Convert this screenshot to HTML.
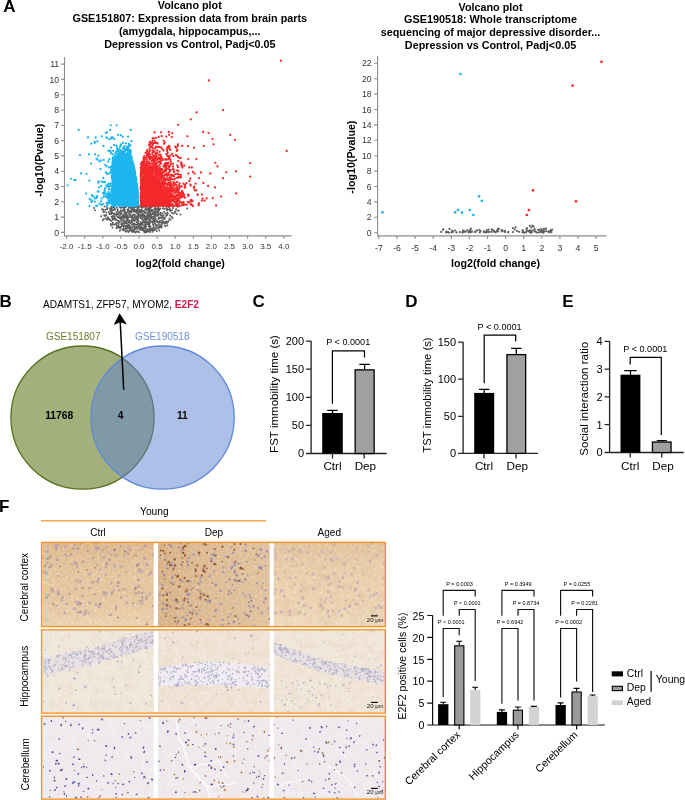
<!DOCTYPE html>
<html><head><meta charset="utf-8"><title>Figure</title>
<style>
html,body{margin:0;padding:0;background:#fff;}
body{width:685px;height:800px;overflow:hidden;}
svg{display:block;font-family:'Liberation Sans', Arial, sans-serif;}
</style></head>
<body>
<svg width="685" height="800" viewBox="0 0 685 800">
<rect width="685" height="800" fill="#fff"/>
<text x="3.20" y="12.40" font-size="17" font-weight="bold">A</text>
<text x="-0.50" y="306.60" font-size="17" font-weight="bold">B</text>
<text x="252.40" y="307.20" font-size="17" font-weight="bold">C</text>
<text x="405.20" y="306.50" font-size="17" font-weight="bold">D</text>
<text x="562.30" y="307.10" font-size="17" font-weight="bold">E</text>
<text x="-1.00" y="512.00" font-size="17" font-weight="bold">F</text>
<text x="189.80" y="8.80" font-size="10.8" font-weight="bold" text-anchor="middle">Volcano plot</text>
<text x="189.80" y="21.70" font-size="10.8" font-weight="bold" text-anchor="middle">GSE151807: Expression data from brain parts</text>
<text x="189.80" y="34.60" font-size="10.8" font-weight="bold" text-anchor="middle">(amygdala, hippocampus,...</text>
<text x="189.80" y="47.50" font-size="10.8" font-weight="bold" text-anchor="middle">Depression vs Control, Padj&lt;0.05</text>
<text x="490.50" y="10.50" font-size="10.8" font-weight="bold" text-anchor="middle">Volcano plot</text>
<text x="490.50" y="23.45" font-size="10.8" font-weight="bold" text-anchor="middle">GSE190518: Whole transcriptome</text>
<text x="490.50" y="36.40" font-size="10.8" font-weight="bold" text-anchor="middle">sequencing of major depressive disorder...</text>
<text x="490.50" y="49.35" font-size="10.8" font-weight="bold" text-anchor="middle">Depression vs Control, Padj&lt;0.05</text>
<path d="M64.5 57.3V235.9H291.6M61.1 232.4H64.5M61.1 217.1H64.5M61.1 201.8H64.5M61.1 186.5H64.5M61.1 171.2H64.5M61.1 155.9H64.5M61.1 140.6H64.5M61.1 125.3H64.5M61.1 110.0H64.5M61.1 94.7H64.5M61.1 79.4H64.5M61.1 64.1H64.5M66.6 235.9V238.7M84.7 235.9V238.7M102.8 235.9V238.7M120.9 235.9V238.7M139.0 235.9V238.7M157.1 235.9V238.7M175.2 235.9V238.7M193.3 235.9V238.7M211.4 235.9V238.7M229.5 235.9V238.7M247.6 235.9V238.7M265.7 235.9V238.7M283.8 235.9V238.7" stroke="#8c8c8c" stroke-width="1.1" fill="none"/>
<text x="59.20" y="235.50" font-size="8.7" text-anchor="end" fill="#333">0</text>
<text x="59.20" y="220.20" font-size="8.7" text-anchor="end" fill="#333">1</text>
<text x="59.20" y="204.90" font-size="8.7" text-anchor="end" fill="#333">2</text>
<text x="59.20" y="189.60" font-size="8.7" text-anchor="end" fill="#333">3</text>
<text x="59.20" y="174.30" font-size="8.7" text-anchor="end" fill="#333">4</text>
<text x="59.20" y="159.00" font-size="8.7" text-anchor="end" fill="#333">5</text>
<text x="59.20" y="143.70" font-size="8.7" text-anchor="end" fill="#333">6</text>
<text x="59.20" y="128.40" font-size="8.7" text-anchor="end" fill="#333">7</text>
<text x="59.20" y="113.10" font-size="8.7" text-anchor="end" fill="#333">8</text>
<text x="59.20" y="97.80" font-size="8.7" text-anchor="end" fill="#333">9</text>
<text x="59.20" y="82.50" font-size="8.7" text-anchor="end" fill="#333">10</text>
<text x="59.20" y="67.20" font-size="8.7" text-anchor="end" fill="#333">11</text>
<text x="66.60" y="249.20" font-size="8.0" text-anchor="middle" fill="#333">-2.0</text>
<text x="84.70" y="249.20" font-size="8.0" text-anchor="middle" fill="#333">-1.5</text>
<text x="102.80" y="249.20" font-size="8.0" text-anchor="middle" fill="#333">-1.0</text>
<text x="120.90" y="249.20" font-size="8.0" text-anchor="middle" fill="#333">-0.5</text>
<text x="139.00" y="249.20" font-size="8.0" text-anchor="middle" fill="#333">0.0</text>
<text x="157.10" y="249.20" font-size="8.0" text-anchor="middle" fill="#333">0.5</text>
<text x="175.20" y="249.20" font-size="8.0" text-anchor="middle" fill="#333">1.0</text>
<text x="193.30" y="249.20" font-size="8.0" text-anchor="middle" fill="#333">1.5</text>
<text x="211.40" y="249.20" font-size="8.0" text-anchor="middle" fill="#333">2.0</text>
<text x="229.50" y="249.20" font-size="8.0" text-anchor="middle" fill="#333">2.5</text>
<text x="247.60" y="249.20" font-size="8.0" text-anchor="middle" fill="#333">3.0</text>
<text x="265.70" y="249.20" font-size="8.0" text-anchor="middle" fill="#333">3.5</text>
<text x="283.80" y="249.20" font-size="8.0" text-anchor="middle" fill="#333">4.0</text>
<text x="180.40" y="266.90" font-size="10.7" font-weight="bold" text-anchor="middle">log2(fold change)</text>
<text x="42.60" y="160.30" font-size="10.7" font-weight="bold" text-anchor="middle" transform="rotate(-90 42.60 160.30)">-log10(Pvalue)</text>
<path d="M377.6 56.1V235.9H606.5M374.2 232.7H377.6M374.2 217.3H377.6M374.2 201.9H377.6M374.2 186.5H377.6M374.2 171.1H377.6M374.2 155.7H377.6M374.2 140.3H377.6M374.2 124.9H377.6M374.2 109.5H377.6M374.2 94.1H377.6M374.2 78.7H377.6M374.2 63.3H377.6M378.9 235.9V239.1M397.0 235.9V239.1M415.1 235.9V239.1M433.2 235.9V239.1M451.3 235.9V239.1M469.4 235.9V239.1M487.5 235.9V239.1M505.6 235.9V239.1M523.7 235.9V239.1M541.8 235.9V239.1M559.9 235.9V239.1M578.0 235.9V239.1M596.1 235.9V239.1" stroke="#8c8c8c" stroke-width="1.1" fill="none"/>
<text x="371.60" y="235.80" font-size="8.7" text-anchor="end" fill="#333">0</text>
<text x="371.60" y="220.40" font-size="8.7" text-anchor="end" fill="#333">2</text>
<text x="371.60" y="205.00" font-size="8.7" text-anchor="end" fill="#333">4</text>
<text x="371.60" y="189.60" font-size="8.7" text-anchor="end" fill="#333">6</text>
<text x="371.60" y="174.20" font-size="8.7" text-anchor="end" fill="#333">8</text>
<text x="371.60" y="158.80" font-size="8.7" text-anchor="end" fill="#333">10</text>
<text x="371.60" y="143.40" font-size="8.7" text-anchor="end" fill="#333">12</text>
<text x="371.60" y="128.00" font-size="8.7" text-anchor="end" fill="#333">14</text>
<text x="371.60" y="112.60" font-size="8.7" text-anchor="end" fill="#333">16</text>
<text x="371.60" y="97.20" font-size="8.7" text-anchor="end" fill="#333">18</text>
<text x="371.60" y="81.80" font-size="8.7" text-anchor="end" fill="#333">20</text>
<text x="371.60" y="66.40" font-size="8.7" text-anchor="end" fill="#333">22</text>
<text x="378.90" y="250.60" font-size="8.7" text-anchor="middle" fill="#333">-7</text>
<text x="397.00" y="250.60" font-size="8.7" text-anchor="middle" fill="#333">-6</text>
<text x="415.10" y="250.60" font-size="8.7" text-anchor="middle" fill="#333">-5</text>
<text x="433.20" y="250.60" font-size="8.7" text-anchor="middle" fill="#333">-4</text>
<text x="451.30" y="250.60" font-size="8.7" text-anchor="middle" fill="#333">-3</text>
<text x="469.40" y="250.60" font-size="8.7" text-anchor="middle" fill="#333">-2</text>
<text x="487.50" y="250.60" font-size="8.7" text-anchor="middle" fill="#333">-1</text>
<text x="505.60" y="250.60" font-size="8.7" text-anchor="middle" fill="#333">0</text>
<text x="523.70" y="250.60" font-size="8.7" text-anchor="middle" fill="#333">1</text>
<text x="541.80" y="250.60" font-size="8.7" text-anchor="middle" fill="#333">2</text>
<text x="559.90" y="250.60" font-size="8.7" text-anchor="middle" fill="#333">3</text>
<text x="578.00" y="250.60" font-size="8.7" text-anchor="middle" fill="#333">4</text>
<text x="596.10" y="250.60" font-size="8.7" text-anchor="middle" fill="#333">5</text>
<text x="495.60" y="266.90" font-size="10.7" font-weight="bold" text-anchor="middle">log2(fold change)</text>
<text x="354.60" y="157.10" font-size="10.7" font-weight="bold" text-anchor="middle" transform="rotate(-90 354.60 157.10)">-log10(Pvalue)</text>
<g fill="#5e5e5e"><circle cx="543.9" cy="229.1" r="1.1"/><circle cx="453.1" cy="231.7" r="1.1"/><circle cx="515.7" cy="227.3" r="1.1"/><circle cx="501.8" cy="231.4" r="1.1"/><circle cx="549.1" cy="232.3" r="1.1"/><circle cx="530.8" cy="232.3" r="1.1"/><circle cx="534.7" cy="229.1" r="1.1"/><circle cx="486.0" cy="232.4" r="1.1"/><circle cx="532.4" cy="225.7" r="1.1"/><circle cx="546.2" cy="231.1" r="1.1"/><circle cx="477.0" cy="230.4" r="1.1"/><circle cx="526.9" cy="228.2" r="1.1"/><circle cx="541.5" cy="230.9" r="1.1"/><circle cx="542.4" cy="232.3" r="1.1"/><circle cx="529.8" cy="225.8" r="1.1"/><circle cx="512.9" cy="232.1" r="1.1"/><circle cx="540.6" cy="231.6" r="1.1"/><circle cx="456.5" cy="232.4" r="1.1"/><circle cx="475.0" cy="232.0" r="1.1"/><circle cx="462.7" cy="232.5" r="1.1"/><circle cx="470.1" cy="230.1" r="1.1"/><circle cx="531.3" cy="227.5" r="1.1"/><circle cx="526.5" cy="229.5" r="1.1"/><circle cx="529.4" cy="231.8" r="1.1"/><circle cx="488.6" cy="229.5" r="1.1"/><circle cx="495.7" cy="232.2" r="1.1"/><circle cx="508.2" cy="232.3" r="1.1"/><circle cx="497.7" cy="228.9" r="1.1"/><circle cx="539.1" cy="232.3" r="1.1"/><circle cx="484.1" cy="231.4" r="1.1"/><circle cx="498.2" cy="231.5" r="1.1"/><circle cx="529.6" cy="230.6" r="1.1"/><circle cx="537.0" cy="232.6" r="1.1"/><circle cx="508.3" cy="232.0" r="1.1"/><circle cx="470.2" cy="231.7" r="1.1"/><circle cx="535.7" cy="231.7" r="1.1"/><circle cx="465.6" cy="231.5" r="1.1"/><circle cx="544.6" cy="229.0" r="1.1"/><circle cx="471.9" cy="231.7" r="1.1"/><circle cx="502.0" cy="230.0" r="1.1"/><circle cx="524.1" cy="232.6" r="1.1"/><circle cx="484.1" cy="231.8" r="1.1"/><circle cx="526.0" cy="232.3" r="1.1"/><circle cx="446.1" cy="232.5" r="1.1"/><circle cx="504.7" cy="231.0" r="1.1"/><circle cx="505.0" cy="231.4" r="1.1"/><circle cx="441.2" cy="231.9" r="1.1"/><circle cx="467.3" cy="230.4" r="1.1"/><circle cx="533.6" cy="226.7" r="1.1"/><circle cx="471.5" cy="231.9" r="1.1"/><circle cx="527.0" cy="231.1" r="1.1"/><circle cx="459.9" cy="232.1" r="1.1"/><circle cx="530.8" cy="232.7" r="1.1"/><circle cx="449.4" cy="228.8" r="1.1"/><circle cx="492.0" cy="229.3" r="1.1"/><circle cx="497.5" cy="231.1" r="1.1"/><circle cx="470.9" cy="228.7" r="1.1"/><circle cx="552.2" cy="229.5" r="1.1"/><circle cx="493.9" cy="231.2" r="1.1"/><circle cx="522.7" cy="230.2" r="1.1"/><circle cx="485.7" cy="232.3" r="1.1"/><circle cx="517.0" cy="231.0" r="1.1"/><circle cx="475.4" cy="231.7" r="1.1"/><circle cx="491.3" cy="231.9" r="1.1"/><circle cx="533.3" cy="230.4" r="1.1"/><circle cx="483.8" cy="232.1" r="1.1"/><circle cx="542.9" cy="231.1" r="1.1"/><circle cx="531.1" cy="230.7" r="1.1"/><circle cx="542.8" cy="230.7" r="1.1"/><circle cx="479.8" cy="232.4" r="1.1"/><circle cx="443.2" cy="229.6" r="1.1"/><circle cx="479.4" cy="229.8" r="1.1"/><circle cx="494.3" cy="231.7" r="1.1"/><circle cx="551.4" cy="232.3" r="1.1"/><circle cx="519.2" cy="231.8" r="1.1"/><circle cx="543.8" cy="231.4" r="1.1"/><circle cx="448.9" cy="232.6" r="1.1"/><circle cx="488.6" cy="232.2" r="1.1"/><circle cx="514.7" cy="229.5" r="1.1"/><circle cx="543.2" cy="232.7" r="1.1"/><circle cx="451.5" cy="232.4" r="1.1"/><circle cx="548.3" cy="231.6" r="1.1"/><circle cx="492.6" cy="230.2" r="1.1"/><circle cx="505.0" cy="232.0" r="1.1"/><circle cx="468.6" cy="232.4" r="1.1"/><circle cx="546.0" cy="228.6" r="1.1"/><circle cx="539.3" cy="229.9" r="1.1"/><circle cx="531.8" cy="232.2" r="1.1"/><circle cx="447.9" cy="232.2" r="1.1"/><circle cx="488.6" cy="231.7" r="1.1"/><circle cx="451.9" cy="230.6" r="1.1"/><circle cx="498.8" cy="228.9" r="1.1"/><circle cx="465.3" cy="231.9" r="1.1"/><circle cx="544.4" cy="231.6" r="1.1"/><circle cx="475.2" cy="232.0" r="1.1"/><circle cx="487.4" cy="231.6" r="1.1"/><circle cx="496.9" cy="231.1" r="1.1"/><circle cx="446.5" cy="231.5" r="1.1"/><circle cx="528.7" cy="230.9" r="1.1"/><circle cx="513.0" cy="228.1" r="1.1"/><circle cx="523.8" cy="232.4" r="1.1"/><circle cx="538.2" cy="229.8" r="1.1"/><circle cx="551.4" cy="230.8" r="1.1"/><circle cx="541.2" cy="231.8" r="1.1"/><circle cx="455.2" cy="230.5" r="1.1"/><circle cx="541.3" cy="229.1" r="1.1"/><circle cx="549.8" cy="231.4" r="1.1"/><circle cx="522.5" cy="232.2" r="1.1"/><circle cx="486.8" cy="230.0" r="1.1"/><circle cx="443.1" cy="229.5" r="1.1"/><circle cx="504.3" cy="231.3" r="1.1"/><circle cx="501.7" cy="230.1" r="1.1"/><circle cx="463.8" cy="230.8" r="1.1"/><circle cx="535.0" cy="231.4" r="1.1"/><circle cx="469.0" cy="231.3" r="1.1"/><circle cx="462.6" cy="232.2" r="1.1"/><circle cx="463.0" cy="230.7" r="1.1"/><circle cx="550.9" cy="230.2" r="1.1"/><circle cx="480.6" cy="231.0" r="1.1"/><circle cx="470.4" cy="232.2" r="1.1"/></g>
<g fill="#1cb5ee"><circle cx="382.5" cy="212.3" r="1.35"/><circle cx="455.1" cy="212.3" r="1.35"/><circle cx="458.0" cy="210.0" r="1.35"/><circle cx="462.0" cy="212.7" r="1.35"/><circle cx="469.8" cy="210.0" r="1.35"/><circle cx="473.4" cy="215.0" r="1.35"/><circle cx="479.0" cy="196.3" r="1.35"/><circle cx="481.9" cy="200.8" r="1.35"/><circle cx="460.4" cy="74.1" r="1.35"/></g>
<g fill="#f5292b"><circle cx="532.9" cy="190.3" r="1.35"/><circle cx="576.0" cy="201.3" r="1.35"/><circle cx="528.9" cy="210.0" r="1.35"/><circle cx="526.8" cy="215.0" r="1.35"/><circle cx="572.6" cy="85.6" r="1.35"/><circle cx="601.5" cy="61.8" r="1.35"/></g>
<path d="M135.5 215.7h0M144.6 226.9h0M142.2 206.9h0M129.5 225.8h0M148.9 207.6h0M135.5 228.9h0M106.2 212.5h0M110.4 209.4h0M163.1 208.6h0M114.9 209.8h0M154.5 208.8h0M155.8 218.8h0M152.7 214.0h0M136.8 222.0h0M144.2 222.8h0M158.4 212.3h0M162.3 223.6h0M155.8 224.4h0M128.3 217.7h0M124.0 223.7h0M142.0 208.1h0M127.7 215.5h0M158.5 224.1h0M150.9 230.0h0M122.1 224.2h0M129.1 211.6h0M120.4 228.6h0M148.6 223.8h0M140.0 210.4h0M144.5 215.5h0M112.7 216.3h0M114.2 214.5h0M116.4 215.3h0M122.4 229.8h0M134.5 214.8h0M139.7 228.8h0M140.2 227.8h0M151.1 209.5h0M160.3 217.4h0M145.1 218.1h0M153.7 225.9h0M102.8 220.2h0M139.1 232.2h0M162.2 222.7h0M147.9 209.8h0M103.1 209.6h0M154.6 228.1h0M118.1 221.0h0M166.3 206.7h0M140.7 217.9h0M110.8 225.3h0M125.8 223.3h0M160.8 212.8h0M158.4 228.6h0M135.6 206.4h0M154.0 220.1h0M141.1 224.6h0M116.4 228.2h0M162.7 217.4h0M160.2 208.8h0M138.3 213.6h0M129.1 213.3h0M124.2 214.2h0M134.5 231.7h0M105.2 210.1h0M167.4 212.6h0M141.2 215.5h0M122.9 218.0h0M119.8 221.9h0M153.7 229.9h0M121.6 223.2h0M158.0 221.8h0M139.6 216.4h0M144.4 232.4h0M122.7 216.5h0M129.6 227.3h0M133.1 214.7h0M126.5 215.2h0M153.2 216.8h0M125.0 222.2h0M126.9 219.9h0M133.3 218.6h0M126.3 225.7h0M106.9 208.6h0M157.8 208.4h0M117.7 225.9h0M147.4 214.2h0M159.9 217.9h0M166.7 223.4h0M127.9 228.0h0M146.4 217.2h0M133.9 214.7h0M151.8 221.5h0M138.2 211.5h0M101.3 216.2h0M136.3 213.0h0M129.5 207.0h0M137.6 220.5h0M132.3 216.5h0M175.1 212.5h0M119.4 217.9h0M131.7 222.3h0M129.6 220.4h0M129.8 226.7h0M157.5 208.1h0M134.4 209.6h0M173.7 213.5h0M167.8 213.4h0M144.4 221.7h0M125.5 228.2h0M130.5 228.2h0M121.2 226.8h0M148.6 226.0h0M154.3 220.6h0M154.7 216.6h0M122.1 221.1h0M142.1 219.0h0M123.4 209.6h0M160.4 222.2h0M149.0 211.7h0M129.9 215.2h0M154.4 206.4h0M145.9 224.6h0M142.1 222.5h0M116.4 214.0h0M127.6 225.8h0M137.8 208.7h0M146.7 221.8h0M117.5 211.0h0M132.0 231.5h0M117.0 207.8h0M152.7 210.1h0M150.5 211.8h0M149.5 216.1h0M123.4 211.6h0M134.2 230.3h0M147.7 208.6h0M139.5 229.4h0M148.0 218.3h0M118.4 225.9h0M148.1 211.1h0M143.1 230.5h0M114.7 216.7h0M126.3 213.6h0M123.2 207.2h0M151.6 216.6h0M112.6 213.1h0M130.5 230.6h0M116.5 212.5h0M149.8 207.0h0M154.3 230.2h0M104.0 211.9h0M148.4 222.1h0M153.8 212.0h0M133.7 208.3h0M145.3 227.4h0M140.8 222.2h0M114.0 218.9h0M110.9 223.9h0M130.7 216.4h0M123.7 216.1h0M144.1 230.3h0M160.3 225.5h0M140.7 229.7h0M138.5 212.6h0M130.4 215.0h0M141.6 210.1h0M118.8 221.0h0M135.5 232.4h0M137.1 211.9h0M127.4 209.6h0M147.3 219.1h0M134.5 226.9h0M151.1 211.3h0M111.7 208.7h0M117.7 209.5h0M157.3 211.5h0M150.3 213.0h0M130.4 223.0h0M152.6 222.7h0M127.4 230.7h0M156.0 214.4h0M155.5 220.5h0M149.0 229.8h0M129.8 225.8h0M117.2 225.7h0M123.6 222.9h0M137.6 224.5h0M108.8 212.1h0M151.7 207.1h0M141.5 229.8h0M157.2 209.5h0M148.7 217.1h0M140.3 226.6h0M119.3 217.5h0M143.2 207.1h0M107.2 208.1h0M152.0 228.8h0M136.5 228.7h0M144.1 206.8h0M118.5 226.5h0M136.8 224.6h0M167.8 209.4h0M128.9 207.7h0M95.0 210.2h0M110.0 214.2h0M180.5 214.4h0M151.7 206.7h0M145.4 222.2h0M161.5 226.3h0M122.0 218.6h0M138.6 211.8h0M121.9 223.9h0M141.0 211.8h0M152.5 218.4h0M147.9 215.7h0M139.3 226.8h0M150.7 228.4h0M163.1 206.6h0M114.1 213.6h0M146.6 223.2h0M164.9 217.5h0M162.2 216.0h0M138.3 219.6h0M145.6 206.6h0M125.9 207.0h0M168.5 221.1h0M111.1 214.0h0M142.2 219.4h0M124.9 207.2h0M119.8 215.6h0M159.2 210.2h0M150.8 218.1h0M133.6 230.5h0M169.3 218.7h0M145.7 220.6h0M173.0 207.9h0M141.9 217.2h0M158.4 210.6h0M136.7 212.1h0M137.4 211.4h0M147.9 230.8h0M161.1 222.6h0M157.8 213.5h0M129.9 212.1h0M108.3 218.2h0M132.8 206.4h0M171.6 216.9h0M136.7 226.9h0M126.7 228.4h0M145.5 213.1h0M149.1 211.2h0M143.6 221.1h0M103.9 219.0h0M139.7 206.4h0M137.4 207.6h0M137.5 216.4h0M133.2 209.4h0M134.1 227.2h0M152.6 218.8h0M126.4 214.3h0M152.6 213.2h0M110.5 210.2h0M170.5 219.7h0M139.2 209.6h0M138.6 221.6h0M131.8 211.1h0M135.1 224.2h0M139.6 211.0h0M117.5 216.8h0M145.1 212.2h0M141.8 212.4h0M112.4 218.7h0M123.7 226.2h0M124.3 208.0h0M149.6 224.0h0M158.8 208.6h0M118.2 217.5h0M139.2 212.8h0M123.6 207.2h0M153.8 225.4h0M162.6 216.5h0M131.0 210.7h0M133.3 207.8h0M169.0 207.2h0M138.6 206.9h0M155.6 212.3h0M169.5 209.5h0M142.5 224.5h0M113.3 218.4h0M161.7 224.4h0M165.6 213.8h0M148.2 212.7h0M126.9 212.4h0M114.2 224.6h0M137.1 210.2h0M159.2 222.4h0M112.1 210.8h0M170.1 210.1h0M149.2 208.6h0M150.3 214.8h0M129.3 214.2h0M123.7 220.0h0M136.6 219.6h0M146.1 230.4h0M109.3 213.8h0M141.6 210.9h0M126.5 226.4h0M120.3 213.6h0M167.1 214.9h0M118.2 214.3h0M137.1 231.4h0M144.1 231.2h0M137.6 222.5h0M124.5 209.6h0M132.7 217.5h0M165.1 222.1h0M149.8 223.1h0M132.5 215.3h0M112.5 227.4h0M156.8 216.0h0M156.6 228.1h0M133.5 231.4h0M161.7 217.6h0M163.6 215.4h0M120.0 218.0h0M133.4 211.1h0M147.7 224.0h0M127.9 210.9h0M144.2 226.2h0M112.6 224.6h0M143.8 217.0h0M163.1 218.5h0M111.5 220.9h0M145.8 230.8h0M146.6 219.2h0M141.1 226.6h0M131.5 217.7h0M138.3 217.7h0M141.3 210.0h0M122.1 217.3h0M178.3 210.7h0M138.9 216.6h0M138.0 224.7h0M125.4 215.7h0M145.1 224.5h0M166.4 221.5h0M137.0 219.5h0M128.4 224.2h0M126.2 223.2h0M145.0 216.4h0M149.2 229.2h0M104.7 206.4h0M163.6 218.8h0M119.3 212.1h0M116.4 220.1h0M163.5 222.5h0M133.1 225.0h0M159.3 230.4h0M156.3 226.0h0M156.0 212.3h0M125.5 221.2h0M149.4 228.1h0M139.1 225.5h0M132.7 230.8h0M106.2 214.9h0M145.6 217.7h0M150.6 214.6h0M163.3 221.7h0M128.7 222.1h0M146.1 226.4h0M135.9 217.6h0M118.3 221.8h0M150.6 226.5h0M121.1 214.0h0M150.2 219.0h0M152.0 230.3h0M132.4 207.3h0M122.6 225.8h0M150.9 206.9h0M132.5 227.2h0M145.6 228.2h0M146.7 232.3h0M135.8 216.9h0M125.6 226.0h0M153.0 211.3h0M128.8 228.6h0M154.8 209.2h0M153.9 219.3h0M118.1 227.4h0M141.5 223.9h0M152.6 229.5h0M115.1 219.5h0M106.1 218.5h0M175.6 211.3h0M128.8 210.5h0M131.3 221.1h0M127.8 219.7h0M135.8 211.0h0M154.8 222.7h0M151.3 218.0h0M138.7 223.9h0M117.5 217.0h0M175.3 211.5h0M134.3 217.2h0M126.2 222.2h0M137.3 219.7h0M166.6 206.8h0M125.2 230.0h0M126.6 227.1h0M159.9 227.2h0M116.2 223.0h0M120.4 211.9h0M128.4 231.9h0M165.4 226.3h0M150.3 219.9h0M138.1 227.2h0M135.0 227.9h0M122.4 225.3h0M131.6 227.3h0M159.8 221.0h0M164.8 223.2h0M131.4 210.3h0M150.3 221.9h0M155.0 223.2h0M155.2 218.1h0M152.7 230.0h0M136.6 218.1h0M121.6 210.8h0M158.4 218.9h0M145.4 226.3h0M164.3 212.0h0M149.1 231.2h0M138.9 214.7h0M157.9 214.9h0M144.0 218.9h0M141.1 215.1h0M120.1 226.8h0M142.9 211.0h0M122.1 207.2h0M126.0 228.8h0M116.0 224.5h0M109.9 208.4h0M144.4 211.9h0M133.6 220.5h0M150.2 232.1h0M130.8 208.1h0M124.6 225.5h0M118.9 227.5h0M120.5 217.5h0M116.0 214.4h0M119.9 230.7h0M150.2 208.4h0M111.6 216.8h0M122.5 215.2h0M157.3 225.5h0M127.7 218.3h0M147.2 215.6h0M144.2 217.3h0M137.7 222.4h0M169.8 208.7h0M132.2 220.8h0M118.8 224.0h0M120.0 207.3h0M136.0 210.3h0M114.8 208.4h0M129.1 226.5h0M127.2 216.9h0M157.7 207.6h0M124.9 213.2h0M142.8 214.0h0M125.9 231.8h0M140.3 212.4h0M145.1 209.4h0M177.8 206.8h0M140.0 224.0h0M167.3 222.5h0M116.0 219.2h0M137.0 209.5h0M134.8 224.7h0M145.7 208.5h0M127.8 221.4h0M124.2 221.0h0M149.3 209.2h0M172.5 218.1h0M172.1 210.3h0M137.5 228.5h0M133.8 206.5h0M134.8 226.2h0M110.0 219.7h0M131.9 220.2h0M123.3 229.5h0M134.6 221.1h0M138.2 215.6h0M124.8 206.7h0M130.8 229.4h0M162.7 220.9h0M157.9 213.2h0M116.9 227.0h0M160.4 208.4h0M176.8 214.1h0M124.8 210.2h0M130.6 223.1h0M141.2 206.9h0M137.7 215.1h0M114.6 218.0h0M145.6 231.9h0M144.1 228.2h0M143.8 214.1h0M149.2 225.1h0M155.2 210.9h0M111.3 206.9h0M146.8 222.2h0M142.4 222.7h0M152.7 223.8h0M134.6 211.5h0M166.8 209.9h0M132.1 229.5h0M129.8 228.9h0M153.8 218.8h0M148.2 224.1h0M131.4 212.2h0M116.9 223.3h0M120.9 219.1h0M134.3 211.8h0M149.7 228.6h0M154.3 214.8h0M117.4 213.7h0M145.6 220.1h0M123.9 230.4h0M121.3 216.9h0M132.0 231.0h0M164.6 218.6h0M119.5 215.8h0M152.6 221.2h0M109.3 219.7h0M170.2 210.9h0M155.4 229.2h0M150.3 217.3h0M153.2 224.4h0M111.0 212.2h0M152.1 214.3h0M126.2 216.2h0M107.4 219.3h0M132.7 229.7h0M138.0 231.6h0M138.2 207.0h0M155.4 215.1h0M155.2 213.5h0M145.9 218.4h0M127.8 228.2h0M132.5 210.4h0M112.4 207.7h0M112.7 217.0h0M147.1 229.6h0M149.3 210.3h0M120.9 219.8h0M149.4 211.3h0M132.5 218.7h0M129.0 224.5h0M115.8 219.9h0M146.1 212.6h0M126.8 219.0h0M157.2 222.1h0M131.5 208.5h0M123.6 228.3h0M164.7 219.1h0M134.5 228.7h0M143.9 215.4h0M158.8 217.6h0M102.0 209.3h0M160.6 214.1h0M135.3 219.5h0M136.7 231.4h0M129.3 211.4h0M121.3 224.3h0M128.4 209.8h0M158.6 227.0h0M131.3 207.6h0M142.5 229.6h0M146.8 224.2h0M104.2 215.3h0M156.9 220.9h0M148.3 219.4h0M153.5 213.4h0M167.4 225.5h0M147.4 231.0h0M146.5 229.8h0M145.9 216.5h0M139.6 215.0h0M158.2 215.2h0M149.1 221.6h0M178.8 210.5h0M159.1 214.3h0M146.2 232.3h0M160.8 215.1h0M114.1 207.3h0M162.6 213.5h0M120.8 207.8h0M123.7 210.0h0M134.3 223.7h0M129.0 231.2h0M122.5 217.7h0M129.3 216.9h0M140.6 212.6h0M142.0 228.9h0M112.8 222.7h0M132.8 219.8h0M142.4 227.8h0M159.9 225.6h0M168.4 221.6h0M120.5 213.2h0M113.5 209.9h0M149.0 214.3h0M150.0 226.7h0M156.7 231.1h0M146.1 207.1h0M137.1 206.8h0M166.9 208.4h0M113.4 215.6h0M125.7 217.5h0M125.0 212.2h0M166.3 215.7h0M119.0 212.5h0M127.3 226.5h0M149.7 208.8h0M146.1 209.9h0M154.4 221.8h0M125.9 216.6h0M105.2 216.2h0M124.8 216.6h0M144.2 225.3h0M141.1 227.8h0M145.2 218.9h0M148.3 217.7h0M135.5 216.0h0M152.6 231.8h0M136.8 226.5h0M131.9 224.8h0M142.6 215.4h0M120.8 210.2h0M142.8 221.9h0M150.8 215.4h0M161.8 220.5h0M161.6 227.5h0M134.8 207.2h0M133.1 223.6h0M187.2 208.4h0M107.2 209.3h0M143.5 228.2h0M132.5 232.1h0M147.5 217.2h0M133.6 219.3h0M127.9 225.8h0M94.1 208.0h0M111.3 207.3h0M164.7 225.5h0M109.1 218.9h0M131.3 212.8h0M153.4 227.4h0M172.0 212.8h0M127.8 224.0h0M106.9 219.5h0M156.5 209.5h0M155.2 208.3h0M129.3 221.4h0M170.0 215.4h0M148.9 231.4h0M127.8 219.4h0M149.3 219.7h0M156.3 221.0h0M143.9 211.3h0M124.4 218.0h0M164.7 208.7h0M121.4 213.3h0M103.3 211.6h0M143.1 228.8h0M112.7 219.4h0M127.4 212.1h0M176.2 209.3h0M107.9 217.2h0" stroke="#5e5e5e" stroke-width="2.0" stroke-linecap="round" fill="none"/>
<path d="M116.8 179.6h0M127.1 203.6h0M112.3 186.0h0M117.4 201.3h0M114.7 183.7h0M120.9 190.2h0M137.5 189.0h0M128.6 159.0h0M114.3 206.1h0M120.7 176.6h0M118.6 179.1h0M118.3 189.9h0M128.9 162.9h0M123.6 161.4h0M135.5 199.9h0M117.1 179.4h0M113.6 162.3h0M121.3 161.3h0M129.8 192.2h0M116.9 183.0h0M129.0 164.9h0M128.4 201.5h0M130.5 194.0h0M128.2 150.1h0M134.5 172.3h0M114.6 160.4h0M115.2 168.7h0M126.5 186.3h0M136.7 185.6h0M134.1 206.1h0M130.3 177.6h0M132.4 171.8h0M132.7 190.8h0M129.6 164.0h0M130.4 163.7h0M120.0 164.7h0M112.1 179.0h0M115.8 167.9h0M127.5 177.8h0M132.5 179.4h0M120.7 154.2h0M112.7 176.3h0M115.9 191.3h0M137.1 187.5h0M132.0 163.0h0M127.6 199.6h0M115.1 164.6h0M137.9 194.9h0M119.5 164.5h0M133.1 182.9h0M127.0 183.8h0M125.3 176.3h0M119.3 151.9h0M115.9 171.5h0M123.5 199.0h0M125.1 160.5h0M124.9 158.6h0M130.5 187.8h0M129.2 159.3h0M123.9 191.2h0M130.7 188.4h0M121.3 193.9h0M128.5 172.9h0M132.9 204.7h0M129.0 144.0h0M114.2 165.3h0M133.0 164.1h0M133.0 178.3h0M125.7 158.8h0M118.0 157.2h0M112.3 194.3h0M126.2 161.1h0M123.5 180.7h0M117.0 158.1h0M114.4 189.0h0M137.0 185.8h0M121.1 203.1h0M123.8 202.5h0M121.0 168.4h0M114.7 171.8h0M126.4 153.9h0M123.7 185.7h0M123.9 162.6h0M125.0 204.8h0M128.9 174.0h0M121.4 172.7h0M115.9 193.0h0M125.1 174.0h0M117.3 162.9h0M130.4 174.2h0M120.1 171.5h0M129.2 159.8h0M128.0 167.1h0M110.5 151.2h0M135.5 187.9h0M118.5 160.4h0M116.7 191.2h0M124.0 187.9h0M118.2 180.0h0M117.6 195.1h0M123.4 170.1h0M117.8 167.7h0M119.8 156.0h0M124.5 179.0h0M122.6 189.4h0M133.5 185.4h0M113.3 178.8h0M113.4 192.8h0M137.9 195.5h0M136.3 180.7h0M132.5 173.2h0M116.0 176.2h0M120.1 161.7h0M125.1 165.0h0M132.7 177.4h0M125.0 155.1h0M136.0 204.4h0M122.5 162.7h0M132.0 194.9h0M127.6 182.3h0M128.8 196.2h0M132.6 197.1h0M135.6 178.4h0M127.2 196.9h0M128.3 163.0h0M118.3 202.0h0M133.9 167.4h0M116.4 169.4h0M112.7 190.0h0M130.2 175.0h0M113.6 187.7h0M125.8 157.7h0M121.6 182.2h0M114.1 189.5h0M138.0 194.2h0M114.2 188.8h0M123.1 170.8h0M114.5 178.4h0M127.6 193.7h0M122.0 166.2h0M136.5 183.5h0M135.8 177.4h0M121.1 162.7h0M131.0 199.2h0M128.0 158.3h0M118.6 205.9h0M117.2 183.7h0M118.4 181.1h0M133.2 204.5h0M136.9 193.9h0M117.1 148.0h0M120.3 184.7h0M107.1 173.9h0M125.7 161.9h0M119.6 182.9h0M111.4 189.6h0M117.4 204.1h0M135.4 176.3h0M121.4 181.4h0M121.2 187.2h0M116.5 160.3h0M116.5 199.0h0M122.1 201.7h0M108.4 150.8h0M133.1 205.9h0M118.3 173.4h0M112.2 174.9h0M128.0 185.1h0M126.4 169.2h0M127.4 173.0h0M135.0 204.3h0M115.5 202.7h0M113.7 170.2h0M130.1 182.5h0M129.3 156.3h0M138.2 201.1h0M126.4 199.8h0M115.4 167.0h0M132.1 186.9h0M130.0 160.9h0M131.3 179.9h0M116.2 181.9h0M134.7 189.4h0M115.6 181.6h0M118.3 161.9h0M115.3 187.1h0M123.6 197.2h0M112.4 173.9h0M133.5 199.1h0M122.2 154.0h0M138.0 198.2h0M115.6 180.2h0M132.7 164.9h0M116.2 181.4h0M126.0 196.4h0M137.4 191.3h0M121.9 189.6h0M137.4 187.2h0M121.5 173.2h0M126.3 172.2h0M124.7 188.2h0M132.0 179.8h0M128.3 165.5h0M117.1 170.4h0M123.8 176.3h0M117.9 176.6h0M128.4 160.7h0M124.9 191.9h0M132.8 190.7h0M130.1 199.2h0M128.8 182.6h0M131.5 185.1h0M131.3 158.7h0M118.3 192.8h0M124.3 158.4h0M119.5 175.5h0M122.5 159.1h0M136.1 179.7h0M129.0 197.5h0M121.9 174.3h0M121.9 156.7h0M126.9 195.2h0M136.1 181.9h0M125.0 182.4h0M121.7 204.7h0M133.6 198.3h0M134.7 171.3h0M114.6 186.7h0M124.0 178.2h0M126.1 189.8h0M132.2 172.2h0M113.6 185.0h0M133.6 169.3h0M121.6 165.0h0M120.5 192.7h0M121.5 155.0h0M123.9 192.4h0M129.3 164.7h0M131.4 180.8h0M126.0 204.6h0M119.7 183.9h0M130.2 178.5h0M127.0 170.8h0M131.3 158.3h0M121.7 174.7h0M127.7 184.9h0M121.0 196.9h0M121.9 163.9h0M117.0 164.8h0M118.8 164.9h0M127.2 177.0h0M128.2 177.9h0M137.7 193.0h0M137.3 205.1h0M135.6 190.2h0M113.6 171.8h0M106.4 195.8h0M116.3 163.7h0M128.9 156.7h0M122.7 187.0h0M116.0 187.3h0M120.5 199.3h0M126.5 158.0h0M112.9 157.5h0M128.0 170.3h0M119.0 202.5h0M132.6 186.4h0M109.5 139.3h0M120.3 168.1h0M132.9 176.7h0M130.7 168.2h0M118.0 189.4h0M128.4 187.6h0M126.1 196.1h0M125.9 180.7h0M116.2 167.3h0M132.9 162.6h0M138.0 196.7h0M116.8 176.2h0M132.0 201.6h0M117.6 180.8h0M122.9 201.2h0M123.4 204.4h0M125.4 167.8h0M135.1 175.4h0M131.9 189.4h0M127.7 157.1h0M121.0 160.8h0M133.6 181.5h0M126.5 162.2h0M136.3 194.7h0M124.8 185.5h0M128.4 151.2h0M125.8 154.0h0M127.7 193.2h0M121.2 177.5h0M125.0 161.3h0M122.7 184.2h0M133.8 174.1h0M116.6 160.2h0M119.4 160.9h0M117.4 197.9h0M134.5 173.2h0M123.0 166.8h0M132.7 170.5h0M122.3 181.1h0M110.6 172.3h0M114.9 167.5h0M129.0 188.3h0M132.5 181.2h0M116.7 161.5h0M123.7 184.2h0M124.9 180.8h0M130.7 165.3h0M127.7 197.4h0M130.7 163.2h0M117.4 199.7h0M129.9 157.4h0M114.6 161.2h0M128.3 184.3h0M125.8 162.5h0M127.2 158.3h0M117.1 196.5h0M135.1 172.5h0M136.1 180.9h0M124.2 153.2h0M136.2 178.5h0M134.7 182.0h0M116.4 172.1h0M114.1 196.1h0M121.2 165.3h0M136.3 199.5h0M119.6 190.1h0M118.0 177.6h0M116.6 202.8h0M130.6 183.3h0M122.9 185.5h0M120.3 179.1h0M118.6 198.3h0M119.6 162.1h0M132.4 187.8h0M123.9 190.3h0M131.0 167.1h0M117.7 176.8h0M137.6 192.5h0M129.3 171.3h0M108.8 183.6h0M106.6 166.3h0M121.9 201.3h0M128.0 155.2h0M119.1 161.8h0M124.2 152.0h0M114.1 161.5h0M135.0 194.4h0M121.4 189.4h0M112.7 165.8h0M119.6 195.5h0M129.8 197.5h0M120.8 201.3h0M123.0 151.8h0M135.9 179.5h0M115.3 160.8h0M130.2 157.9h0M130.8 168.7h0M126.1 156.5h0M135.0 187.2h0M129.0 195.6h0M136.9 200.0h0M120.2 160.3h0M118.3 203.4h0M113.9 160.8h0M114.6 196.4h0M119.3 171.6h0M130.9 194.1h0M118.1 171.5h0M121.2 182.2h0M121.8 155.8h0M124.1 171.1h0M112.7 167.5h0M132.2 193.5h0M115.9 198.1h0M125.7 177.5h0M114.5 205.7h0M119.8 194.3h0M119.6 178.1h0M133.9 187.4h0M131.9 190.7h0M115.3 158.6h0M114.4 166.5h0M126.1 173.6h0M116.3 164.6h0M118.3 183.4h0M134.0 181.8h0M137.5 190.3h0M127.7 160.8h0M128.0 195.0h0M127.9 198.4h0M130.6 202.4h0M114.1 183.0h0M125.1 155.9h0M127.1 163.5h0M127.1 187.0h0M123.5 163.8h0M128.2 152.5h0M113.2 165.3h0M135.0 180.7h0M113.4 189.8h0M116.7 159.3h0M131.2 162.6h0M123.9 182.4h0M132.9 166.1h0M130.1 197.0h0M136.0 177.6h0M131.0 170.5h0M126.6 201.0h0M112.8 172.7h0M123.4 155.3h0M128.9 198.5h0M117.3 184.7h0M115.5 153.3h0M117.5 154.3h0M115.6 194.1h0M122.2 158.7h0M124.1 200.8h0M129.3 189.7h0M126.8 198.5h0M125.6 188.0h0M135.2 174.0h0M122.5 173.0h0M135.2 177.0h0M131.3 198.4h0M124.1 178.8h0M112.9 160.1h0M129.6 179.5h0M134.5 169.8h0M134.9 178.3h0M114.7 194.3h0M128.6 189.4h0M121.9 183.1h0M129.4 187.2h0M122.0 191.7h0M133.7 189.8h0M122.4 170.8h0M123.5 206.0h0M122.5 154.9h0M131.6 186.2h0M114.8 163.5h0M108.6 193.3h0M120.4 201.5h0M116.6 175.2h0M130.6 153.3h0M125.6 177.3h0M118.2 168.6h0M113.5 179.3h0M130.7 169.6h0M112.3 163.1h0M135.4 203.9h0M128.5 161.7h0M104.4 193.1h0M123.9 154.5h0M136.4 195.9h0M131.2 195.8h0M129.7 185.9h0M127.5 166.4h0M121.3 157.5h0M112.5 201.6h0M120.2 177.6h0M128.7 203.6h0M120.7 167.8h0M121.8 177.6h0M113.1 187.9h0M124.6 186.7h0M103.5 182.1h0M134.2 193.6h0M122.8 172.1h0M121.7 163.4h0M120.7 197.9h0M109.5 197.9h0M134.1 191.5h0M129.2 170.7h0M136.9 183.9h0M114.8 178.0h0M128.6 159.5h0M114.3 177.2h0M133.1 167.8h0M131.9 165.7h0M133.1 168.7h0M114.9 201.8h0M126.9 165.5h0M130.7 189.9h0M136.7 194.0h0M110.2 197.0h0M127.5 164.3h0M113.9 168.6h0M115.4 206.0h0M114.8 170.7h0M112.4 165.5h0M116.7 157.0h0M117.9 164.0h0M118.6 155.8h0M118.5 196.5h0M116.0 199.0h0M136.4 183.7h0M117.2 203.3h0M127.2 159.6h0M128.4 193.9h0M118.4 193.7h0M92.2 200.4h0M119.5 179.9h0M130.0 200.6h0M133.6 202.2h0M112.3 167.4h0M129.7 181.0h0M125.6 201.5h0M129.1 178.9h0M122.1 153.3h0M136.5 187.7h0M137.0 196.9h0M133.1 173.8h0M132.9 192.6h0M133.7 190.8h0M128.1 162.3h0M120.3 183.6h0M118.9 186.1h0M131.4 161.9h0M113.7 176.0h0M127.7 154.4h0M131.8 162.1h0M128.6 171.3h0M126.0 191.1h0M122.6 175.0h0M118.9 174.4h0M127.0 173.9h0M117.0 164.9h0M133.6 177.1h0M133.8 170.6h0M134.0 167.6h0M115.0 192.1h0M114.0 167.0h0M120.4 176.9h0M128.6 166.4h0M118.3 176.1h0M119.8 165.8h0M133.4 173.6h0M114.6 162.3h0M132.9 204.2h0M131.6 175.1h0M114.5 172.2h0M112.4 194.7h0M116.2 196.8h0M113.5 201.8h0M135.0 203.2h0M121.1 170.2h0M136.3 200.1h0M123.0 155.8h0M112.6 174.8h0M119.8 154.3h0M127.7 169.1h0M101.4 198.6h0M119.7 197.1h0M125.5 166.5h0M120.2 198.5h0M117.8 149.3h0M122.8 157.2h0M135.5 184.7h0M135.8 197.1h0M113.4 200.4h0M114.0 177.7h0M132.0 175.8h0M125.9 173.2h0M123.1 191.7h0M122.7 183.0h0M127.8 170.1h0M126.6 164.5h0M114.1 203.8h0M132.3 196.5h0M122.0 168.3h0M120.5 170.2h0M123.3 178.2h0M129.0 155.1h0M115.0 174.0h0M113.9 168.1h0M116.3 157.8h0M110.3 197.7h0M119.0 187.9h0M128.4 202.9h0M125.7 179.5h0M125.8 197.9h0M123.5 174.9h0M125.5 198.6h0M129.3 185.6h0M126.0 169.4h0M112.2 205.6h0M125.2 181.3h0M129.7 155.0h0M133.0 166.8h0M113.7 196.8h0M114.2 181.8h0M130.7 161.2h0M134.0 182.8h0M125.9 200.5h0M135.0 175.3h0M120.7 190.9h0M112.5 170.9h0M128.6 191.6h0M122.1 193.7h0M133.9 168.5h0M137.6 195.8h0M132.7 172.1h0M124.3 156.6h0M125.2 203.1h0M115.3 204.8h0M129.9 189.8h0M119.6 155.6h0M124.7 184.6h0M130.0 187.0h0M122.8 154.1h0M129.0 151.6h0M134.6 174.1h0M114.7 201.5h0M137.9 205.2h0M127.5 190.0h0M131.2 185.9h0M118.9 194.0h0M117.6 175.9h0M137.8 200.5h0M117.2 166.0h0M120.9 195.6h0M122.2 180.4h0M115.8 162.7h0M117.8 192.0h0M105.9 132.9h0M112.8 167.2h0M123.3 191.2h0M112.3 169.3h0M133.3 165.6h0M135.6 192.7h0M125.7 166.2h0M121.8 186.6h0M121.2 174.1h0M129.9 167.0h0M116.0 158.1h0M118.5 198.9h0M123.1 165.8h0M120.2 191.3h0M127.8 161.6h0M113.3 170.0h0M119.3 166.7h0M133.6 165.7h0M130.8 130.0h0M115.4 166.5h0M115.6 185.2h0M123.8 181.0h0M128.6 204.9h0M120.1 166.5h0M124.5 168.1h0M122.7 199.6h0M113.1 192.5h0M126.2 193.8h0M137.8 199.7h0M115.2 187.5h0M119.5 182.0h0M136.9 184.7h0M114.7 157.9h0M129.1 152.1h0M137.1 188.9h0M112.6 198.8h0M112.3 188.6h0M128.4 169.1h0M120.1 187.1h0M126.8 184.3h0M115.2 169.7h0M122.8 184.7h0M126.0 196.6h0M111.6 176.0h0M116.2 192.5h0M123.8 179.5h0M122.1 160.0h0M115.2 180.5h0M132.3 183.8h0M114.4 204.1h0M124.8 198.5h0M120.4 204.8h0M131.0 159.7h0M132.5 163.5h0M125.5 165.4h0M127.5 158.9h0M130.7 203.2h0M112.7 181.5h0M129.4 167.9h0M126.1 203.9h0M124.5 153.7h0M127.7 175.4h0M122.3 190.9h0M136.1 198.7h0M123.2 182.2h0M113.4 173.0h0M112.2 175.8h0M122.5 152.4h0M118.8 188.3h0M134.3 186.7h0M112.3 176.8h0M110.2 129.9h0M135.0 200.7h0M111.5 190.7h0M130.7 187.5h0M135.9 186.7h0M131.4 141.2h0M131.3 166.2h0M127.8 180.5h0M119.2 168.8h0M118.8 158.1h0M124.0 161.0h0M129.6 166.5h0M130.0 190.9h0M118.9 198.2h0M134.1 176.3h0M129.1 192.5h0M119.0 156.0h0M123.8 156.9h0M133.6 197.4h0M137.8 192.7h0M125.4 164.2h0M124.5 169.1h0M114.4 199.1h0M121.0 201.8h0M119.3 163.0h0M136.8 201.9h0M131.8 169.6h0M127.7 202.6h0M103.3 178.0h0M129.6 160.3h0M123.7 164.4h0M120.4 163.8h0M116.0 191.9h0M132.2 173.7h0M100.5 169.0h0M136.1 197.2h0M124.6 162.5h0M118.7 165.5h0M115.5 197.3h0M106.9 206.1h0M135.8 202.4h0M123.1 198.3h0M129.4 157.6h0M132.1 200.6h0M124.8 157.0h0M113.2 199.4h0M131.4 194.0h0M130.3 168.0h0M137.6 198.5h0M117.7 163.4h0M130.6 193.5h0M103.6 197.1h0M119.3 180.4h0M133.8 203.9h0M112.4 172.4h0M126.6 160.0h0M112.3 181.3h0M117.8 158.6h0M120.4 151.5h0M126.4 177.2h0M131.6 205.6h0M131.4 200.0h0M136.1 202.3h0M131.3 171.6h0M127.7 188.1h0M130.4 169.5h0M113.1 179.4h0M127.8 180.6h0M113.7 169.3h0M116.0 189.6h0M120.3 203.4h0M124.6 164.0h0M113.6 191.5h0M124.7 170.0h0M120.9 180.6h0M128.8 194.1h0M113.1 164.1h0M120.3 174.2h0M124.9 196.7h0M133.9 195.5h0M118.0 195.1h0M121.0 188.4h0M132.4 180.7h0M115.5 159.3h0M125.0 183.2h0M125.0 163.1h0M118.9 173.6h0M114.1 145.2h0M123.7 200.6h0M126.3 170.2h0M131.0 196.2h0M127.1 187.8h0M120.2 172.6h0M116.5 177.4h0M121.6 175.6h0M118.8 171.9h0M135.1 186.3h0M117.6 153.8h0M120.8 159.7h0M112.9 137.5h0M117.9 191.9h0M120.8 167.0h0M112.5 173.7h0M117.2 150.1h0M135.8 199.5h0M102.4 182.1h0M129.0 200.8h0M129.8 162.0h0M117.7 191.2h0M133.7 188.3h0M116.7 171.6h0M131.0 177.0h0M135.8 194.9h0M135.0 181.8h0M122.5 168.7h0M130.1 155.8h0M126.2 181.2h0M125.3 186.9h0M119.9 205.7h0M126.1 176.1h0M121.6 179.0h0M132.2 192.3h0M131.0 173.5h0M131.7 165.5h0M107.2 137.9h0M115.4 176.9h0M122.0 197.9h0M135.6 184.0h0M127.0 185.6h0M113.6 163.0h0M131.7 196.7h0M125.0 189.6h0M134.6 179.6h0M125.4 182.5h0M134.3 180.8h0M129.9 175.6h0M127.8 166.6h0M109.4 159.2h0M125.1 189.9h0M132.0 183.6h0M121.2 158.3h0M125.6 202.3h0M122.7 160.2h0M114.6 195.8h0M133.4 190.8h0M134.4 176.6h0M118.0 169.9h0M138.2 202.7h0M130.2 198.0h0M118.2 191.4h0M130.1 161.9h0M112.7 202.6h0M120.8 192.0h0M120.1 157.6h0M133.4 178.0h0M123.5 151.3h0M122.7 187.3h0M115.3 174.6h0M117.3 178.9h0M125.4 193.0h0M128.5 179.5h0M113.4 177.5h0M124.9 197.1h0M116.1 188.3h0M136.7 201.2h0M121.9 186.1h0M114.9 200.1h0M104.5 190.0h0M133.3 178.7h0M131.3 174.0h0M117.6 171.6h0M118.7 159.2h0M130.5 202.2h0M133.4 199.9h0M113.4 181.0h0M122.2 160.5h0M128.4 168.0h0M127.2 156.3h0M112.8 182.6h0M129.4 162.0h0M123.6 147.6h0M124.6 166.4h0M128.7 173.2h0M133.7 175.5h0M124.3 202.9h0M112.9 191.2h0M111.0 147.6h0M118.3 157.9h0M120.4 200.3h0M131.9 176.4h0M128.9 194.8h0M132.7 169.4h0M127.0 181.1h0M121.2 166.4h0M123.8 166.6h0M124.9 179.1h0M119.5 184.7h0M117.3 201.9h0M120.2 195.0h0M116.1 168.8h0M113.9 180.5h0M115.2 177.9h0M128.8 193.0h0M121.4 200.0h0M125.3 196.0h0M113.7 178.6h0M134.2 192.3h0M129.0 165.9h0M121.4 175.6h0M135.7 198.9h0M114.1 172.3h0M134.8 170.8h0M134.6 184.1h0M116.2 200.2h0M120.7 199.2h0M122.6 178.9h0M128.3 154.8h0M127.3 155.4h0M123.7 198.6h0M113.1 186.4h0M122.0 177.0h0M131.5 157.0h0M120.3 180.2h0M120.0 195.9h0M138.1 197.5h0M129.3 199.7h0M127.6 153.3h0M119.4 159.8h0M127.9 191.8h0M121.4 163.3h0M115.1 176.0h0M112.7 195.7h0M127.2 195.9h0M132.7 194.3h0M133.3 196.7h0M124.4 177.6h0M113.9 186.6h0M130.5 174.9h0M116.5 187.3h0M128.0 181.3h0M128.3 183.1h0M124.6 184.5h0M118.6 186.3h0M119.7 197.5h0M135.1 191.9h0M132.0 177.6h0M125.4 178.4h0M128.1 197.0h0M116.9 174.5h0M135.4 193.8h0M121.8 184.7h0M118.0 186.6h0M119.7 197.0h0M112.5 154.2h0M131.0 157.0h0M134.2 169.0h0M116.6 170.8h0M125.0 203.5h0M131.9 160.5h0M125.9 160.7h0M113.0 200.2h0M129.7 176.8h0M126.8 179.3h0M132.6 189.0h0M129.4 185.3h0M112.2 183.4h0M131.7 187.3h0M114.0 202.7h0M117.6 187.2h0M124.8 195.8h0M101.1 186.1h0M120.5 189.3h0M107.4 205.2h0M127.1 191.4h0M119.2 170.7h0M123.9 176.5h0M128.3 175.6h0M131.3 204.5h0M131.5 159.9h0M128.4 169.7h0M122.5 203.1h0M135.2 173.1h0M132.9 176.1h0M133.5 164.5h0M111.3 138.2h0M115.6 164.9h0M128.4 206.0h0M116.6 156.6h0M124.5 181.3h0M112.4 162.7h0M126.0 190.1h0M118.8 157.1h0M126.5 155.4h0M121.4 158.9h0M131.6 198.8h0M123.4 159.6h0M128.0 181.8h0M118.9 169.5h0M113.4 196.8h0M114.9 191.6h0M121.6 198.3h0M122.4 174.4h0M124.8 194.3h0M112.7 163.8h0M110.4 185.7h0M120.4 190.0h0M127.2 179.2h0M132.7 194.5h0M117.5 188.5h0M128.8 162.5h0M134.2 202.0h0M119.2 186.6h0M122.5 196.5h0M120.4 192.2h0M113.1 202.3h0M121.2 178.9h0M96.7 198.1h0M122.1 151.3h0M134.1 168.0h0M128.8 188.1h0M131.9 191.4h0M123.0 158.3h0M114.9 194.4h0M134.8 204.6h0M134.1 180.1h0M124.4 159.5h0M125.3 194.9h0M115.9 196.8h0M123.6 193.5h0M125.3 175.4h0M112.3 189.1h0M117.4 168.8h0M97.5 159.5h0M136.9 197.4h0M91.9 201.7h0M122.7 153.3h0M101.8 181.6h0M131.8 183.1h0M126.0 183.0h0M112.4 202.9h0M126.5 185.8h0M120.0 169.5h0M123.0 195.7h0M132.6 186.1h0M135.7 205.5h0M126.1 158.8h0M126.2 199.5h0M112.9 183.3h0M119.0 158.9h0M133.8 193.5h0M126.8 168.3h0M118.0 200.1h0M113.5 164.5h0M117.9 195.6h0M125.3 185.3h0M124.1 196.5h0M130.9 206.1h0M134.2 206.1h0M126.9 165.9h0M123.1 147.9h0M120.7 185.6h0M116.8 173.4h0M131.6 202.3h0M122.8 203.9h0M122.7 160.5h0M127.4 162.8h0M91.3 143.7h0M129.3 176.7h0M137.8 192.2h0M130.3 166.0h0M115.6 156.1h0M122.8 200.2h0M136.0 205.8h0M117.5 187.0h0M119.7 192.5h0M122.4 162.5h0M110.8 166.9h0M122.9 165.4h0M115.6 194.7h0M128.8 181.4h0M107.7 185.0h0M134.9 183.1h0M115.0 179.1h0M126.3 154.4h0M125.9 174.1h0M97.2 196.1h0M122.1 179.3h0M128.8 175.0h0M113.9 160.0h0M127.3 183.3h0M135.7 188.2h0M119.0 166.0h0M136.4 189.7h0M77.7 204.1h0M124.7 206.0h0M135.0 190.5h0M130.7 197.2h0M115.1 197.4h0M127.7 179.0h0M115.8 182.7h0M114.1 197.8h0M126.6 169.3h0M132.4 188.9h0M131.0 184.0h0M121.9 157.8h0M131.7 174.0h0M119.0 189.4h0M129.9 180.6h0M124.4 193.3h0M112.4 198.2h0M129.8 192.8h0M132.8 175.2h0M113.0 180.8h0M114.3 185.3h0M119.8 162.2h0M117.4 193.3h0M120.3 182.2h0M126.8 191.1h0M115.2 168.6h0M106.5 137.5h0M130.3 159.2h0M133.6 194.6h0M135.2 197.7h0M118.2 172.0h0M119.7 188.1h0M112.4 191.4h0M107.7 198.7h0M131.6 168.9h0M129.3 205.0h0M125.6 169.1h0M130.8 160.9h0M112.8 206.0h0M129.6 184.4h0M114.2 192.2h0M130.7 178.4h0M86.0 193.6h0M131.2 204.1h0M116.0 179.7h0M115.1 175.4h0M112.9 188.8h0M111.0 170.2h0M122.1 200.5h0M117.0 160.9h0M137.5 199.6h0M126.8 160.6h0M117.9 182.6h0M121.2 173.1h0M117.8 182.1h0M118.0 187.4h0M130.9 172.7h0M110.2 199.3h0M128.3 156.7h0M127.5 175.9h0M116.4 197.8h0M129.4 203.4h0M108.9 186.9h0M123.6 185.4h0M135.1 203.0h0M117.7 200.2h0M127.6 201.6h0M91.5 201.9h0M124.7 171.1h0M105.9 172.5h0M136.9 183.3h0M114.6 188.8h0M117.7 155.9h0M126.4 192.2h0M134.1 203.3h0M134.1 186.8h0M123.7 189.6h0M122.6 179.2h0M113.4 194.2h0M135.9 177.1h0M120.7 150.5h0M128.0 202.4h0M120.8 192.8h0M128.9 177.8h0M112.6 162.4h0M130.8 175.8h0M122.2 187.8h0M103.0 193.0h0M135.1 182.5h0M129.6 194.5h0M129.6 183.9h0M127.9 197.9h0M116.3 190.1h0M126.8 180.7h0M118.1 151.5h0M136.4 192.5h0M121.5 203.5h0M113.0 171.1h0M136.3 197.0h0M115.6 203.9h0M119.0 194.9h0M128.7 177.0h0M130.0 160.0h0M116.6 186.1h0M131.7 158.5h0M130.4 145.3h0M137.7 202.2h0M131.6 167.0h0M132.0 164.6h0M124.6 167.2h0M128.9 200.3h0M114.8 173.1h0M131.1 182.1h0M115.2 173.7h0M136.4 191.3h0M115.3 170.8h0M136.7 192.7h0M117.2 183.4h0M114.9 159.8h0M135.7 189.6h0M115.7 175.4h0M128.1 189.0h0M125.5 188.2h0M123.4 165.0h0M120.6 179.3h0M114.0 173.9h0M136.1 203.5h0M115.9 151.9h0M101.3 205.0h0M123.8 166.0h0M118.4 164.3h0M120.2 175.6h0M118.3 171.0h0M115.1 181.4h0M120.3 182.8h0M113.3 193.2h0M126.7 185.0h0M127.8 204.7h0M112.2 204.7h0M130.9 150.6h0M130.4 204.9h0M123.5 188.1h0M75.5 179.8h0M108.3 202.2h0M113.4 194.5h0M131.6 195.4h0M113.6 195.1h0M131.9 170.6h0M128.1 148.5h0M89.5 206.1h0M118.1 163.0h0M124.4 146.2h0M129.7 170.3h0M116.5 145.7h0M113.2 185.6h0M119.5 167.6h0M123.5 155.8h0M137.7 201.6h0M127.0 147.0h0M118.7 162.8h0M129.8 190.5h0M101.1 201.3h0M116.2 204.1h0M106.8 186.5h0M137.5 194.5h0M130.4 201.1h0M118.0 134.8h0M131.0 191.7h0M118.9 203.9h0M120.7 179.8h0M130.2 154.0h0M126.6 166.8h0M120.9 198.2h0M126.7 187.7h0M125.8 170.2h0M137.4 202.7h0M128.6 149.1h0M116.1 201.7h0M128.4 192.9h0M129.8 172.5h0M117.5 178.1h0M131.1 184.8h0M107.1 132.3h0M126.3 178.8h0M127.6 152.4h0M124.4 170.2h0M118.5 174.2h0M136.2 188.2h0M124.9 150.9h0M104.7 191.8h0M134.8 198.3h0M92.3 195.9h0M133.1 191.9h0M135.0 186.8h0M128.3 186.3h0M130.1 206.1h0M122.3 188.1h0M133.9 192.0h0M120.0 146.7h0M125.8 163.0h0M117.1 159.8h0M114.0 198.6h0M131.6 182.7h0M128.5 156.2h0M118.3 166.4h0M115.9 184.2h0M127.7 165.6h0M130.3 183.1h0M132.4 182.3h0M116.7 178.5h0M125.9 189.9h0M109.3 150.6h0M121.6 192.7h0M121.0 183.1h0M116.7 177.1h0M123.3 194.4h0M116.8 162.6h0M120.7 185.2h0M131.9 203.5h0M111.9 203.6h0M126.3 171.8h0M129.9 171.6h0M137.4 203.6h0M121.9 184.2h0M95.7 137.5h0M123.7 193.9h0M134.8 188.1h0M125.4 159.9h0M117.9 193.9h0M125.0 199.1h0M125.2 148.9h0M117.7 181.1h0M120.3 197.4h0M114.8 193.2h0M122.3 161.6h0M131.3 178.1h0M96.1 206.1h0M114.9 165.4h0M122.9 193.1h0M105.0 182.2h0M115.3 172.2h0M119.1 200.2h0M123.4 183.0h0M126.9 200.3h0M113.6 201.0h0M123.7 202.6h0M124.2 173.4h0M131.9 180.4h0M121.7 167.4h0M112.1 200.5h0M131.8 181.8h0M121.8 204.1h0M121.2 194.8h0M115.5 195.6h0M125.2 172.7h0M124.8 173.1h0M133.8 183.7h0M129.2 182.9h0M115.8 186.1h0M122.9 143.0h0M114.3 186.0h0M116.8 193.0h0M129.0 191.3h0M120.3 175.0h0M124.9 172.2h0M130.4 153.2h0M124.5 201.5h0M116.4 189.9h0M115.9 161.7h0M119.2 176.7h0M130.5 152.1h0M112.2 165.9h0M121.6 150.7h0M126.6 203.2h0M109.1 189.2h0M113.1 160.6h0M118.2 201.0h0M117.6 172.8h0M112.4 173.1h0M96.5 158.6h0M124.3 195.0h0M133.5 171.8h0M120.4 186.2h0M106.4 185.6h0M88.0 137.5h0M118.5 159.6h0M114.9 198.8h0M132.0 167.5h0M132.2 205.0h0M121.7 169.8h0M125.2 194.4h0M123.1 175.8h0M112.3 167.8h0M120.5 159.7h0M122.1 202.9h0M119.6 205.0h0M109.5 193.7h0M122.3 199.5h0M120.5 188.1h0M120.6 206.1h0M117.2 190.6h0M132.5 199.9h0M117.2 198.8h0M134.6 204.0h0M134.8 199.4h0M118.5 178.5h0M117.2 174.1h0M129.2 172.2h0M114.5 155.4h0M112.7 161.6h0M125.2 185.9h0M124.4 150.0h0M126.7 157.4h0M121.2 183.6h0M121.9 168.0h0M114.4 177.3h0M122.5 171.4h0M97.3 205.6h0M126.4 193.0h0M134.3 192.9h0M120.9 144.3h0M133.8 201.6h0M113.7 190.1h0M122.6 168.2h0M126.5 148.8h0M125.5 183.0h0M132.8 195.7h0M121.5 171.9h0M119.1 179.0h0M123.7 172.2h0M114.2 175.1h0M132.1 179.0h0M134.4 181.4h0M127.4 172.5h0M113.8 165.9h0M126.3 205.1h0M122.1 155.2h0M128.0 187.2h0M94.7 142.9h0M136.6 185.0h0M121.7 196.5h0M113.1 203.7h0M94.9 201.6h0M121.3 171.2h0M129.8 151.3h0M127.4 168.1h0M113.1 150.8h0M118.5 154.4h0M120.0 201.6h0M134.2 176.1h0M127.9 153.0h0M125.9 155.4h0M116.5 195.9h0M116.6 166.3h0M132.5 185.0h0M119.3 149.2h0M130.2 188.7h0M131.6 203.4h0M124.2 196.2h0M131.9 197.4h0M120.9 204.7h0M134.5 201.5h0M135.5 183.3h0M118.8 167.3h0M116.3 184.3h0M122.8 194.6h0M135.6 191.4h0M132.3 202.8h0M134.8 185.9h0M116.3 180.9h0M115.5 200.6h0M126.7 188.4h0M108.7 201.0h0M117.6 172.7h0M125.4 199.2h0M114.3 183.0h0M114.3 159.2h0M110.3 183.8h0M112.7 205.1h0M115.2 182.7h0M124.2 187.5h0M130.1 185.1h0M112.7 170.7h0M112.9 158.9h0M134.9 177.3h0M131.9 199.8h0M128.6 175.4h0M111.6 201.4h0M119.8 155.5h0M120.0 158.8h0M108.4 191.9h0M114.0 184.3h0M112.4 199.3h0M128.2 146.5h0M124.7 200.6h0M109.9 201.1h0M110.8 153.0h0M120.4 163.1h0M116.2 201.5h0M119.3 154.7h0M108.4 161.5h0M136.2 190.1h0M123.0 204.5h0M110.6 199.9h0M116.2 186.8h0M117.3 189.4h0M137.6 205.3h0M109.5 195.6h0M91.9 195.1h0M110.9 195.2h0M126.0 149.6h0M123.6 194.8h0M119.7 156.8h0M134.4 200.2h0M133.9 179.7h0M117.9 156.9h0M112.5 176.9h0M127.1 201.8h0M99.5 203.6h0M122.9 169.6h0M131.9 158.4h0M116.5 198.2h0M127.7 149.5h0M124.7 154.5h0M108.2 202.9h0M102.8 204.0h0M130.1 150.2h0M110.4 167.6h0M131.5 188.2h0M98.6 191.6h0M134.4 197.4h0M105.8 196.8h0M116.7 201.7h0M120.4 153.6h0M117.5 169.7h0M130.1 173.4h0M119.4 191.5h0M126.6 174.8h0M120.1 203.0h0M123.2 163.3h0M94.9 198.5h0M111.1 200.2h0M123.3 158.1h0M103.7 160.1h0M109.3 173.5h0M130.7 191.9h0M120.8 145.7h0M108.3 195.9h0M130.7 187.1h0M120.7 175.1h0M126.4 202.0h0M122.6 176.5h0M118.8 174.7h0M123.5 158.7h0M124.3 191.1h0M97.8 191.5h0M115.2 190.7h0M124.4 175.5h0M98.8 181.3h0M126.3 177.7h0M119.0 188.1h0M89.8 199.0h0M125.6 171.8h0M132.6 161.8h0M113.6 204.3h0M125.9 143.4h0M109.8 203.4h0M115.2 164.0h0M89.3 180.6h0M116.8 167.5h0M115.4 179.0h0M109.1 167.4h0M98.3 155.7h0M118.9 193.2h0M129.9 169.2h0M99.0 187.4h0M119.4 199.1h0M128.1 136.7h0M119.3 153.8h0M104.1 194.8h0M121.6 152.2h0M130.7 155.3h0M106.5 193.7h0M130.4 164.9h0M137.8 190.9h0M122.2 194.8h0M96.9 197.0h0M126.6 150.1h0M119.0 174.7h0M126.1 163.5h0M117.8 154.9h0M105.1 188.4h0M119.7 173.3h0M130.6 194.7h0M112.8 185.3h0M123.5 168.4h0M116.0 188.6h0M106.5 202.9h0M112.2 187.0h0M118.4 168.0h0M115.3 163.5h0M128.5 174.0h0M78.7 129.9h0M118.6 197.7h0M112.2 196.2h0M116.8 185.4h0M125.3 204.3h0M112.7 173.0h0M122.8 161.9h0M127.7 191.8h0M121.3 187.6h0M117.1 161.1h0M124.8 202.3h0M114.8 169.8h0M128.0 190.4h0M113.1 168.7h0M118.3 185.0h0M98.3 182.7h0M121.5 190.0h0M112.0 177.7h0M129.6 175.7h0M125.7 192.1h0M124.4 175.9h0M127.3 198.4h0M133.2 193.8h0M127.5 194.7h0M118.3 155.6h0M116.8 195.1h0M121.8 171.0h0M107.9 194.1h0M107.7 197.0h0M126.7 205.9h0M110.3 193.9h0M111.5 137.5h0M124.9 177.2h0M111.4 192.3h0M130.7 156.6h0M138.2 204.0h0M128.8 146.4h0M114.4 185.8h0M112.6 197.4h0M114.4 139.1h0M129.1 168.9h0M125.5 184.3h0M95.1 154.4h0M93.5 196.6h0M116.6 204.5h0M134.5 185.2h0M133.1 200.7h0M114.6 167.0h0M116.6 125.3h0M110.8 125.3h0M120.9 135.2h0M122.7 136.8h0M101.7 136.3h0M97.4 141.4h0M94.8 141.8h0M80.0 155.1h0M89.0 154.4h0M70.9 178.8h0M67.7 185.3h0M74.2 180.1h0M86.5 173.8h0M81.1 173.5h0M90.1 199.5h0M99.2 161.3h0M101.0 160.5h0M103.5 146.0h0M91.2 163.6h0M105.3 165.1h0" stroke="#1cb5ee" stroke-width="2.3" stroke-linecap="round" fill="none"/>
<path d="M141.5 202.6h0M147.9 205.0h0M164.0 201.3h0M159.4 206.0h0M151.0 201.8h0M144.4 205.4h0M157.7 175.5h0M150.6 204.5h0M147.0 190.3h0M195.5 183.7h0M159.2 197.2h0M149.9 201.3h0M154.6 195.4h0M151.2 205.8h0M153.1 201.5h0M152.6 188.5h0M140.7 187.5h0M149.1 194.8h0M147.9 190.5h0M149.9 195.0h0M162.7 201.5h0M141.9 182.8h0M143.5 189.2h0M154.9 167.5h0M154.2 156.0h0M145.9 168.2h0M158.3 201.6h0M152.2 169.0h0M164.8 178.2h0M152.1 200.1h0M147.2 203.3h0M152.7 184.2h0M153.8 179.5h0M164.6 170.9h0M143.6 180.7h0M178.3 194.6h0M146.0 201.9h0M143.1 196.6h0M154.7 202.8h0M154.2 205.4h0M150.6 193.1h0M146.9 192.7h0M141.2 199.0h0M162.1 192.0h0M151.0 190.6h0M140.8 205.3h0M155.7 153.3h0M167.7 185.6h0M146.5 199.2h0M152.3 184.8h0M144.6 181.5h0M169.4 146.4h0M153.5 177.5h0M165.5 201.1h0M162.5 198.9h0M168.4 200.2h0M156.2 203.8h0M155.5 182.8h0M149.6 199.5h0M177.9 144.3h0M149.7 174.6h0M157.1 199.1h0M147.5 171.8h0M143.2 183.2h0M150.4 203.0h0M153.3 203.4h0M157.3 177.4h0M142.1 192.8h0M148.7 167.4h0M144.8 178.7h0M141.3 177.8h0M143.5 193.7h0M156.7 181.9h0M164.1 175.8h0M142.6 205.1h0M180.1 195.5h0M156.2 201.8h0M150.0 200.3h0M153.8 194.2h0M159.3 190.1h0M142.8 205.5h0M141.6 201.0h0M144.1 183.6h0M154.3 179.7h0M154.6 189.9h0M149.2 188.5h0M155.1 189.4h0M141.3 203.3h0M158.9 200.3h0M151.4 195.4h0M162.4 204.3h0M160.3 174.2h0M178.9 185.3h0M161.4 160.3h0M170.8 204.1h0M164.3 203.1h0M146.7 180.5h0M154.8 192.9h0M149.7 202.9h0M149.1 181.4h0M147.3 149.9h0M157.0 204.9h0M151.4 146.6h0M168.7 202.0h0M172.3 199.5h0M144.9 202.5h0M148.1 181.9h0M144.0 196.5h0M144.0 198.9h0M171.5 201.3h0M162.1 182.5h0M144.0 191.9h0M171.8 196.4h0M141.7 204.9h0M145.3 172.8h0M170.4 184.9h0M144.4 203.3h0M146.5 200.5h0M144.9 196.9h0M152.5 198.5h0M142.2 169.4h0M150.2 191.9h0M151.5 199.8h0M147.0 198.6h0M179.7 205.9h0M142.2 204.2h0M166.1 202.1h0M145.8 176.6h0M141.8 204.0h0M149.0 196.3h0M144.5 185.2h0M170.9 184.3h0M147.1 192.1h0M176.5 192.2h0M151.6 204.8h0M170.1 206.2h0M142.2 191.0h0M142.3 183.9h0M161.0 201.4h0M144.7 186.3h0M157.4 174.4h0M153.7 192.2h0M141.0 204.0h0M179.8 202.4h0M145.4 173.8h0M141.6 172.6h0M146.8 179.5h0M144.9 192.7h0M141.6 199.1h0M172.8 204.1h0M153.0 181.5h0M171.8 194.9h0M150.2 183.1h0M150.0 189.7h0M151.9 172.6h0M152.1 196.6h0M143.8 195.8h0M157.3 178.7h0M157.0 188.2h0M159.8 167.1h0M143.9 205.2h0M157.1 190.0h0M152.9 205.4h0M141.0 201.8h0M156.7 184.8h0M154.6 197.3h0M158.4 205.4h0M146.1 192.9h0M145.0 204.1h0M151.2 193.7h0M146.8 167.1h0M151.0 177.7h0M217.5 166.4h0M153.4 189.5h0M153.8 197.9h0M165.2 169.8h0M145.0 198.0h0M179.5 188.0h0M160.8 198.5h0M191.4 204.2h0M143.7 202.9h0M147.4 201.3h0M171.1 163.9h0M144.6 175.9h0M152.6 204.5h0M149.5 188.9h0M157.7 191.0h0M149.1 176.8h0M150.4 158.8h0M147.7 205.8h0M157.1 204.1h0M141.9 192.5h0M144.5 204.0h0M169.8 170.5h0M145.8 197.7h0M160.4 203.6h0M173.4 182.1h0M154.1 182.7h0M170.8 186.2h0M150.4 177.3h0M156.9 200.5h0M155.7 200.3h0M143.9 204.1h0M169.9 190.1h0M159.2 193.1h0M156.3 203.2h0M154.6 158.2h0M141.7 201.8h0M164.6 201.8h0M141.6 180.5h0M147.5 177.7h0M157.4 205.3h0M145.1 202.3h0M153.6 200.6h0M159.3 202.8h0M152.8 197.7h0M203.4 182.9h0M162.9 182.9h0M174.8 183.2h0M148.3 179.0h0M149.2 178.9h0M151.2 189.4h0M145.9 183.5h0M142.3 167.9h0M154.7 199.3h0M145.9 204.3h0M141.4 173.2h0M153.3 195.9h0M140.8 195.2h0M147.9 162.7h0M155.1 205.9h0M197.5 195.0h0M163.6 150.6h0M150.6 187.1h0M157.6 203.0h0M141.7 205.7h0M143.1 188.6h0M158.8 204.7h0M155.6 182.3h0M150.6 182.8h0M161.9 192.6h0M140.9 193.2h0M149.6 187.1h0M169.1 167.2h0M151.2 173.3h0M140.7 199.8h0M161.1 192.9h0M155.6 201.6h0M149.1 201.0h0M146.1 173.5h0M151.5 178.8h0M164.7 205.5h0M143.1 192.8h0M150.6 189.9h0M148.0 154.3h0M148.8 152.4h0M174.7 192.9h0M150.9 199.6h0M141.6 185.2h0M168.8 172.6h0M147.0 182.6h0M148.0 199.8h0M141.3 196.3h0M174.6 197.4h0M146.2 190.1h0M153.8 138.3h0M141.3 182.6h0M158.3 187.9h0M151.2 195.7h0M145.8 195.7h0M155.9 187.4h0M153.8 170.3h0M168.6 183.0h0M142.8 197.0h0M148.2 203.6h0M156.8 159.9h0M163.5 187.0h0M141.0 201.3h0M167.7 191.8h0M174.2 186.0h0M164.5 179.8h0M157.5 143.5h0M171.0 195.3h0M145.4 195.1h0M141.1 172.3h0M149.2 192.6h0M144.6 191.6h0M142.1 200.0h0M142.0 162.0h0M145.6 158.3h0M156.6 200.8h0M144.1 200.1h0M150.0 203.4h0M151.9 191.0h0M149.5 158.8h0M156.3 165.3h0M143.6 166.1h0M165.1 202.6h0M142.3 190.4h0M169.4 148.6h0M172.3 190.4h0M154.7 196.9h0M177.9 177.3h0M145.5 199.5h0M142.3 179.6h0M143.3 178.4h0M147.4 204.6h0M160.6 200.7h0M167.0 176.0h0M154.0 201.8h0M143.3 164.5h0M159.5 200.1h0M149.8 142.0h0M142.2 184.3h0M166.9 168.9h0M168.9 180.3h0M150.0 180.4h0M159.1 168.6h0M151.3 180.7h0M154.0 180.5h0M152.5 143.3h0M152.0 201.8h0M160.1 205.1h0M157.6 205.8h0M146.3 189.9h0M198.5 204.1h0M150.4 184.4h0M179.5 158.0h0M148.1 183.6h0M149.0 189.0h0M164.7 184.2h0M149.0 203.5h0M142.9 182.9h0M160.4 188.8h0M143.9 205.8h0M142.0 194.6h0M157.1 193.9h0M162.4 149.1h0M153.3 187.4h0M140.8 190.1h0M144.7 190.5h0M154.7 169.6h0M165.0 203.9h0M159.6 164.8h0M167.8 175.1h0M152.7 138.4h0M164.5 199.2h0M147.5 205.8h0M144.9 158.2h0M166.0 198.6h0M144.2 194.9h0M141.8 166.0h0M166.5 204.2h0M161.0 205.1h0M141.0 196.0h0M157.6 195.0h0M159.6 200.8h0M194.1 186.6h0M152.0 205.8h0M154.1 201.2h0M145.4 192.5h0M145.0 204.3h0M144.8 192.4h0M159.4 196.0h0M143.1 162.8h0M151.1 171.2h0M150.1 206.1h0M159.1 198.2h0M163.3 202.8h0M153.5 184.5h0M142.7 196.2h0M156.3 191.0h0M147.6 187.7h0M145.5 193.1h0M142.7 162.0h0M150.5 198.6h0M144.4 198.3h0M141.5 197.7h0M175.9 201.3h0M150.3 204.1h0M148.0 172.2h0M150.0 150.7h0M150.7 196.4h0M148.3 184.0h0M145.8 186.2h0M157.1 186.2h0M149.4 202.2h0M163.2 184.1h0M168.7 193.1h0M159.6 177.3h0M141.0 204.9h0M156.5 194.6h0M155.6 154.3h0M154.4 204.4h0M151.6 186.4h0M155.1 168.6h0M170.9 204.6h0M160.1 203.7h0M160.5 161.5h0M177.4 187.0h0M161.7 195.2h0M190.9 201.4h0M156.5 164.4h0M168.8 199.1h0M142.9 200.0h0M152.2 189.5h0M148.2 185.9h0M178.4 199.9h0M154.7 194.0h0M165.5 189.0h0M159.9 171.3h0M152.1 190.0h0M155.4 198.8h0M156.1 154.0h0M166.5 190.3h0M168.7 204.1h0M149.4 202.3h0M152.9 159.7h0M173.0 200.1h0M146.1 178.7h0M156.1 199.5h0M216.1 205.5h0M165.3 195.8h0M162.9 187.1h0M145.2 206.1h0M163.5 198.2h0M148.5 153.3h0M153.0 205.9h0M157.9 169.5h0M154.0 180.9h0M159.9 197.4h0M165.8 205.7h0M145.0 184.6h0M155.2 169.6h0M146.9 196.8h0M146.5 201.2h0M145.0 178.2h0M155.3 193.8h0M148.3 186.8h0M170.7 186.7h0M152.0 199.7h0M175.1 184.2h0M156.5 197.5h0M148.4 203.2h0M193.0 171.9h0M144.3 176.5h0M152.8 201.5h0M145.4 200.3h0M158.3 199.7h0M161.6 195.8h0M157.6 200.1h0M178.6 194.2h0M146.3 157.9h0M170.6 202.2h0M172.1 154.0h0M168.2 206.1h0M153.2 191.2h0M170.1 155.7h0M148.9 205.8h0M163.9 172.2h0M175.7 199.0h0M144.0 187.8h0M143.0 189.1h0M149.3 185.2h0M140.7 196.4h0M148.9 182.0h0M151.5 188.0h0M154.3 194.9h0M144.3 196.1h0M148.6 173.7h0M146.5 153.8h0M181.2 162.4h0M152.6 195.9h0M161.5 183.9h0M166.4 201.5h0M156.2 172.5h0M159.1 186.3h0M147.2 196.1h0M147.2 186.2h0M155.6 180.4h0M147.1 193.8h0M174.5 179.5h0M146.2 203.4h0M161.7 136.2h0M143.8 173.8h0M159.1 198.9h0M153.3 203.2h0M177.1 202.5h0M169.0 190.3h0M157.4 202.4h0M149.1 197.4h0M144.4 201.3h0M166.5 197.6h0M163.0 197.0h0M163.4 194.5h0M154.2 186.3h0M156.6 156.1h0M141.6 167.4h0M165.6 196.3h0M162.8 199.5h0M145.1 200.9h0M143.3 201.7h0M146.7 206.0h0M181.6 192.6h0M149.4 169.3h0M154.5 164.5h0M148.9 195.7h0M150.4 181.3h0M153.0 196.5h0M159.7 177.4h0M142.9 197.4h0M190.4 200.5h0M144.1 205.0h0M152.3 154.1h0M152.4 187.2h0M148.5 189.1h0M146.2 182.5h0M171.3 197.7h0M146.9 161.7h0M143.8 191.7h0M140.9 188.4h0M181.6 202.3h0M168.5 173.5h0M146.7 199.6h0M146.8 189.6h0M149.8 198.1h0M151.4 191.8h0M142.6 172.4h0M165.9 194.9h0M181.2 163.2h0M145.9 191.3h0M162.2 173.4h0M179.5 195.8h0M163.7 203.5h0M173.5 191.1h0M178.3 161.1h0M151.2 193.5h0M186.8 204.7h0M175.5 190.9h0M142.5 187.0h0M147.2 180.1h0M144.4 197.9h0M171.1 179.2h0M178.6 193.1h0M155.5 197.9h0M181.3 165.1h0M162.1 180.6h0M146.7 151.7h0M149.2 203.2h0M164.8 142.4h0M152.7 166.5h0M176.8 194.9h0M168.5 156.7h0M166.1 171.2h0M151.6 176.7h0M192.9 206.1h0M158.2 161.9h0M155.7 192.7h0M147.6 168.6h0M169.5 155.9h0M167.9 173.3h0M150.8 191.6h0M147.4 194.5h0M163.0 190.1h0M171.8 137.1h0M156.1 198.6h0M159.3 161.6h0M147.8 193.0h0M154.7 183.7h0M147.4 151.0h0M146.8 202.3h0M150.8 167.4h0M162.0 205.7h0M168.6 188.7h0M160.6 190.8h0M143.4 195.2h0M169.9 171.3h0M202.5 198.7h0M147.9 201.1h0M142.6 162.7h0M168.0 202.8h0M174.9 202.5h0M158.3 193.1h0M146.6 187.9h0M149.9 181.4h0M145.5 188.6h0M146.0 194.1h0M141.3 195.7h0M150.9 200.4h0M152.5 193.6h0M156.3 157.5h0M167.9 178.4h0M155.5 201.2h0M150.4 197.9h0M151.5 177.5h0M161.2 198.6h0M169.6 193.2h0M145.0 193.5h0M161.2 179.7h0M156.8 203.3h0M157.3 152.9h0M158.1 201.8h0M157.7 190.4h0M155.1 199.3h0M170.2 149.9h0M152.4 177.9h0M161.6 192.6h0M144.9 189.1h0M147.6 176.2h0M182.4 167.6h0M141.2 184.9h0M154.2 175.8h0M143.2 183.9h0M165.8 191.6h0M169.9 201.6h0M150.2 185.9h0M146.7 188.4h0M140.9 169.7h0M150.8 192.3h0M177.9 205.4h0M145.0 190.1h0M154.7 187.6h0M166.9 201.0h0M191.9 167.5h0M166.7 175.2h0M144.4 189.0h0M154.9 165.4h0M155.0 190.4h0M150.4 157.7h0M155.9 166.3h0M146.7 204.2h0M142.0 181.7h0M171.5 186.3h0M142.2 190.7h0M161.7 182.7h0M148.7 155.5h0M163.0 185.0h0M158.9 196.8h0M165.5 188.9h0M162.1 169.0h0M163.1 171.6h0M150.0 197.3h0M150.5 187.5h0M178.4 197.8h0M162.6 181.2h0M148.0 179.5h0M155.0 196.4h0M143.6 185.2h0M155.9 168.3h0M143.0 192.4h0M157.5 196.9h0M167.0 192.1h0M143.4 198.3h0M149.6 205.0h0M141.5 189.3h0M150.3 187.5h0M148.8 199.6h0M161.3 147.6h0M149.0 171.5h0M189.3 167.5h0M168.1 191.3h0M156.0 156.9h0M145.9 166.2h0M157.6 204.9h0M201.9 200.6h0M176.2 205.0h0M164.0 143.8h0M149.7 196.6h0M177.7 146.1h0M145.6 198.2h0M163.5 205.3h0M164.4 164.3h0M154.6 167.4h0M159.6 151.7h0M161.7 203.7h0M142.7 202.5h0M168.4 197.1h0M156.3 179.9h0M159.4 186.6h0M147.3 197.7h0M155.7 204.8h0M153.9 185.7h0M143.8 165.0h0M152.2 174.6h0M147.1 200.3h0M144.2 194.3h0M168.1 200.0h0M145.2 179.5h0M152.2 202.5h0M160.3 201.6h0M177.7 194.3h0M158.7 179.3h0M147.9 193.8h0M144.9 190.8h0M162.7 177.3h0M153.4 160.2h0M158.9 191.6h0M142.8 199.7h0M187.8 201.9h0M143.6 176.3h0M154.0 192.6h0M155.8 196.9h0M169.7 184.8h0M146.8 155.8h0M140.7 174.4h0M168.8 191.6h0M152.3 158.0h0M151.7 202.6h0M141.5 174.6h0M214.9 187.4h0M150.8 195.2h0M213.5 144.3h0M162.5 194.0h0M155.7 183.6h0M160.3 196.3h0M166.4 164.9h0M142.3 185.8h0M148.1 194.8h0M142.0 186.2h0M156.1 146.7h0M153.6 188.5h0M152.5 188.1h0M155.5 188.7h0M163.1 197.7h0M169.6 202.7h0M155.4 162.9h0M148.2 200.3h0M150.8 185.4h0M149.7 184.4h0M149.4 173.5h0M148.7 182.7h0M157.2 194.7h0M151.2 186.0h0M140.9 179.5h0M157.9 172.7h0M152.1 201.0h0M170.2 189.7h0M163.8 203.8h0M149.5 190.7h0M142.2 177.2h0M150.9 184.5h0M153.4 196.4h0M156.4 186.9h0M143.7 185.9h0M143.9 200.8h0M162.1 192.9h0M148.9 190.2h0M144.2 166.8h0M147.8 195.7h0M141.7 179.3h0M182.7 196.8h0M146.9 169.8h0M142.5 187.9h0M152.3 199.1h0M158.0 176.5h0M158.2 186.8h0M162.1 195.0h0M148.4 187.4h0M158.7 200.9h0M183.8 194.2h0M182.1 145.9h0M150.9 167.4h0M141.0 173.4h0M173.9 176.2h0M159.6 187.3h0M176.8 150.9h0M141.7 162.8h0M145.5 180.5h0M140.8 197.4h0M161.1 176.9h0M152.4 177.0h0M150.6 147.0h0M154.0 198.7h0M155.1 195.9h0M155.2 191.7h0M177.9 204.8h0M156.5 166.6h0M161.1 157.2h0M148.5 157.3h0M181.0 177.4h0M148.7 161.6h0M141.0 193.7h0M149.0 186.2h0M148.6 184.1h0M190.6 185.6h0M158.7 178.4h0M157.4 201.5h0M173.8 188.3h0M148.1 198.8h0M170.3 201.0h0M147.3 165.6h0M178.5 177.6h0M154.0 161.4h0M165.6 158.9h0M140.8 198.8h0M148.8 200.3h0M150.5 188.8h0M153.8 143.2h0M142.4 164.4h0M168.2 193.0h0M170.5 182.2h0M159.1 189.5h0M150.1 192.8h0M168.9 204.7h0M166.1 188.3h0M150.2 144.3h0M166.3 154.1h0M152.5 185.5h0M156.4 189.0h0M155.5 203.5h0M176.8 206.1h0M161.6 187.6h0M152.1 193.2h0M151.9 197.5h0M163.6 199.7h0M167.2 191.5h0M145.2 189.6h0M154.7 203.9h0M144.4 187.5h0M163.1 204.4h0M156.1 191.8h0M142.2 173.0h0M147.7 177.7h0M147.4 181.3h0M142.2 164.8h0M150.5 180.0h0M150.3 159.5h0M174.4 201.4h0M173.4 156.2h0M161.3 156.3h0M150.7 172.3h0M153.3 184.6h0M173.3 200.8h0M186.4 183.2h0M159.7 202.3h0M161.6 199.9h0M147.6 163.9h0M152.7 191.9h0M166.3 136.6h0M189.1 202.6h0M175.5 203.0h0M147.4 191.6h0M163.6 189.4h0M168.5 203.0h0M146.3 181.6h0M169.6 158.1h0M183.3 203.2h0M161.2 190.0h0M196.4 159.1h0M146.4 196.9h0M185.0 197.7h0M156.8 143.0h0M153.0 166.2h0M170.6 174.9h0M143.6 182.2h0M153.6 204.8h0M155.0 178.9h0M165.3 159.5h0M158.5 203.9h0M142.5 198.4h0M168.4 201.2h0M158.7 187.6h0M150.8 178.6h0M149.1 193.3h0M172.0 201.1h0M161.8 186.5h0M156.2 206.1h0M159.4 189.3h0M169.7 179.9h0M154.7 191.1h0M159.0 170.0h0M144.7 186.3h0M160.3 199.3h0M141.2 175.2h0M179.9 186.1h0M161.5 191.5h0M148.3 155.6h0M162.7 199.9h0M150.9 156.9h0M153.6 198.3h0M162.3 191.7h0M176.7 155.5h0M177.0 188.8h0M161.2 157.7h0M171.7 193.9h0M236.2 193.5h0M159.6 193.9h0M164.2 193.0h0M158.0 185.1h0M172.4 200.5h0M146.2 198.7h0M148.3 197.8h0M153.6 202.5h0M155.3 203.1h0M153.3 164.3h0M144.6 164.2h0M148.5 177.0h0M143.7 193.3h0M165.3 193.7h0M177.2 173.9h0M149.7 166.0h0M169.9 189.7h0M160.1 154.7h0M157.7 195.3h0M162.7 159.0h0M165.5 201.9h0M181.7 186.5h0M147.9 181.4h0M179.5 183.3h0M167.4 199.0h0M148.7 191.5h0M146.2 192.0h0M167.0 149.6h0M151.9 185.4h0M152.1 169.8h0M173.0 205.5h0M155.3 142.9h0M154.9 179.2h0M155.3 195.2h0M163.0 202.2h0M192.5 201.2h0M179.5 193.0h0M143.9 200.2h0M148.0 180.6h0M154.5 151.7h0M149.3 204.3h0M147.6 188.9h0M146.6 184.3h0M167.0 196.6h0M144.0 198.0h0M158.4 188.1h0M151.3 163.4h0M174.0 206.1h0M141.5 198.1h0M147.1 159.8h0M174.8 178.7h0M159.1 202.5h0M159.0 172.2h0M163.5 191.2h0M158.1 162.3h0M157.6 166.1h0M189.3 181.0h0M154.8 141.1h0M152.2 181.6h0M164.3 166.0h0M157.9 146.9h0M182.1 191.9h0M152.4 204.1h0M165.4 174.6h0M165.7 203.8h0M173.8 199.4h0M144.0 169.3h0M161.7 184.6h0M168.9 169.3h0M161.8 197.7h0M188.1 194.7h0M170.5 200.0h0M158.1 173.0h0M159.9 169.9h0M165.5 163.1h0M158.9 175.4h0M177.3 198.8h0M145.6 152.8h0M169.4 147.3h0M170.2 203.4h0M157.5 168.0h0M156.1 180.4h0M199.1 178.1h0M188.4 173.5h0M164.9 199.0h0M140.7 182.9h0M159.4 185.1h0M182.3 194.6h0M177.3 202.9h0M161.1 132.3h0M157.8 197.8h0M178.7 190.0h0M152.0 168.4h0M148.9 175.6h0M151.9 176.0h0M141.7 186.3h0M142.5 180.4h0M146.7 174.1h0M147.2 184.2h0M140.7 167.7h0M161.0 169.2h0M184.4 165.6h0M164.3 195.2h0M145.3 164.9h0M140.8 186.3h0M142.5 195.2h0M164.4 180.5h0M182.0 205.3h0M161.7 205.0h0M151.9 194.8h0M148.0 192.0h0M153.1 186.3h0M147.2 182.7h0M154.7 190.3h0M149.9 165.1h0M163.4 195.4h0M145.6 170.7h0M166.8 197.7h0M143.2 173.2h0M171.9 192.0h0M166.2 203.3h0M165.0 200.4h0M183.0 192.6h0M170.3 206.0h0M156.8 197.5h0M167.2 151.0h0M161.1 205.8h0M175.7 203.7h0M145.0 185.6h0M146.1 177.6h0M164.2 190.3h0M162.6 160.2h0M178.8 192.2h0M150.3 201.2h0M142.2 193.7h0M145.1 168.1h0M187.4 136.3h0M149.7 168.8h0M162.4 205.0h0M163.4 166.4h0M168.8 166.0h0M153.2 180.1h0M199.0 203.3h0M173.7 196.5h0M172.4 191.5h0M142.1 188.0h0M176.3 147.9h0M159.4 199.5h0M160.4 183.6h0M146.3 194.7h0M179.9 198.1h0M156.9 196.1h0M144.7 172.2h0M171.7 205.1h0M145.1 202.5h0M174.7 196.9h0M152.5 152.5h0M147.1 186.3h0M140.8 192.4h0M152.8 147.9h0M158.2 179.0h0M150.0 196.1h0M161.2 169.7h0M144.2 161.4h0M159.7 197.0h0M156.1 204.5h0M176.8 204.9h0M153.7 182.7h0M163.7 194.1h0M168.9 195.4h0M154.3 200.0h0M163.6 200.8h0M148.0 202.4h0M164.5 204.9h0M151.5 203.8h0M152.5 193.3h0M173.2 184.1h0M158.8 194.4h0M149.5 194.3h0M181.7 195.5h0M156.2 153.8h0M145.8 187.5h0M141.9 194.4h0M161.7 201.2h0M166.0 170.8h0M163.8 185.8h0M141.1 164.8h0M178.3 171.2h0M141.1 177.3h0M153.5 168.2h0M151.6 182.3h0M175.4 198.3h0M158.8 183.0h0M167.7 153.1h0M145.3 186.7h0M149.3 163.2h0M142.7 202.6h0M159.8 157.7h0M169.8 197.1h0M149.6 155.9h0M154.3 170.4h0M147.1 176.8h0M152.8 170.9h0M174.3 193.6h0M176.4 189.8h0M159.3 186.2h0M169.9 195.3h0M151.3 198.3h0M149.2 172.0h0M161.4 205.4h0M158.7 136.9h0M157.1 170.9h0M148.8 194.4h0M145.0 161.6h0M148.2 170.0h0M155.9 137.8h0M178.7 198.4h0M143.3 186.8h0M170.0 195.6h0M169.9 177.3h0M177.0 200.7h0M188.0 195.8h0M141.8 176.2h0M167.4 147.3h0M152.2 191.1h0M177.6 190.7h0M164.2 184.6h0M164.8 187.3h0M154.1 193.0h0M153.1 189.9h0M156.6 193.0h0M156.5 175.6h0M156.0 190.2h0M149.4 198.5h0M156.2 185.0h0M170.7 161.5h0M152.5 140.8h0M145.9 174.4h0M165.2 184.0h0M161.5 196.3h0M143.6 159.5h0M194.1 147.7h0M161.2 185.6h0M152.6 182.1h0M166.9 199.5h0M171.9 186.1h0M164.2 171.3h0M140.7 176.2h0M165.9 199.0h0M149.3 175.3h0M158.7 190.3h0M150.5 142.4h0M184.1 196.0h0M167.3 204.6h0M173.2 169.0h0M158.7 194.4h0M156.8 171.3h0M145.5 182.2h0M144.3 180.2h0M160.3 191.1h0M143.6 163.0h0M190.3 178.5h0M160.6 193.8h0M167.7 204.5h0M157.9 198.6h0M172.2 179.4h0M143.8 157.7h0M171.0 186.3h0M149.7 184.5h0M158.0 194.3h0M167.2 165.1h0M155.0 148.5h0M163.6 140.6h0M165.1 180.5h0M141.1 182.1h0M157.6 182.6h0M161.0 163.5h0M156.5 183.5h0M170.5 195.3h0M168.4 162.9h0M153.1 150.5h0M153.3 168.4h0M155.7 160.4h0M167.1 206.1h0M175.8 205.6h0M147.5 184.9h0M142.2 174.2h0M153.1 163.1h0M175.9 196.0h0M155.6 186.8h0M141.8 188.4h0M145.8 204.4h0M206.7 198.4h0M161.8 202.0h0M155.2 184.1h0M170.1 200.0h0M176.4 184.8h0M183.7 205.1h0M169.5 191.3h0M162.0 199.2h0M162.1 203.0h0M157.8 159.1h0M166.8 187.7h0M163.4 180.4h0M150.1 179.1h0M149.6 148.3h0M153.5 192.8h0M143.8 160.2h0M150.9 182.3h0M149.4 190.9h0M157.4 183.4h0M142.0 177.1h0M166.7 192.7h0M144.7 174.4h0M158.7 157.8h0M176.8 203.7h0M159.4 174.1h0M170.0 194.2h0M145.4 171.8h0M170.5 159.9h0M175.9 155.2h0M151.2 183.0h0M169.1 134.8h0M161.0 175.1h0M162.4 196.1h0M166.4 167.5h0M146.4 179.4h0M156.7 184.4h0M159.5 146.9h0M182.3 166.5h0M212.8 198.1h0M173.0 166.5h0M140.8 189.3h0M166.0 195.6h0M164.9 164.8h0M160.9 197.7h0M170.1 185.5h0M146.8 176.4h0M152.2 202.8h0M149.3 166.1h0M150.7 170.2h0M150.3 173.7h0M149.5 176.7h0M167.5 155.9h0M175.9 188.2h0M152.6 195.0h0M155.3 176.2h0M158.5 185.2h0M149.9 154.1h0M145.1 184.2h0M143.8 176.9h0M166.8 198.4h0M179.3 201.0h0M160.0 170.9h0M150.5 179.6h0M190.5 184.7h0M144.3 182.3h0M171.5 190.4h0M166.8 193.9h0M168.9 189.6h0M156.0 169.8h0M170.8 169.8h0M155.9 173.5h0M176.2 184.7h0M154.3 169.0h0M172.2 133.1h0M142.6 201.4h0M157.2 186.6h0M155.5 181.3h0M167.4 194.6h0M164.6 196.7h0M160.2 195.1h0M168.3 175.4h0M159.4 168.6h0M170.5 177.6h0M156.3 182.4h0M178.9 176.9h0M167.2 185.7h0M154.1 165.0h0M165.6 168.8h0M148.3 196.9h0M141.2 183.9h0M177.1 181.9h0M182.1 205.1h0M176.8 203.3h0M154.8 174.1h0M167.1 195.4h0M150.6 176.0h0M152.3 180.7h0M158.9 188.6h0M157.5 171.1h0M149.4 173.6h0M160.5 173.6h0M164.5 175.1h0M159.3 203.2h0M170.0 203.6h0M175.3 146.7h0M155.9 174.4h0M145.3 183.0h0M155.6 177.2h0M160.4 202.9h0M157.0 176.5h0M162.4 202.1h0M160.7 194.5h0M194.7 173.6h0M172.4 189.3h0M154.6 132.5h0M168.2 163.0h0M191.5 199.8h0M160.4 162.7h0M170.7 183.1h0M192.4 205.4h0M194.6 190.3h0M177.2 170.3h0M160.2 179.8h0M159.6 181.4h0M165.3 167.4h0M177.4 200.9h0M162.3 169.7h0M170.6 188.6h0M150.4 150.3h0M175.2 174.1h0M140.9 171.8h0M158.9 154.9h0M162.9 182.5h0M157.5 180.4h0M185.0 184.8h0M144.2 159.9h0M173.8 170.3h0M143.0 191.1h0M157.0 158.6h0M151.7 188.4h0M183.6 202.2h0M177.6 196.0h0M180.8 175.0h0M155.2 172.0h0M182.0 191.0h0M174.1 190.0h0M147.6 168.3h0M156.7 175.2h0M185.1 186.6h0M159.8 159.0h0M181.9 197.3h0M143.1 178.5h0M162.2 174.6h0M166.6 194.6h0M184.9 204.7h0M165.9 165.9h0M156.3 195.9h0M143.1 177.8h0M166.9 190.6h0M152.4 183.1h0M181.3 194.1h0M160.9 184.6h0M177.4 150.0h0M181.4 202.7h0M164.1 178.9h0M158.1 170.6h0M159.8 192.9h0M155.5 184.7h0M143.1 190.6h0M157.0 172.7h0M151.6 174.5h0M149.0 144.4h0M160.9 178.9h0M172.7 175.0h0M170.3 179.1h0M143.7 181.0h0M152.0 166.1h0M173.3 195.7h0M167.7 180.4h0M169.4 204.5h0M157.3 191.3h0M162.1 188.0h0M160.8 177.4h0M146.0 163.9h0M164.8 186.6h0M157.1 150.4h0M196.2 190.2h0M188.1 146.2h0M172.0 198.6h0M176.4 198.5h0M171.1 175.2h0M166.4 159.9h0M160.6 154.8h0M142.8 169.0h0M166.9 178.8h0M161.4 147.8h0M168.4 206.1h0M161.9 189.7h0M157.0 192.1h0M155.8 171.5h0M142.2 188.4h0M162.5 185.5h0M159.4 188.6h0M160.3 189.8h0M160.6 187.4h0M152.5 145.2h0M188.3 159.1h0M144.3 156.2h0M172.6 206.1h0M201.9 194.6h0M165.3 197.0h0M153.7 169.4h0M153.3 173.8h0M157.4 196.7h0M153.3 156.2h0M151.8 173.7h0M157.8 178.1h0M157.2 189.7h0M173.5 169.4h0M149.4 145.5h0M159.4 198.4h0M155.2 170.7h0M156.6 165.5h0M153.0 172.0h0M168.8 132.0h0M171.6 176.1h0M141.8 164.9h0M179.3 200.4h0M158.1 192.5h0M145.2 178.3h0M154.2 159.7h0M156.6 163.0h0M167.3 148.8h0M163.8 192.2h0M201.0 172.5h0M163.1 178.2h0M166.8 183.7h0M178.7 204.5h0M142.1 171.5h0M178.9 205.5h0M167.6 189.6h0M149.0 180.8h0M183.5 183.7h0M177.0 177.8h0M170.0 191.8h0M158.5 181.3h0M168.3 159.0h0M169.3 187.7h0M153.6 194.8h0M149.9 170.6h0M143.6 177.6h0M193.9 188.0h0M144.7 159.1h0M158.0 181.3h0M151.3 167.7h0M164.6 191.7h0M159.4 185.9h0M159.2 184.0h0M162.3 184.1h0M177.9 156.8h0M149.3 170.2h0M203.7 145.9h0M178.7 174.6h0M165.8 173.8h0M156.8 198.7h0M173.8 197.2h0M155.2 157.8h0M145.0 168.8h0M157.7 204.1h0M158.0 183.6h0M151.9 160.9h0M165.6 170.7h0M147.9 184.8h0M162.3 184.6h0M152.4 179.6h0M168.1 183.9h0M163.0 199.9h0M178.2 167.1h0M165.5 179.6h0M171.9 187.2h0M147.4 178.5h0M165.5 198.8h0M142.3 171.5h0M181.9 164.4h0M151.2 142.6h0M165.4 206.0h0M161.4 194.3h0M141.0 180.8h0M173.9 171.9h0M150.0 174.5h0M157.6 180.2h0M152.7 178.8h0M151.8 169.5h0M190.7 204.5h0M166.6 203.1h0M147.0 155.7h0M142.2 170.3h0M154.6 177.1h0M149.9 170.1h0M178.3 189.8h0M163.4 187.3h0M166.9 188.8h0M144.3 170.7h0M155.4 187.8h0M159.4 182.4h0M185.0 187.7h0M149.7 175.7h0M144.4 199.4h0M180.8 157.8h0M165.1 182.1h0M147.3 167.7h0M158.7 182.2h0M181.1 196.8h0M166.1 183.5h0M155.8 176.8h0M162.2 183.4h0M160.8 172.0h0M145.0 173.5h0M165.2 193.1h0M147.8 174.8h0M146.9 175.2h0M150.1 182.1h0M197.7 194.4h0M152.0 179.6h0M141.2 185.7h0M188.7 194.9h0M141.1 164.1h0M168.7 145.9h0M156.6 199.9h0M164.8 195.3h0M177.3 165.3h0M160.1 184.1h0M162.3 176.5h0M170.0 165.7h0M176.1 202.2h0M166.7 163.1h0M198.8 205.3h0M143.1 185.0h0M173.1 163.6h0M141.5 169.9h0M162.5 188.7h0M179.9 177.1h0M158.6 173.2h0M169.1 198.3h0M164.5 183.0h0M280.9 60.7h0M208.9 80.5h0M223.0 110.2h0M196.6 112.4h0M190.8 119.3h0M178.1 124.8h0M230.2 134.9h0M234.9 139.8h0M286.7 151.0h0M250.1 163.2h0M250.1 176.6h0M236.0 171.4h0M223.0 178.2h0M221.2 196.6h0M226.2 172.3h0M215.4 162.8h0M208.1 186.0h0M204.5 200.7h0M210.3 173.5h0M203.1 131.9h0M208.5 133.1h0M212.5 139.1h0" stroke="#f5292b" stroke-width="2.3" stroke-linecap="round" fill="none"/>
<circle cx="82.5" cy="417.6" r="71.6" fill="#a3b07c" stroke="#56701c" stroke-width="1.3"/>
<circle cx="162.6" cy="417.6" r="71.6" fill="#5b82d2" fill-opacity="0.5" stroke="#5e88da" stroke-width="1.3"/>
<text x="59.20" y="419.00" font-size="10.3" font-weight="bold" text-anchor="middle">11768</text>
<text x="120.50" y="419.00" font-size="10.3" font-weight="bold" text-anchor="middle">4</text>
<text x="182.40" y="419.00" font-size="10.3" font-weight="bold" text-anchor="middle">11</text>
<text x="46.00" y="339.70" font-size="10" fill="#6b7d2f">GSE151807</text>
<text x="135.00" y="339.70" font-size="10" fill="#6f93d6">GSE190518</text>
<text x="43" y="308" font-size="10.1">ADAMTS1, ZFP57, MYOM2, <tspan font-weight="bold" fill="#d8184c">E2F2</tspan></text>
<line x1="120.20" y1="321.50" x2="123.70" y2="389.70" stroke="#000" stroke-width="1.5"/>
<path d="M119.6 313.2L126.9 324.6L120.1 322.3L113.7 325.1Z" fill="#000"/>
<path d="M311.1 341.1V453.5M306.1 453.5H386.7M306.1 453.5H311.1M306.1 425.4H311.1M306.1 397.3H311.1M306.1 369.2H311.1M306.1 341.1H311.1M332.5 453.5v5M364.2 453.5v5" stroke="#222" stroke-width="1.3" fill="none"/>
<text x="304.10" y="457.40" font-size="11" text-anchor="end">0</text>
<text x="304.10" y="429.30" font-size="11" text-anchor="end">50</text>
<text x="304.10" y="401.20" font-size="11" text-anchor="end">100</text>
<text x="304.10" y="373.10" font-size="11" text-anchor="end">150</text>
<text x="304.10" y="345.00" font-size="11" text-anchor="end">200</text>
<rect x="322.2" y="413.0" width="20.6" height="40.5" fill="#000"/>
<rect x="355.15" y="369.85" width="19.00" height="83.65" fill="#a0a0a0" stroke="#000" stroke-width="1.3"/>
<path d="M332.5 413.0V410.3M327.3 410.3H337.7M364.6 369.2V364.3M359.3 364.3H369.9" stroke="#000" stroke-width="1.3" fill="none"/>
<path d="M332.4 403.7V350.9H364.5V357.4" stroke="#000" stroke-width="1.2" fill="none"/>
<text x="348.20" y="345.30" font-size="9.1" text-anchor="middle">P &lt; 0.0001</text>
<text x="332.50" y="469.60" font-size="11.7" text-anchor="middle">Ctrl</text>
<text x="365.40" y="469.60" font-size="11.7" text-anchor="middle">Dep</text>
<text x="278.30" y="394.00" font-size="11.55" text-anchor="middle" transform="rotate(-90 278.30 394.00)">FST immobility time (s)</text>
<path d="M463.1 342.1V453.4M458.1 453.4H538.1M458.1 453.4H463.1M458.1 416.3H463.1M458.1 379.2H463.1M458.1 342.1H463.1M484.0 453.4v5M516.0 453.4v5" stroke="#222" stroke-width="1.3" fill="none"/>
<text x="456.10" y="457.30" font-size="11" text-anchor="end">0</text>
<text x="456.10" y="420.20" font-size="11" text-anchor="end">50</text>
<text x="456.10" y="383.10" font-size="11" text-anchor="end">100</text>
<text x="456.10" y="346.00" font-size="11" text-anchor="end">150</text>
<rect x="474.2" y="392.9" width="20.0" height="60.5" fill="#000"/>
<rect x="506.95" y="354.62" width="18.70" height="98.78" fill="#a0a0a0" stroke="#000" stroke-width="1.3"/>
<path d="M484.2 392.9V389.4M479.0 389.4H489.4M516.3 354.0V348.4M511.1 348.4H521.5" stroke="#000" stroke-width="1.3" fill="none"/>
<path d="M484.2 383.3V335.2H515.7V341.6" stroke="#000" stroke-width="1.2" fill="none"/>
<text x="499.60" y="329.80" font-size="9.1" text-anchor="middle">P &lt; 0.0001</text>
<text x="484.00" y="469.60" font-size="11.7" text-anchor="middle">Ctrl</text>
<text x="517.20" y="469.60" font-size="11.7" text-anchor="middle">Dep</text>
<text x="431.00" y="395.00" font-size="11.3" text-anchor="middle" transform="rotate(-90 431.00 395.00)">TST immobility time (s)</text>
<path d="M609.6 341.3V452.5M604.6 452.5H683.7M604.6 452.5H609.6M604.6 424.7H609.6M604.6 396.9H609.6M604.6 369.1H609.6M604.6 341.3H609.6M630.2 452.5v5M661.8 452.5v5" stroke="#222" stroke-width="1.3" fill="none"/>
<text x="602.60" y="456.40" font-size="11" text-anchor="end">0</text>
<text x="602.60" y="428.60" font-size="11" text-anchor="end">1</text>
<text x="602.60" y="400.80" font-size="11" text-anchor="end">2</text>
<text x="602.60" y="373.00" font-size="11" text-anchor="end">3</text>
<text x="602.60" y="345.20" font-size="11" text-anchor="end">4</text>
<rect x="620.5" y="374.7" width="19.9" height="77.8" fill="#000"/>
<rect x="652.45" y="442.03" width="18.60" height="10.47" fill="#a0a0a0" stroke="#000" stroke-width="1.3"/>
<path d="M630.5 374.7V370.6M624.2 370.6H636.7M661.8 441.4V440.7M656.8 440.7H666.8" stroke="#000" stroke-width="1.3" fill="none"/>
<path d="M630.2 364.4V357.4H661.3V435" stroke="#000" stroke-width="1.2" fill="none"/>
<text x="645.30" y="352.20" font-size="9.1" text-anchor="middle">P &lt; 0.0001</text>
<text x="630.20" y="469.60" font-size="11.7" text-anchor="middle">Ctrl</text>
<text x="663.00" y="469.60" font-size="11.7" text-anchor="middle">Dep</text>
<text x="587.60" y="398.70" font-size="11.6" text-anchor="middle" transform="rotate(-90 587.60 398.70)">Social interaction ratio</text>
<text x="154.30" y="514.90" font-size="10.2" text-anchor="middle">Young</text>
<line x1="40.90" y1="520.90" x2="266.20" y2="520.90" stroke="#f0902a" stroke-width="1.3"/>
<text x="98.00" y="535.90" font-size="10" text-anchor="middle">Ctrl</text>
<text x="213.90" y="535.90" font-size="10" text-anchor="middle">Dep</text>
<text x="329.30" y="535.90" font-size="10" text-anchor="middle">Aged</text>
<defs>
<clipPath id="c00"><rect x="42.3" y="543.1" width="111.5" height="82.8"/></clipPath>
<clipPath id="c01"><rect x="158.0" y="543.1" width="111.8" height="82.8"/></clipPath>
<clipPath id="c02"><rect x="273.7" y="543.1" width="111.2" height="82.8"/></clipPath>
<clipPath id="c10"><rect x="42.3" y="630.6" width="111.5" height="81.8"/></clipPath>
<clipPath id="c11"><rect x="158.0" y="630.6" width="111.8" height="81.8"/></clipPath>
<clipPath id="c12"><rect x="273.7" y="630.6" width="111.2" height="81.8"/></clipPath>
<clipPath id="c20"><rect x="42.3" y="716.9" width="111.5" height="81.5"/></clipPath>
<clipPath id="c21"><rect x="158.0" y="716.9" width="111.8" height="81.5"/></clipPath>
<clipPath id="c22"><rect x="273.7" y="716.9" width="111.2" height="81.5"/></clipPath>
<filter id="fl" x="0" y="0" width="1" height="1" filterUnits="objectBoundingBox"><feTurbulence type="fractalNoise" baseFrequency="0.38" numOctaves="2" seed="4"/><feColorMatrix type="matrix" values="0 0 0 0 1  0 0 0 0 0.98  0 0 0 0 0.95  2.4 0 0 0 -1.05"/></filter>
<filter id="fd" x="0" y="0" width="1" height="1" filterUnits="objectBoundingBox"><feTurbulence type="fractalNoise" baseFrequency="0.12" numOctaves="3" seed="9"/><feColorMatrix type="matrix" values="0 0 0 0 0.72  0 0 0 0 0.5  0 0 0 0 0.34  0 2.6 0 0 -1.15"/></filter>
<filter id="fb" x="0" y="0" width="1" height="1" filterUnits="objectBoundingBox"><feGaussianBlur stdDeviation="0.35"/></filter>
</defs>
<g clip-path="url(#c00)">
<rect x="42.3" y="543.1" width="111.5" height="82.8" fill="#e6c59c"/>
<linearGradient id="g00" x1="0" y1="0" x2="0" y2="1"><stop offset="0" stop-color="#d4a474" stop-opacity="0.5"/><stop offset="0.55" stop-color="#e6c6a0" stop-opacity="0.0"/><stop offset="1" stop-color="#f3e0c4" stop-opacity="0.5"/></linearGradient>
<rect x="42.3" y="543.1" width="111.5" height="82.8" fill="url(#g00)"/>
<rect x="42.3" y="543.1" width="111.5" height="82.8" filter="url(#fd)" opacity="0.5"/>
<rect x="42.3" y="543.1" width="111.5" height="82.8" filter="url(#fl)" opacity="0.35"/>
<g opacity="0.62" filter="url(#fb)"><circle cx="103.7" cy="594.7" r="1.3" fill="#ae9ab0"/><circle cx="105.8" cy="574.9" r="1.2" fill="#a696b0"/><circle cx="65.4" cy="546.9" r="1.4" fill="#ae9ab0"/><circle cx="58.5" cy="576.1" r="1.3" fill="#a8929e"/><circle cx="117.7" cy="586.2" r="1.2" fill="#a08a96"/><circle cx="150.9" cy="572.4" r="1.5" fill="#a8929e"/><circle cx="119.6" cy="575.2" r="1.2" fill="#a696b0"/><circle cx="126.8" cy="602.7" r="1.3" fill="#a696b0"/><circle cx="85.6" cy="611.3" r="1.7" fill="#a8929e"/><circle cx="78.6" cy="602.0" r="1.4" fill="#a696b0"/><circle cx="52.6" cy="590.7" r="1.5" fill="#a696b0"/><circle cx="44.9" cy="566.1" r="1.5" fill="#a08a96"/><circle cx="72.3" cy="564.4" r="1.4" fill="#ae9ab0"/><circle cx="116.2" cy="606.6" r="1.6" fill="#ae9ab0"/><circle cx="93.0" cy="558.1" r="1.3" fill="#a696b0"/><circle cx="136.1" cy="593.6" r="1.4" fill="#ae9ab0"/><circle cx="121.2" cy="597.5" r="1.6" fill="#a8929e"/><circle cx="77.6" cy="604.6" r="1.4" fill="#ae9ab0"/><circle cx="106.2" cy="566.8" r="1.4" fill="#a696b0"/><circle cx="76.0" cy="601.9" r="1.3" fill="#ae9ab0"/><circle cx="119.4" cy="590.5" r="1.6" fill="#ae9ab0"/><circle cx="144.7" cy="558.2" r="1.7" fill="#a8929e"/><circle cx="64.5" cy="554.2" r="1.2" fill="#a8929e"/><circle cx="126.2" cy="551.6" r="1.2" fill="#a696b0"/><circle cx="118.3" cy="582.5" r="1.6" fill="#a08a96"/><circle cx="89.7" cy="602.8" r="1.5" fill="#a696b0"/><circle cx="95.8" cy="604.5" r="1.6" fill="#ae9ab0"/><circle cx="142.3" cy="600.4" r="1.3" fill="#a696b0"/><circle cx="103.9" cy="557.4" r="1.3" fill="#a696b0"/><circle cx="64.9" cy="612.9" r="1.6" fill="#ae9ab0"/><circle cx="102.9" cy="549.6" r="1.4" fill="#ae9ab0"/><circle cx="75.6" cy="562.7" r="1.7" fill="#a696b0"/><circle cx="66.6" cy="556.0" r="1.2" fill="#ae9ab0"/><circle cx="55.7" cy="545.9" r="1.7" fill="#ae9ab0"/><circle cx="47.8" cy="558.4" r="1.6" fill="#a08a96"/><circle cx="142.4" cy="604.0" r="1.2" fill="#a696b0"/><circle cx="148.9" cy="574.8" r="1.2" fill="#ae9ab0"/><circle cx="56.8" cy="605.8" r="1.3" fill="#ae9ab0"/><circle cx="135.7" cy="555.5" r="1.3" fill="#a08a96"/><circle cx="94.8" cy="594.6" r="1.4" fill="#a08a96"/><circle cx="138.6" cy="564.3" r="1.6" fill="#a696b0"/><circle cx="51.4" cy="565.5" r="1.5" fill="#a8929e"/><circle cx="82.3" cy="596.0" r="1.2" fill="#a08a96"/><circle cx="114.7" cy="565.7" r="1.7" fill="#a696b0"/><circle cx="140.4" cy="601.3" r="1.7" fill="#a8929e"/><circle cx="153.6" cy="554.7" r="1.6" fill="#a696b0"/><circle cx="149.9" cy="594.0" r="1.4" fill="#ae9ab0"/><circle cx="68.9" cy="593.9" r="1.2" fill="#ae9ab0"/><circle cx="66.4" cy="603.7" r="1.7" fill="#ae9ab0"/><circle cx="109.5" cy="560.0" r="1.4" fill="#a08a96"/><circle cx="53.0" cy="604.1" r="1.5" fill="#a8929e"/><circle cx="87.8" cy="550.8" r="1.4" fill="#a8929e"/><circle cx="80.6" cy="612.2" r="1.6" fill="#a08a96"/><circle cx="57.8" cy="544.7" r="1.3" fill="#a696b0"/><circle cx="76.3" cy="580.8" r="1.2" fill="#a8929e"/><circle cx="99.9" cy="569.9" r="1.3" fill="#ae9ab0"/><circle cx="95.7" cy="547.6" r="1.7" fill="#a696b0"/><circle cx="76.4" cy="563.8" r="1.3" fill="#a08a96"/><circle cx="50.7" cy="556.5" r="1.4" fill="#a8929e"/><circle cx="111.1" cy="614.4" r="1.3" fill="#a696b0"/><circle cx="111.3" cy="554.6" r="1.3" fill="#ae9ab0"/><circle cx="108.3" cy="552.2" r="1.2" fill="#ae9ab0"/><circle cx="95.8" cy="543.2" r="1.2" fill="#a8929e"/><circle cx="73.2" cy="548.6" r="1.3" fill="#a696b0"/><circle cx="106.8" cy="593.7" r="1.4" fill="#a696b0"/><circle cx="62.5" cy="597.3" r="1.4" fill="#a8929e"/><circle cx="57.3" cy="559.7" r="1.6" fill="#a696b0"/><circle cx="113.4" cy="590.8" r="1.2" fill="#ae9ab0"/><circle cx="58.5" cy="594.3" r="1.5" fill="#a8929e"/><circle cx="49.6" cy="566.9" r="1.5" fill="#a08a96"/><circle cx="69.8" cy="594.5" r="1.2" fill="#a8929e"/><circle cx="135.8" cy="593.4" r="1.2" fill="#a08a96"/><circle cx="124.3" cy="589.2" r="1.4" fill="#a696b0"/><circle cx="79.6" cy="604.6" r="1.4" fill="#ae9ab0"/><circle cx="139.0" cy="592.4" r="1.4" fill="#a08a96"/><circle cx="134.8" cy="589.4" r="1.4" fill="#ae9ab0"/><circle cx="99.0" cy="606.6" r="1.7" fill="#ae9ab0"/><circle cx="133.3" cy="603.1" r="1.2" fill="#a08a96"/><circle cx="48.6" cy="595.2" r="1.4" fill="#a8929e"/><circle cx="130.3" cy="549.6" r="1.4" fill="#a696b0"/><circle cx="74.7" cy="608.7" r="1.6" fill="#a696b0"/><circle cx="142.2" cy="597.2" r="1.4" fill="#a696b0"/><circle cx="138.5" cy="580.0" r="1.5" fill="#a08a96"/><circle cx="138.6" cy="586.3" r="1.7" fill="#ae9ab0"/><circle cx="56.4" cy="548.4" r="1.5" fill="#a696b0"/><circle cx="47.2" cy="563.0" r="1.5" fill="#ae9ab0"/><circle cx="51.7" cy="589.1" r="1.5" fill="#a8929e"/><circle cx="121.5" cy="566.5" r="1.4" fill="#ae9ab0"/><circle cx="92.7" cy="582.1" r="1.6" fill="#a8929e"/><circle cx="88.3" cy="613.5" r="1.2" fill="#a696b0"/><circle cx="42.5" cy="558.4" r="1.3" fill="#a8929e"/><circle cx="82.9" cy="561.8" r="1.5" fill="#a8929e"/><circle cx="141.7" cy="571.9" r="1.6" fill="#ae9ab0"/><circle cx="142.3" cy="592.8" r="1.4" fill="#a8929e"/><circle cx="128.1" cy="553.7" r="1.5" fill="#a8929e"/><circle cx="98.6" cy="579.0" r="1.5" fill="#a696b0"/><circle cx="46.7" cy="597.5" r="1.5" fill="#a08a96"/><circle cx="80.1" cy="581.5" r="1.5" fill="#a696b0"/><circle cx="106.4" cy="546.8" r="1.5" fill="#ae9ab0"/><circle cx="46.3" cy="573.2" r="1.7" fill="#a8929e"/><circle cx="46.9" cy="551.9" r="1.3" fill="#a8929e"/><circle cx="80.5" cy="543.5" r="1.2" fill="#a696b0"/><circle cx="43.0" cy="571.7" r="1.7" fill="#ae9ab0"/><circle cx="141.4" cy="549.1" r="1.3" fill="#ae9ab0"/><circle cx="89.6" cy="588.2" r="1.3" fill="#a08a96"/><circle cx="127.9" cy="547.5" r="1.3" fill="#ae9ab0"/><circle cx="115.9" cy="555.5" r="1.5" fill="#a8929e"/><circle cx="89.7" cy="574.2" r="1.5" fill="#ae9ab0"/><circle cx="126.5" cy="571.4" r="1.2" fill="#ae9ab0"/><circle cx="74.4" cy="545.1" r="1.2" fill="#a8929e"/><circle cx="84.9" cy="614.4" r="1.4" fill="#a08a96"/><circle cx="120.7" cy="546.3" r="1.2" fill="#a8929e"/><circle cx="95.9" cy="549.2" r="1.4" fill="#ae9ab0"/><circle cx="146.1" cy="598.7" r="1.4" fill="#a8929e"/><circle cx="97.4" cy="581.6" r="1.6" fill="#ae9ab0"/><circle cx="70.8" cy="554.3" r="1.5" fill="#a8929e"/><circle cx="139.7" cy="569.5" r="1.6" fill="#a696b0"/><circle cx="77.6" cy="548.5" r="1.5" fill="#a696b0"/><circle cx="111.7" cy="593.0" r="1.5" fill="#a08a96"/><circle cx="104.1" cy="592.4" r="1.6" fill="#a8929e"/><circle cx="58.5" cy="591.7" r="1.7" fill="#ae9ab0"/><circle cx="145.3" cy="546.0" r="1.7" fill="#a08a96"/><circle cx="98.7" cy="547.5" r="1.3" fill="#a08a96"/><circle cx="77.3" cy="566.9" r="1.3" fill="#a696b0"/><circle cx="82.4" cy="588.3" r="1.4" fill="#a08a96"/><circle cx="111.1" cy="582.9" r="1.5" fill="#ae9ab0"/><circle cx="58.1" cy="593.9" r="1.7" fill="#a696b0"/><circle cx="106.8" cy="563.8" r="1.7" fill="#a8929e"/><circle cx="146.2" cy="596.6" r="1.4" fill="#a696b0"/><circle cx="75.4" cy="589.4" r="1.3" fill="#a8929e"/><circle cx="97.9" cy="548.2" r="1.6" fill="#a696b0"/><circle cx="114.4" cy="550.2" r="1.3" fill="#a696b0"/><circle cx="61.6" cy="600.2" r="1.6" fill="#ae9ab0"/><circle cx="146.9" cy="564.8" r="1.7" fill="#a696b0"/><circle cx="138.9" cy="570.8" r="1.5" fill="#a696b0"/></g>
<g opacity="0.7" filter="url(#fb)"><circle cx="136.9" cy="565.4" r="1.2" fill="#8e6c78"/><circle cx="78.3" cy="571.9" r="1.0" fill="#8e6c78"/><circle cx="100.3" cy="603.9" r="1.2" fill="#8e6c78"/><circle cx="78.2" cy="612.2" r="0.9" fill="#8e6c78"/><circle cx="86.6" cy="569.9" r="1.0" fill="#9c7462"/><circle cx="136.4" cy="617.8" r="1.0" fill="#8e6c78"/><circle cx="97.2" cy="565.4" r="0.9" fill="#9c7462"/><circle cx="114.7" cy="549.7" r="1.1" fill="#8e6c78"/><circle cx="135.6" cy="588.0" r="1.2" fill="#8e6c78"/><circle cx="80.5" cy="603.3" r="1.2" fill="#8e6c78"/><circle cx="124.7" cy="551.6" r="1.0" fill="#9c7462"/><circle cx="117.9" cy="617.6" r="0.9" fill="#8e6c78"/><circle cx="123.8" cy="555.7" r="0.9" fill="#9c7462"/><circle cx="49.7" cy="556.3" r="0.8" fill="#9c7462"/><circle cx="147.0" cy="624.2" r="1.1" fill="#9c7462"/><circle cx="115.9" cy="608.9" r="0.9" fill="#9c7462"/><circle cx="59.8" cy="566.4" r="0.9" fill="#8e6c78"/><circle cx="95.0" cy="567.6" r="0.9" fill="#8e6c78"/><circle cx="109.7" cy="615.3" r="0.8" fill="#9c7462"/><circle cx="152.4" cy="606.2" r="0.9" fill="#9c7462"/></g>
</g>
<g clip-path="url(#c01)">
<rect x="158.0" y="543.1" width="111.8" height="82.8" fill="#dfbd95"/>
<linearGradient id="g01" x1="0" y1="0" x2="1" y2="0"><stop offset="0" stop-color="#d0a270" stop-opacity="0.5"/><stop offset="1" stop-color="#e6ccac" stop-opacity="0.3"/></linearGradient>
<rect x="158.0" y="543.1" width="111.8" height="82.8" fill="url(#g01)"/>
<rect x="158.0" y="543.1" width="111.8" height="82.8" filter="url(#fd)" opacity="0.55"/>
<rect x="158.0" y="543.1" width="111.8" height="82.8" filter="url(#fl)" opacity="0.3"/>
<g opacity="0.8" filter="url(#fb)"><circle cx="171.9" cy="565.4" r="1.2" fill="#8a82aa"/><circle cx="212.5" cy="555.0" r="1.3" fill="#948cb0"/><circle cx="203.0" cy="593.1" r="1.0" fill="#9e94b6"/><circle cx="200.0" cy="610.2" r="1.0" fill="#9e94b6"/><circle cx="193.6" cy="554.5" r="1.2" fill="#948cb0"/><circle cx="209.6" cy="601.6" r="1.3" fill="#8c7c9c"/><circle cx="181.0" cy="543.5" r="1.1" fill="#948cb0"/><circle cx="187.3" cy="615.5" r="1.0" fill="#948cb0"/><circle cx="261.2" cy="567.2" r="1.3" fill="#9e94b6"/><circle cx="166.7" cy="608.9" r="1.2" fill="#948cb0"/><circle cx="209.5" cy="576.2" r="1.3" fill="#9e94b6"/><circle cx="187.8" cy="543.2" r="1.2" fill="#8a82aa"/><circle cx="182.1" cy="581.0" r="1.3" fill="#948cb0"/><circle cx="234.8" cy="579.9" r="1.2" fill="#8c7c9c"/><circle cx="245.5" cy="579.3" r="1.2" fill="#8a82aa"/><circle cx="160.0" cy="594.2" r="1.2" fill="#9e94b6"/><circle cx="181.4" cy="550.1" r="1.3" fill="#9e94b6"/><circle cx="187.9" cy="564.9" r="1.3" fill="#948cb0"/><circle cx="237.8" cy="563.7" r="1.1" fill="#9e94b6"/><circle cx="263.3" cy="583.2" r="1.0" fill="#9e94b6"/><circle cx="251.4" cy="600.8" r="1.2" fill="#8c7c9c"/><circle cx="190.4" cy="581.2" r="1.2" fill="#9e94b6"/><circle cx="260.4" cy="549.5" r="1.2" fill="#948cb0"/><circle cx="235.7" cy="580.9" r="1.2" fill="#8c7c9c"/><circle cx="257.9" cy="555.8" r="1.2" fill="#9e94b6"/><circle cx="197.8" cy="589.9" r="1.0" fill="#8c7c9c"/><circle cx="175.1" cy="575.1" r="1.1" fill="#948cb0"/><circle cx="244.6" cy="613.6" r="1.2" fill="#9e94b6"/><circle cx="246.5" cy="561.8" r="1.0" fill="#8a82aa"/><circle cx="172.0" cy="577.6" r="1.3" fill="#8c7c9c"/><circle cx="170.0" cy="592.7" r="1.0" fill="#8c7c9c"/><circle cx="229.8" cy="579.4" r="1.1" fill="#8a82aa"/><circle cx="245.5" cy="550.8" r="1.2" fill="#8c7c9c"/><circle cx="261.7" cy="558.3" r="1.1" fill="#9e94b6"/><circle cx="230.6" cy="614.5" r="1.0" fill="#948cb0"/><circle cx="214.9" cy="556.0" r="1.2" fill="#8c7c9c"/><circle cx="162.6" cy="609.1" r="1.3" fill="#8c7c9c"/><circle cx="196.7" cy="613.7" r="1.2" fill="#8a82aa"/><circle cx="245.5" cy="544.6" r="1.2" fill="#948cb0"/><circle cx="229.4" cy="579.8" r="1.0" fill="#9e94b6"/><circle cx="265.8" cy="590.5" r="1.0" fill="#8a82aa"/><circle cx="238.2" cy="618.4" r="1.1" fill="#9e94b6"/><circle cx="261.1" cy="568.9" r="1.3" fill="#948cb0"/><circle cx="191.0" cy="589.6" r="1.1" fill="#8a82aa"/><circle cx="262.0" cy="613.0" r="1.2" fill="#9e94b6"/><circle cx="178.8" cy="547.2" r="1.2" fill="#948cb0"/><circle cx="228.9" cy="591.4" r="1.0" fill="#8c7c9c"/><circle cx="160.1" cy="557.4" r="1.0" fill="#9e94b6"/><circle cx="198.6" cy="583.7" r="1.2" fill="#8a82aa"/><circle cx="222.6" cy="619.8" r="1.3" fill="#9e94b6"/><circle cx="240.4" cy="567.9" r="1.1" fill="#8c7c9c"/><circle cx="234.6" cy="590.2" r="1.0" fill="#8c7c9c"/><circle cx="249.6" cy="594.9" r="1.1" fill="#948cb0"/><circle cx="182.7" cy="608.0" r="1.2" fill="#948cb0"/><circle cx="176.2" cy="617.3" r="1.1" fill="#8a82aa"/><circle cx="223.5" cy="567.5" r="1.2" fill="#9e94b6"/><circle cx="214.3" cy="571.2" r="1.0" fill="#8a82aa"/><circle cx="215.7" cy="585.1" r="1.3" fill="#8a82aa"/><circle cx="259.1" cy="555.4" r="1.0" fill="#8c7c9c"/><circle cx="231.1" cy="592.9" r="1.2" fill="#9e94b6"/><circle cx="268.1" cy="608.4" r="1.0" fill="#9e94b6"/><circle cx="163.0" cy="603.8" r="1.3" fill="#948cb0"/><circle cx="220.5" cy="590.7" r="1.3" fill="#9e94b6"/><circle cx="189.0" cy="594.6" r="1.3" fill="#8a82aa"/><circle cx="242.5" cy="582.3" r="1.0" fill="#9e94b6"/><circle cx="162.3" cy="585.1" r="1.2" fill="#9e94b6"/><circle cx="240.0" cy="563.5" r="1.0" fill="#9e94b6"/><circle cx="226.2" cy="556.7" r="1.3" fill="#9e94b6"/><circle cx="250.4" cy="606.8" r="1.0" fill="#948cb0"/><circle cx="231.5" cy="547.4" r="1.2" fill="#9e94b6"/><circle cx="216.1" cy="609.8" r="1.1" fill="#8a82aa"/><circle cx="169.5" cy="544.6" r="1.1" fill="#8c7c9c"/><circle cx="248.6" cy="605.8" r="1.0" fill="#948cb0"/><circle cx="239.2" cy="623.6" r="1.1" fill="#9e94b6"/><circle cx="257.1" cy="583.3" r="1.1" fill="#948cb0"/><circle cx="263.9" cy="602.6" r="1.2" fill="#9e94b6"/><circle cx="174.8" cy="600.1" r="1.2" fill="#9e94b6"/><circle cx="214.2" cy="563.7" r="1.3" fill="#8c7c9c"/><circle cx="265.6" cy="597.7" r="1.0" fill="#948cb0"/><circle cx="223.3" cy="572.2" r="1.3" fill="#9e94b6"/><circle cx="209.5" cy="620.3" r="1.1" fill="#9e94b6"/><circle cx="234.7" cy="565.2" r="1.2" fill="#9e94b6"/><circle cx="209.6" cy="600.7" r="1.3" fill="#8c7c9c"/><circle cx="177.4" cy="602.2" r="1.3" fill="#8a82aa"/><circle cx="254.3" cy="625.6" r="1.2" fill="#9e94b6"/><circle cx="253.8" cy="606.2" r="1.2" fill="#8c7c9c"/><circle cx="247.7" cy="575.4" r="1.0" fill="#9e94b6"/><circle cx="170.1" cy="606.6" r="1.2" fill="#8a82aa"/><circle cx="203.8" cy="568.5" r="1.1" fill="#8c7c9c"/><circle cx="200.7" cy="581.5" r="1.1" fill="#948cb0"/><circle cx="203.8" cy="544.0" r="1.2" fill="#9e94b6"/><circle cx="164.1" cy="575.1" r="1.3" fill="#8a82aa"/><circle cx="187.4" cy="599.3" r="1.1" fill="#8c7c9c"/><circle cx="250.7" cy="597.6" r="1.1" fill="#8c7c9c"/><circle cx="236.8" cy="575.2" r="1.2" fill="#8a82aa"/><circle cx="183.1" cy="604.4" r="1.0" fill="#9e94b6"/><circle cx="264.7" cy="556.6" r="1.1" fill="#948cb0"/><circle cx="211.6" cy="561.2" r="1.1" fill="#8c7c9c"/><circle cx="234.5" cy="571.0" r="1.2" fill="#8c7c9c"/><circle cx="249.0" cy="616.3" r="1.2" fill="#8c7c9c"/><circle cx="193.2" cy="610.5" r="1.1" fill="#9e94b6"/><circle cx="185.6" cy="619.9" r="1.3" fill="#8a82aa"/><circle cx="171.2" cy="546.5" r="1.2" fill="#8a82aa"/><circle cx="222.3" cy="625.4" r="1.3" fill="#9e94b6"/><circle cx="255.2" cy="560.2" r="1.0" fill="#9e94b6"/><circle cx="182.9" cy="617.3" r="1.2" fill="#9e94b6"/><circle cx="234.8" cy="562.8" r="1.0" fill="#8a82aa"/><circle cx="232.6" cy="566.8" r="1.1" fill="#948cb0"/><circle cx="190.9" cy="605.6" r="1.3" fill="#8a82aa"/><circle cx="250.5" cy="611.3" r="1.2" fill="#8a82aa"/><circle cx="238.1" cy="581.0" r="1.3" fill="#8c7c9c"/><circle cx="216.0" cy="598.1" r="1.1" fill="#9e94b6"/><circle cx="187.1" cy="594.9" r="1.1" fill="#948cb0"/><circle cx="267.0" cy="551.2" r="1.2" fill="#948cb0"/><circle cx="188.6" cy="558.0" r="1.2" fill="#9e94b6"/><circle cx="190.1" cy="612.5" r="1.3" fill="#8c7c9c"/><circle cx="233.3" cy="552.8" r="1.3" fill="#9e94b6"/><circle cx="234.7" cy="562.6" r="1.2" fill="#8c7c9c"/><circle cx="225.9" cy="582.3" r="1.0" fill="#9e94b6"/><circle cx="221.4" cy="604.0" r="1.0" fill="#8a82aa"/><circle cx="201.6" cy="622.4" r="1.1" fill="#948cb0"/><circle cx="265.2" cy="565.8" r="1.0" fill="#9e94b6"/><circle cx="186.2" cy="592.5" r="1.1" fill="#9e94b6"/><circle cx="211.5" cy="559.0" r="1.3" fill="#948cb0"/><circle cx="234.7" cy="572.8" r="1.0" fill="#8c7c9c"/><circle cx="259.5" cy="567.6" r="1.3" fill="#8c7c9c"/><circle cx="176.8" cy="623.5" r="1.3" fill="#9e94b6"/><circle cx="233.9" cy="621.9" r="1.3" fill="#8c7c9c"/><circle cx="184.1" cy="601.8" r="1.0" fill="#9e94b6"/><circle cx="171.7" cy="563.0" r="1.2" fill="#9e94b6"/><circle cx="166.3" cy="613.4" r="1.0" fill="#8c7c9c"/><circle cx="195.5" cy="569.4" r="1.2" fill="#9e94b6"/><circle cx="165.3" cy="559.8" r="1.3" fill="#8c7c9c"/><circle cx="200.6" cy="578.2" r="1.1" fill="#9e94b6"/><circle cx="214.0" cy="554.1" r="1.1" fill="#8c7c9c"/><circle cx="167.2" cy="564.1" r="1.0" fill="#8a82aa"/><circle cx="215.2" cy="611.0" r="1.2" fill="#948cb0"/><circle cx="212.6" cy="583.1" r="1.1" fill="#8c7c9c"/><circle cx="171.3" cy="582.8" r="1.2" fill="#8a82aa"/><circle cx="200.0" cy="591.8" r="1.1" fill="#8a82aa"/><circle cx="232.4" cy="584.6" r="1.0" fill="#948cb0"/><circle cx="167.5" cy="568.6" r="1.2" fill="#8a82aa"/><circle cx="261.9" cy="587.1" r="1.0" fill="#9e94b6"/><circle cx="228.7" cy="623.6" r="1.2" fill="#8c7c9c"/><circle cx="258.1" cy="608.0" r="1.1" fill="#8a82aa"/><circle cx="265.8" cy="598.8" r="1.2" fill="#8c7c9c"/><circle cx="248.6" cy="602.1" r="1.0" fill="#948cb0"/><circle cx="198.7" cy="553.4" r="1.0" fill="#948cb0"/><circle cx="166.3" cy="605.0" r="1.2" fill="#9e94b6"/><circle cx="231.2" cy="568.0" r="1.3" fill="#948cb0"/><circle cx="174.0" cy="568.2" r="1.0" fill="#8c7c9c"/><circle cx="207.3" cy="601.6" r="1.0" fill="#8c7c9c"/><circle cx="245.4" cy="596.1" r="1.2" fill="#9e94b6"/><circle cx="187.2" cy="561.8" r="1.2" fill="#8c7c9c"/><circle cx="261.2" cy="549.5" r="1.3" fill="#948cb0"/><circle cx="228.3" cy="617.1" r="1.2" fill="#9e94b6"/><circle cx="200.6" cy="599.3" r="1.0" fill="#8a82aa"/><circle cx="243.5" cy="593.6" r="1.0" fill="#9e94b6"/><circle cx="232.7" cy="608.1" r="1.1" fill="#8c7c9c"/><circle cx="166.6" cy="592.7" r="1.0" fill="#8c7c9c"/></g>
<g opacity="0.85" filter="url(#fb)"><circle cx="184.8" cy="598.3" r="1.0" fill="#965630"/><circle cx="204.0" cy="595.0" r="1.3" fill="#a66238"/><circle cx="163.1" cy="550.9" r="1.2" fill="#a66238"/><circle cx="165.0" cy="553.4" r="1.0" fill="#965630"/><circle cx="170.3" cy="552.8" r="1.0" fill="#864828"/><circle cx="167.1" cy="605.5" r="1.1" fill="#864828"/><circle cx="207.1" cy="624.0" r="1.2" fill="#a66238"/><circle cx="192.5" cy="613.6" r="1.1" fill="#965630"/><circle cx="177.7" cy="576.0" r="1.1" fill="#864828"/><circle cx="188.9" cy="624.2" r="1.1" fill="#965630"/><circle cx="195.7" cy="569.7" r="1.3" fill="#a66238"/><circle cx="167.0" cy="594.7" r="1.2" fill="#864828"/><circle cx="160.7" cy="550.6" r="1.0" fill="#864828"/><circle cx="163.5" cy="595.3" r="1.0" fill="#965630"/><circle cx="176.5" cy="599.9" r="1.3" fill="#864828"/><circle cx="162.4" cy="588.4" r="1.1" fill="#864828"/><circle cx="174.9" cy="621.3" r="0.9" fill="#864828"/><circle cx="183.1" cy="552.7" r="1.2" fill="#864828"/><circle cx="206.2" cy="545.0" r="0.9" fill="#864828"/><circle cx="205.6" cy="599.8" r="1.0" fill="#864828"/><circle cx="186.2" cy="591.2" r="1.3" fill="#a66238"/><circle cx="207.7" cy="596.2" r="1.2" fill="#864828"/><circle cx="201.8" cy="575.7" r="1.1" fill="#864828"/><circle cx="197.2" cy="565.6" r="1.3" fill="#a66238"/><circle cx="204.7" cy="544.0" r="1.3" fill="#a66238"/><circle cx="173.3" cy="584.2" r="1.0" fill="#965630"/><circle cx="208.0" cy="624.7" r="1.2" fill="#965630"/><circle cx="178.4" cy="621.4" r="1.1" fill="#a66238"/><circle cx="176.2" cy="608.4" r="1.1" fill="#864828"/><circle cx="177.7" cy="576.4" r="1.3" fill="#864828"/><circle cx="200.4" cy="619.9" r="1.0" fill="#a66238"/><circle cx="185.1" cy="555.5" r="1.3" fill="#965630"/><circle cx="179.3" cy="586.5" r="1.2" fill="#864828"/><circle cx="207.0" cy="552.8" r="1.0" fill="#864828"/><circle cx="167.1" cy="599.9" r="1.0" fill="#864828"/><circle cx="184.7" cy="578.0" r="1.2" fill="#a66238"/><circle cx="200.4" cy="597.4" r="1.3" fill="#a66238"/><circle cx="180.1" cy="579.4" r="1.0" fill="#a66238"/><circle cx="184.2" cy="600.1" r="1.1" fill="#864828"/><circle cx="184.6" cy="625.4" r="1.2" fill="#864828"/><circle cx="164.6" cy="579.3" r="0.9" fill="#a66238"/><circle cx="187.8" cy="581.0" r="1.3" fill="#864828"/><circle cx="204.5" cy="566.3" r="1.2" fill="#965630"/><circle cx="196.4" cy="607.2" r="0.9" fill="#864828"/><circle cx="185.0" cy="546.0" r="1.3" fill="#864828"/></g>
<g opacity="0.85" filter="url(#fb)"><circle cx="203.8" cy="571.1" r="1.3" fill="#864828"/><circle cx="195.6" cy="571.3" r="0.9" fill="#864828"/><circle cx="242.7" cy="568.9" r="1.2" fill="#965630"/><circle cx="168.7" cy="562.1" r="1.3" fill="#965630"/><circle cx="206.9" cy="568.4" r="0.9" fill="#864828"/><circle cx="240.6" cy="543.9" r="1.0" fill="#864828"/><circle cx="215.9" cy="555.2" r="0.9" fill="#965630"/><circle cx="214.9" cy="549.2" r="1.0" fill="#965630"/><circle cx="235.6" cy="561.2" r="0.9" fill="#a66238"/><circle cx="199.1" cy="552.7" r="1.3" fill="#864828"/><circle cx="164.1" cy="545.1" r="0.9" fill="#a66238"/><circle cx="181.4" cy="565.0" r="1.1" fill="#a66238"/><circle cx="192.2" cy="563.0" r="0.9" fill="#a66238"/><circle cx="182.7" cy="562.1" r="1.0" fill="#965630"/><circle cx="240.7" cy="568.1" r="1.3" fill="#864828"/><circle cx="174.7" cy="559.4" r="1.2" fill="#864828"/><circle cx="228.4" cy="557.1" r="1.2" fill="#965630"/><circle cx="162.4" cy="571.7" r="1.0" fill="#965630"/><circle cx="205.4" cy="571.6" r="0.9" fill="#a66238"/><circle cx="214.2" cy="549.1" r="1.1" fill="#a66238"/><circle cx="204.3" cy="565.5" r="1.0" fill="#a66238"/><circle cx="173.5" cy="569.5" r="1.1" fill="#965630"/><circle cx="234.4" cy="550.0" r="1.0" fill="#864828"/><circle cx="183.2" cy="548.7" r="1.0" fill="#965630"/><circle cx="214.9" cy="564.3" r="1.3" fill="#965630"/><circle cx="183.3" cy="547.5" r="1.2" fill="#965630"/><circle cx="170.2" cy="565.0" r="1.3" fill="#864828"/><circle cx="222.4" cy="546.7" r="1.2" fill="#965630"/><circle cx="175.1" cy="565.4" r="1.3" fill="#965630"/><circle cx="234.4" cy="544.2" r="1.1" fill="#a66238"/></g>
<g opacity="0.8" filter="url(#fb)"><circle cx="253.3" cy="548.4" r="1.0" fill="#8a5a48"/><circle cx="202.8" cy="569.6" r="1.1" fill="#9a5a30"/><circle cx="235.5" cy="616.0" r="1.2" fill="#8a5a48"/><circle cx="196.0" cy="576.0" r="1.1" fill="#9a5a30"/><circle cx="205.5" cy="624.5" r="1.0" fill="#9a5a30"/><circle cx="174.5" cy="618.1" r="1.1" fill="#9a5a30"/><circle cx="188.4" cy="602.2" r="1.1" fill="#8a5a48"/><circle cx="256.4" cy="554.2" r="0.9" fill="#8a5a48"/><circle cx="178.7" cy="608.7" r="0.9" fill="#8a5a48"/><circle cx="182.3" cy="557.8" r="1.0" fill="#a8683c"/><circle cx="246.7" cy="615.3" r="1.0" fill="#8a5a48"/><circle cx="257.5" cy="574.1" r="0.9" fill="#a8683c"/><circle cx="242.6" cy="573.9" r="0.9" fill="#8a5a48"/><circle cx="167.5" cy="604.7" r="1.0" fill="#a8683c"/><circle cx="214.5" cy="616.3" r="0.8" fill="#8a5a48"/><circle cx="200.8" cy="593.9" r="1.0" fill="#8a5a48"/><circle cx="190.9" cy="618.5" r="0.9" fill="#8a5a48"/><circle cx="269.5" cy="619.3" r="1.0" fill="#9a5a30"/><circle cx="222.2" cy="561.4" r="1.0" fill="#8a5a48"/><circle cx="187.4" cy="589.5" r="1.0" fill="#9a5a30"/><circle cx="239.5" cy="580.7" r="1.2" fill="#8a5a48"/><circle cx="193.0" cy="588.3" r="0.8" fill="#9a5a30"/><circle cx="165.6" cy="616.2" r="0.9" fill="#8a5a48"/><circle cx="205.2" cy="572.0" r="1.0" fill="#a8683c"/><circle cx="202.0" cy="575.3" r="0.8" fill="#a8683c"/><circle cx="228.3" cy="594.3" r="0.9" fill="#9a5a30"/><circle cx="258.5" cy="572.1" r="0.8" fill="#9a5a30"/><circle cx="160.6" cy="555.1" r="1.0" fill="#a8683c"/><circle cx="210.8" cy="561.2" r="0.9" fill="#8a5a48"/><circle cx="198.8" cy="555.5" r="0.8" fill="#a8683c"/></g>
</g>
<g clip-path="url(#c02)">
<rect x="273.7" y="543.1" width="111.2" height="82.8" fill="#ebd0ac"/>
<linearGradient id="g02" x1="0" y1="0" x2="0" y2="1"><stop offset="0" stop-color="#dbb488" stop-opacity="0.5"/><stop offset="0.5" stop-color="#e8cca8" stop-opacity="0.1"/><stop offset="1" stop-color="#f5e4cc" stop-opacity="0.45"/></linearGradient>
<rect x="273.7" y="543.1" width="111.2" height="82.8" fill="url(#g02)"/>
<rect x="273.7" y="543.1" width="111.2" height="82.8" filter="url(#fd)" opacity="0.5"/>
<rect x="273.7" y="543.1" width="111.2" height="82.8" filter="url(#fl)" opacity="0.35"/>
<g opacity="0.58" filter="url(#fb)"><circle cx="302.8" cy="564.1" r="1.4" fill="#c2a8ac"/><circle cx="357.7" cy="604.6" r="1.2" fill="#b2a0b4"/><circle cx="299.2" cy="612.6" r="1.5" fill="#b2a0b4"/><circle cx="356.8" cy="548.3" r="1.2" fill="#b2a0b4"/><circle cx="301.7" cy="584.9" r="1.2" fill="#c2a8ac"/><circle cx="381.5" cy="607.4" r="1.4" fill="#b2a0b4"/><circle cx="368.7" cy="551.3" r="1.4" fill="#baa6b6"/><circle cx="380.8" cy="607.4" r="1.6" fill="#c2a8ac"/><circle cx="275.4" cy="612.7" r="1.5" fill="#b2a0b4"/><circle cx="275.9" cy="556.1" r="1.4" fill="#c2a8ac"/><circle cx="289.8" cy="577.8" r="1.2" fill="#baa6b6"/><circle cx="355.9" cy="558.6" r="1.3" fill="#c2a8ac"/><circle cx="294.5" cy="584.4" r="1.3" fill="#c2a8ac"/><circle cx="327.6" cy="612.7" r="1.4" fill="#c2a8ac"/><circle cx="349.7" cy="606.3" r="1.7" fill="#b2a0b4"/><circle cx="331.7" cy="602.7" r="1.4" fill="#c2a8ac"/><circle cx="274.0" cy="559.7" r="1.3" fill="#baa6b6"/><circle cx="281.2" cy="611.2" r="1.2" fill="#b2a0b4"/><circle cx="281.6" cy="612.1" r="1.5" fill="#b2a0b4"/><circle cx="293.4" cy="549.8" r="1.2" fill="#b2a0b4"/><circle cx="306.7" cy="573.2" r="1.4" fill="#baa6b6"/><circle cx="351.6" cy="574.3" r="1.2" fill="#b2a0b4"/><circle cx="384.1" cy="563.5" r="1.5" fill="#b2a0b4"/><circle cx="355.9" cy="588.8" r="1.6" fill="#b2a0b4"/><circle cx="328.6" cy="576.9" r="1.7" fill="#b2a0b4"/><circle cx="384.3" cy="578.2" r="1.7" fill="#c2a8ac"/><circle cx="304.8" cy="614.2" r="1.4" fill="#c2a8ac"/><circle cx="309.0" cy="546.3" r="1.2" fill="#baa6b6"/><circle cx="325.2" cy="575.9" r="1.4" fill="#c2a8ac"/><circle cx="346.0" cy="600.5" r="1.4" fill="#c2a8ac"/><circle cx="325.1" cy="601.6" r="1.3" fill="#c2a8ac"/><circle cx="321.7" cy="551.3" r="1.4" fill="#baa6b6"/><circle cx="302.7" cy="598.0" r="1.7" fill="#b2a0b4"/><circle cx="293.3" cy="566.1" r="1.4" fill="#c2a8ac"/><circle cx="332.8" cy="611.0" r="1.3" fill="#c2a8ac"/><circle cx="348.0" cy="612.2" r="1.3" fill="#c2a8ac"/><circle cx="295.7" cy="577.2" r="1.3" fill="#b2a0b4"/><circle cx="372.5" cy="543.6" r="1.6" fill="#baa6b6"/><circle cx="368.6" cy="545.6" r="1.2" fill="#c2a8ac"/><circle cx="300.9" cy="552.2" r="1.4" fill="#c2a8ac"/><circle cx="344.7" cy="573.2" r="1.3" fill="#baa6b6"/><circle cx="354.6" cy="590.9" r="1.4" fill="#baa6b6"/><circle cx="379.8" cy="607.9" r="1.2" fill="#b2a0b4"/><circle cx="292.4" cy="559.3" r="1.7" fill="#baa6b6"/><circle cx="331.8" cy="560.9" r="1.4" fill="#baa6b6"/><circle cx="281.8" cy="590.4" r="1.7" fill="#b2a0b4"/><circle cx="368.8" cy="590.0" r="1.7" fill="#c2a8ac"/><circle cx="376.9" cy="555.9" r="1.6" fill="#b2a0b4"/><circle cx="307.5" cy="552.4" r="1.7" fill="#c2a8ac"/><circle cx="289.7" cy="611.0" r="1.3" fill="#c2a8ac"/><circle cx="328.3" cy="591.7" r="1.5" fill="#b2a0b4"/><circle cx="320.4" cy="605.1" r="1.5" fill="#b2a0b4"/><circle cx="339.3" cy="611.0" r="1.3" fill="#baa6b6"/><circle cx="341.8" cy="615.5" r="1.4" fill="#b2a0b4"/><circle cx="275.2" cy="550.3" r="1.4" fill="#c2a8ac"/><circle cx="330.6" cy="596.7" r="1.5" fill="#c2a8ac"/><circle cx="321.5" cy="605.9" r="1.5" fill="#b2a0b4"/><circle cx="310.5" cy="607.7" r="1.5" fill="#baa6b6"/><circle cx="355.6" cy="604.4" r="1.3" fill="#c2a8ac"/><circle cx="328.2" cy="578.7" r="1.3" fill="#b2a0b4"/><circle cx="282.3" cy="550.1" r="1.3" fill="#c2a8ac"/><circle cx="284.7" cy="571.7" r="1.3" fill="#c2a8ac"/><circle cx="290.1" cy="614.5" r="1.5" fill="#baa6b6"/><circle cx="322.9" cy="608.6" r="1.3" fill="#c2a8ac"/><circle cx="328.0" cy="610.7" r="1.4" fill="#b2a0b4"/><circle cx="298.7" cy="603.0" r="1.5" fill="#b2a0b4"/><circle cx="284.1" cy="596.2" r="1.2" fill="#b2a0b4"/><circle cx="314.1" cy="580.6" r="1.2" fill="#baa6b6"/><circle cx="363.0" cy="574.3" r="1.2" fill="#c2a8ac"/><circle cx="278.2" cy="578.8" r="1.6" fill="#baa6b6"/><circle cx="362.7" cy="600.9" r="1.6" fill="#c2a8ac"/><circle cx="334.0" cy="544.6" r="1.5" fill="#b2a0b4"/><circle cx="331.2" cy="558.8" r="1.7" fill="#baa6b6"/><circle cx="275.3" cy="574.4" r="1.4" fill="#b2a0b4"/><circle cx="357.7" cy="582.6" r="1.6" fill="#baa6b6"/><circle cx="339.1" cy="586.4" r="1.5" fill="#baa6b6"/><circle cx="326.3" cy="598.5" r="1.3" fill="#baa6b6"/><circle cx="319.0" cy="554.7" r="1.3" fill="#c2a8ac"/><circle cx="344.1" cy="563.9" r="1.6" fill="#baa6b6"/><circle cx="350.8" cy="588.0" r="1.2" fill="#baa6b6"/><circle cx="275.9" cy="589.8" r="1.4" fill="#b2a0b4"/><circle cx="376.7" cy="614.8" r="1.2" fill="#c2a8ac"/><circle cx="276.4" cy="553.8" r="1.2" fill="#baa6b6"/><circle cx="276.5" cy="558.6" r="1.2" fill="#c2a8ac"/><circle cx="289.5" cy="551.6" r="1.2" fill="#baa6b6"/><circle cx="299.5" cy="550.4" r="1.7" fill="#baa6b6"/><circle cx="273.8" cy="593.8" r="1.5" fill="#baa6b6"/><circle cx="342.5" cy="577.6" r="1.5" fill="#b2a0b4"/><circle cx="320.4" cy="599.1" r="1.2" fill="#baa6b6"/><circle cx="337.0" cy="558.5" r="1.7" fill="#c2a8ac"/><circle cx="375.8" cy="608.2" r="1.6" fill="#baa6b6"/><circle cx="339.1" cy="581.5" r="1.4" fill="#c2a8ac"/><circle cx="370.3" cy="596.5" r="1.3" fill="#b2a0b4"/><circle cx="344.8" cy="608.8" r="1.6" fill="#b2a0b4"/><circle cx="332.3" cy="560.6" r="1.7" fill="#c2a8ac"/><circle cx="324.2" cy="567.2" r="1.5" fill="#c2a8ac"/><circle cx="376.6" cy="593.4" r="1.5" fill="#b2a0b4"/><circle cx="378.9" cy="605.3" r="1.6" fill="#baa6b6"/><circle cx="293.0" cy="548.9" r="1.4" fill="#b2a0b4"/><circle cx="286.4" cy="559.2" r="1.3" fill="#b2a0b4"/><circle cx="303.9" cy="605.5" r="1.7" fill="#baa6b6"/><circle cx="330.2" cy="583.4" r="1.5" fill="#b2a0b4"/><circle cx="313.7" cy="589.0" r="1.4" fill="#c2a8ac"/><circle cx="300.6" cy="590.7" r="1.5" fill="#c2a8ac"/><circle cx="334.3" cy="573.4" r="1.5" fill="#baa6b6"/><circle cx="354.4" cy="568.2" r="1.4" fill="#b2a0b4"/><circle cx="371.9" cy="615.3" r="1.6" fill="#baa6b6"/><circle cx="326.0" cy="559.5" r="1.3" fill="#b2a0b4"/><circle cx="290.1" cy="611.6" r="1.2" fill="#b2a0b4"/><circle cx="370.4" cy="561.2" r="1.7" fill="#b2a0b4"/><circle cx="313.1" cy="588.5" r="1.7" fill="#baa6b6"/><circle cx="331.6" cy="552.0" r="1.3" fill="#b2a0b4"/><circle cx="328.3" cy="585.4" r="1.5" fill="#c2a8ac"/><circle cx="359.4" cy="595.8" r="1.7" fill="#baa6b6"/><circle cx="373.8" cy="595.0" r="1.7" fill="#baa6b6"/><circle cx="342.7" cy="587.9" r="1.3" fill="#baa6b6"/><circle cx="296.6" cy="565.2" r="1.3" fill="#c2a8ac"/><circle cx="328.9" cy="616.4" r="1.7" fill="#b2a0b4"/><circle cx="383.8" cy="543.1" r="1.2" fill="#b2a0b4"/><circle cx="313.2" cy="574.1" r="1.7" fill="#c2a8ac"/></g>
</g>
<g clip-path="url(#c10)">
<rect x="42.3" y="630.6" width="111.5" height="81.8" fill="#f0e6da"/>
<rect x="42.3" y="630.6" width="111.5" height="81.8" filter="url(#fd)" opacity="0.2"/>
<rect x="42.3" y="630.6" width="111.5" height="81.8" filter="url(#fl)" opacity="0.35"/>
<polygon points="42.3,658.1 46.3,657.3 50.3,656.5 54.3,655.7 58.3,654.9 62.3,654.1 66.3,653.3 70.3,652.5 74.3,651.7 78.3,650.9 82.3,650.1 86.3,649.3 90.3,648.5 94.3,647.5 98.3,646.3 102.3,645.1 106.3,643.9 110.3,642.7 114.3,641.5 118.3,640.3 122.3,639.1 126.3,637.9 130.3,636.7 134.3,635.5 138.3,634.3 142.3,633.1 146.3,631.9 150.3,630.7 154.3,629.5 154.3,646.5 150.3,647.7 146.3,648.9 142.3,650.1 138.3,651.3 134.3,652.5 130.3,653.7 126.3,654.9 122.3,656.1 118.3,657.3 114.3,658.5 110.3,659.7 106.3,660.9 102.3,662.1 98.3,663.3 94.3,664.5 90.3,665.5 86.3,666.3 82.3,667.1 78.3,667.9 74.3,668.7 70.3,669.5 66.3,670.3 62.3,671.1 58.3,671.9 54.3,672.7 50.3,673.5 46.3,674.3 42.3,675.1" fill="#e2dee8" opacity="0.6"/>
<g opacity="0.6" filter="url(#fb)"><circle cx="139.8" cy="646.6" r="0.7" fill="#8a86b2"/><circle cx="98.7" cy="652.9" r="0.8" fill="#9490b8"/><circle cx="78.2" cy="654.4" r="0.8" fill="#9490b8"/><circle cx="137.3" cy="636.3" r="0.9" fill="#aeaaca"/><circle cx="64.2" cy="655.9" r="0.6" fill="#a29ec4"/><circle cx="140.1" cy="641.1" r="0.8" fill="#8a86b2"/><circle cx="98.5" cy="653.0" r="0.6" fill="#8a86b2"/><circle cx="86.0" cy="661.2" r="0.6" fill="#aeaaca"/><circle cx="77.3" cy="657.7" r="0.8" fill="#9490b8"/><circle cx="58.5" cy="669.2" r="0.7" fill="#9490b8"/><circle cx="88.6" cy="659.3" r="0.9" fill="#8a86b2"/><circle cx="136.5" cy="635.3" r="0.8" fill="#9490b8"/><circle cx="130.8" cy="645.8" r="0.7" fill="#9490b8"/><circle cx="65.2" cy="666.4" r="0.9" fill="#9490b8"/><circle cx="130.1" cy="646.7" r="0.8" fill="#a29ec4"/><circle cx="133.3" cy="649.9" r="0.9" fill="#aeaaca"/><circle cx="126.0" cy="652.6" r="0.9" fill="#aeaaca"/><circle cx="85.5" cy="655.4" r="0.9" fill="#a29ec4"/><circle cx="125.3" cy="644.3" r="0.8" fill="#a29ec4"/><circle cx="85.3" cy="654.7" r="0.8" fill="#8a86b2"/><circle cx="88.6" cy="657.9" r="0.6" fill="#8a86b2"/><circle cx="137.0" cy="636.8" r="0.6" fill="#a29ec4"/><circle cx="130.4" cy="646.4" r="0.7" fill="#9490b8"/><circle cx="80.2" cy="651.8" r="0.8" fill="#aeaaca"/><circle cx="134.7" cy="641.9" r="0.8" fill="#9490b8"/><circle cx="139.2" cy="648.6" r="0.9" fill="#9490b8"/><circle cx="147.7" cy="647.1" r="0.7" fill="#8a86b2"/><circle cx="95.9" cy="648.4" r="0.9" fill="#aeaaca"/><circle cx="101.9" cy="657.5" r="0.9" fill="#8a86b2"/><circle cx="60.7" cy="664.2" r="0.8" fill="#aeaaca"/><circle cx="69.0" cy="655.1" r="0.8" fill="#8a86b2"/><circle cx="102.0" cy="655.5" r="0.9" fill="#8a86b2"/><circle cx="145.3" cy="646.4" r="0.9" fill="#8a86b2"/><circle cx="67.8" cy="664.1" r="0.7" fill="#aeaaca"/><circle cx="141.7" cy="639.1" r="0.7" fill="#a29ec4"/><circle cx="143.4" cy="641.7" r="0.8" fill="#9490b8"/><circle cx="101.8" cy="648.4" r="0.9" fill="#8a86b2"/><circle cx="119.3" cy="650.1" r="0.7" fill="#a29ec4"/><circle cx="131.0" cy="643.8" r="0.8" fill="#9490b8"/><circle cx="102.4" cy="647.4" r="0.8" fill="#aeaaca"/><circle cx="73.5" cy="662.5" r="0.7" fill="#9490b8"/><circle cx="44.8" cy="665.6" r="0.9" fill="#9490b8"/><circle cx="62.3" cy="669.7" r="0.8" fill="#8a86b2"/><circle cx="151.0" cy="643.0" r="0.8" fill="#a29ec4"/><circle cx="56.1" cy="661.3" r="0.8" fill="#aeaaca"/><circle cx="103.8" cy="648.6" r="0.7" fill="#8a86b2"/><circle cx="66.3" cy="660.8" r="0.8" fill="#8a86b2"/><circle cx="44.1" cy="670.9" r="0.9" fill="#aeaaca"/><circle cx="89.7" cy="662.4" r="0.7" fill="#aeaaca"/><circle cx="115.3" cy="656.2" r="0.7" fill="#9490b8"/><circle cx="131.2" cy="644.6" r="0.9" fill="#9490b8"/><circle cx="130.2" cy="639.3" r="0.7" fill="#9490b8"/><circle cx="84.8" cy="654.8" r="0.9" fill="#8a86b2"/><circle cx="78.9" cy="652.0" r="0.8" fill="#aeaaca"/><circle cx="123.0" cy="641.9" r="0.9" fill="#8a86b2"/><circle cx="85.6" cy="652.4" r="0.8" fill="#aeaaca"/><circle cx="147.6" cy="638.7" r="0.6" fill="#9490b8"/><circle cx="137.2" cy="643.3" r="0.9" fill="#9490b8"/><circle cx="49.7" cy="667.6" r="0.9" fill="#aeaaca"/><circle cx="136.4" cy="646.0" r="0.9" fill="#aeaaca"/><circle cx="68.3" cy="665.7" r="0.9" fill="#aeaaca"/><circle cx="69.1" cy="661.7" r="0.9" fill="#9490b8"/><circle cx="151.9" cy="632.5" r="0.9" fill="#8a86b2"/><circle cx="119.3" cy="648.7" r="0.7" fill="#a29ec4"/><circle cx="48.4" cy="661.2" r="0.9" fill="#8a86b2"/><circle cx="146.5" cy="642.4" r="0.9" fill="#9490b8"/><circle cx="125.5" cy="647.1" r="0.7" fill="#8a86b2"/><circle cx="89.4" cy="657.5" r="0.9" fill="#8a86b2"/><circle cx="68.2" cy="657.5" r="0.7" fill="#8a86b2"/><circle cx="102.1" cy="650.1" r="0.9" fill="#a29ec4"/><circle cx="100.9" cy="655.3" r="0.7" fill="#8a86b2"/><circle cx="113.1" cy="652.7" r="0.6" fill="#9490b8"/><circle cx="91.7" cy="661.6" r="0.8" fill="#8a86b2"/><circle cx="91.6" cy="652.7" r="0.6" fill="#aeaaca"/><circle cx="140.8" cy="639.2" r="0.6" fill="#8a86b2"/><circle cx="102.6" cy="648.2" r="0.9" fill="#a29ec4"/><circle cx="102.7" cy="654.8" r="0.9" fill="#aeaaca"/><circle cx="122.1" cy="644.5" r="0.9" fill="#aeaaca"/><circle cx="106.7" cy="659.4" r="0.8" fill="#8a86b2"/><circle cx="152.5" cy="642.4" r="0.7" fill="#8a86b2"/><circle cx="153.8" cy="640.7" r="0.6" fill="#aeaaca"/><circle cx="134.8" cy="639.8" r="0.7" fill="#9490b8"/><circle cx="141.1" cy="640.2" r="0.9" fill="#a29ec4"/><circle cx="106.5" cy="650.5" r="0.7" fill="#aeaaca"/><circle cx="103.2" cy="658.5" r="0.9" fill="#a29ec4"/><circle cx="123.3" cy="645.3" r="0.9" fill="#8a86b2"/><circle cx="52.7" cy="671.2" r="0.7" fill="#8a86b2"/><circle cx="113.3" cy="657.9" r="0.8" fill="#8a86b2"/><circle cx="126.1" cy="638.4" r="0.8" fill="#a29ec4"/><circle cx="59.5" cy="670.9" r="0.8" fill="#aeaaca"/><circle cx="135.4" cy="648.2" r="0.8" fill="#aeaaca"/><circle cx="138.5" cy="640.3" r="0.8" fill="#aeaaca"/><circle cx="145.0" cy="648.3" r="0.9" fill="#aeaaca"/><circle cx="46.3" cy="663.7" r="0.7" fill="#a29ec4"/><circle cx="149.3" cy="637.5" r="0.9" fill="#a29ec4"/><circle cx="120.8" cy="650.5" r="0.7" fill="#aeaaca"/><circle cx="70.7" cy="655.2" r="0.9" fill="#9490b8"/><circle cx="114.4" cy="657.2" r="0.7" fill="#9490b8"/><circle cx="76.7" cy="654.6" r="0.9" fill="#9490b8"/><circle cx="132.7" cy="644.6" r="0.8" fill="#a29ec4"/><circle cx="99.7" cy="661.6" r="0.9" fill="#aeaaca"/><circle cx="138.3" cy="639.1" r="0.7" fill="#9490b8"/><circle cx="129.7" cy="644.7" r="0.9" fill="#8a86b2"/><circle cx="140.9" cy="634.6" r="0.7" fill="#aeaaca"/><circle cx="97.0" cy="654.0" r="0.7" fill="#a29ec4"/><circle cx="103.9" cy="658.7" r="0.7" fill="#aeaaca"/><circle cx="109.0" cy="653.0" r="0.7" fill="#8a86b2"/><circle cx="128.1" cy="640.1" r="0.7" fill="#aeaaca"/><circle cx="83.4" cy="658.0" r="0.9" fill="#aeaaca"/><circle cx="45.8" cy="669.3" r="0.9" fill="#8a86b2"/><circle cx="127.1" cy="648.1" r="0.7" fill="#8a86b2"/><circle cx="113.0" cy="645.5" r="0.9" fill="#9490b8"/><circle cx="73.4" cy="666.6" r="0.9" fill="#8a86b2"/><circle cx="106.1" cy="651.2" r="0.9" fill="#9490b8"/><circle cx="90.4" cy="665.0" r="0.9" fill="#aeaaca"/><circle cx="62.8" cy="670.0" r="0.7" fill="#aeaaca"/><circle cx="147.3" cy="648.5" r="0.9" fill="#8a86b2"/><circle cx="57.5" cy="657.2" r="0.9" fill="#9490b8"/><circle cx="88.6" cy="649.1" r="0.8" fill="#aeaaca"/><circle cx="46.6" cy="668.1" r="0.9" fill="#a29ec4"/><circle cx="138.4" cy="634.5" r="0.6" fill="#aeaaca"/><circle cx="76.7" cy="651.5" r="0.8" fill="#aeaaca"/><circle cx="131.5" cy="650.8" r="0.7" fill="#9490b8"/><circle cx="44.9" cy="662.6" r="0.7" fill="#aeaaca"/><circle cx="77.0" cy="655.0" r="0.8" fill="#a29ec4"/><circle cx="136.2" cy="636.5" r="0.9" fill="#a29ec4"/><circle cx="98.3" cy="658.9" r="0.8" fill="#aeaaca"/><circle cx="137.3" cy="650.6" r="0.9" fill="#9490b8"/><circle cx="70.9" cy="667.3" r="0.9" fill="#a29ec4"/><circle cx="87.5" cy="659.6" r="0.9" fill="#aeaaca"/><circle cx="80.3" cy="652.0" r="0.6" fill="#8a86b2"/><circle cx="138.4" cy="642.4" r="0.8" fill="#aeaaca"/><circle cx="121.1" cy="655.6" r="0.6" fill="#9490b8"/><circle cx="132.6" cy="637.6" r="0.8" fill="#a29ec4"/><circle cx="116.3" cy="657.6" r="0.6" fill="#8a86b2"/><circle cx="63.7" cy="665.0" r="0.7" fill="#aeaaca"/><circle cx="110.4" cy="650.8" r="0.6" fill="#8a86b2"/><circle cx="103.8" cy="657.1" r="0.6" fill="#9490b8"/><circle cx="148.9" cy="637.1" r="0.7" fill="#8a86b2"/><circle cx="133.2" cy="647.1" r="0.8" fill="#a29ec4"/><circle cx="127.7" cy="650.2" r="0.9" fill="#aeaaca"/><circle cx="80.2" cy="660.3" r="0.9" fill="#8a86b2"/><circle cx="148.8" cy="636.9" r="0.9" fill="#aeaaca"/><circle cx="130.8" cy="642.0" r="0.9" fill="#aeaaca"/><circle cx="148.1" cy="633.6" r="0.7" fill="#aeaaca"/><circle cx="145.4" cy="634.0" r="0.7" fill="#a29ec4"/><circle cx="100.5" cy="657.0" r="0.7" fill="#aeaaca"/><circle cx="88.4" cy="651.3" r="0.8" fill="#9490b8"/><circle cx="66.6" cy="659.9" r="0.7" fill="#a29ec4"/><circle cx="50.0" cy="659.2" r="0.7" fill="#aeaaca"/><circle cx="122.0" cy="642.7" r="0.9" fill="#8a86b2"/><circle cx="152.7" cy="639.9" r="0.7" fill="#a29ec4"/><circle cx="70.8" cy="654.5" r="0.8" fill="#8a86b2"/><circle cx="86.1" cy="662.9" r="0.8" fill="#8a86b2"/><circle cx="123.3" cy="647.3" r="0.7" fill="#aeaaca"/><circle cx="152.5" cy="640.9" r="0.9" fill="#aeaaca"/><circle cx="116.9" cy="646.2" r="0.7" fill="#9490b8"/><circle cx="122.6" cy="650.3" r="0.9" fill="#aeaaca"/><circle cx="140.2" cy="642.8" r="0.8" fill="#aeaaca"/><circle cx="94.6" cy="656.5" r="0.9" fill="#9490b8"/><circle cx="84.8" cy="660.0" r="0.9" fill="#8a86b2"/><circle cx="106.8" cy="651.9" r="0.8" fill="#8a86b2"/><circle cx="113.5" cy="655.6" r="0.9" fill="#9490b8"/><circle cx="99.0" cy="649.4" r="0.9" fill="#9490b8"/><circle cx="74.2" cy="653.6" r="0.9" fill="#aeaaca"/><circle cx="90.7" cy="651.8" r="0.9" fill="#8a86b2"/><circle cx="109.1" cy="658.0" r="0.8" fill="#aeaaca"/><circle cx="73.8" cy="657.4" r="0.8" fill="#8a86b2"/><circle cx="51.8" cy="670.4" r="0.9" fill="#8a86b2"/><circle cx="146.1" cy="647.7" r="0.7" fill="#aeaaca"/><circle cx="84.3" cy="661.1" r="0.9" fill="#a29ec4"/><circle cx="72.2" cy="658.8" r="0.7" fill="#9490b8"/><circle cx="84.8" cy="651.0" r="0.8" fill="#a29ec4"/><circle cx="141.7" cy="638.0" r="0.6" fill="#a29ec4"/><circle cx="73.8" cy="662.5" r="0.8" fill="#9490b8"/><circle cx="110.9" cy="656.3" r="0.8" fill="#aeaaca"/><circle cx="99.3" cy="662.3" r="0.9" fill="#8a86b2"/><circle cx="91.9" cy="657.3" r="0.7" fill="#8a86b2"/><circle cx="113.3" cy="653.6" r="0.9" fill="#aeaaca"/><circle cx="151.1" cy="636.5" r="0.7" fill="#8a86b2"/><circle cx="50.7" cy="668.3" r="0.8" fill="#a29ec4"/><circle cx="125.7" cy="638.1" r="0.8" fill="#aeaaca"/><circle cx="120.8" cy="650.8" r="0.9" fill="#9490b8"/><circle cx="141.1" cy="639.5" r="0.8" fill="#9490b8"/><circle cx="145.9" cy="643.9" r="0.7" fill="#8a86b2"/><circle cx="110.9" cy="648.8" r="0.7" fill="#a29ec4"/><circle cx="100.4" cy="656.1" r="0.8" fill="#aeaaca"/><circle cx="86.2" cy="658.7" r="0.8" fill="#9490b8"/><circle cx="76.6" cy="653.7" r="0.7" fill="#8a86b2"/><circle cx="98.6" cy="654.4" r="0.9" fill="#9490b8"/><circle cx="141.7" cy="640.8" r="0.9" fill="#a29ec4"/><circle cx="144.7" cy="640.7" r="0.8" fill="#8a86b2"/><circle cx="65.3" cy="665.6" r="0.9" fill="#8a86b2"/><circle cx="46.4" cy="673.4" r="0.8" fill="#a29ec4"/><circle cx="129.2" cy="653.3" r="0.8" fill="#8a86b2"/><circle cx="82.2" cy="661.2" r="0.8" fill="#8a86b2"/><circle cx="43.6" cy="659.2" r="0.7" fill="#aeaaca"/><circle cx="123.1" cy="652.9" r="0.9" fill="#a29ec4"/><circle cx="54.2" cy="665.9" r="0.8" fill="#8a86b2"/><circle cx="63.7" cy="658.0" r="0.8" fill="#8a86b2"/><circle cx="135.8" cy="644.8" r="0.7" fill="#a29ec4"/><circle cx="99.7" cy="657.2" r="0.7" fill="#aeaaca"/><circle cx="111.4" cy="651.4" r="0.9" fill="#9490b8"/><circle cx="72.5" cy="653.9" r="0.7" fill="#a29ec4"/><circle cx="128.7" cy="648.7" r="0.7" fill="#a29ec4"/><circle cx="84.1" cy="659.3" r="0.7" fill="#a29ec4"/><circle cx="137.6" cy="646.8" r="0.6" fill="#a29ec4"/><circle cx="94.2" cy="651.9" r="0.7" fill="#9490b8"/><circle cx="137.9" cy="640.2" r="0.9" fill="#a29ec4"/><circle cx="134.0" cy="651.2" r="0.8" fill="#a29ec4"/><circle cx="55.7" cy="659.1" r="0.7" fill="#a29ec4"/><circle cx="122.8" cy="646.1" r="0.7" fill="#a29ec4"/><circle cx="51.6" cy="669.4" r="0.7" fill="#9490b8"/><circle cx="110.3" cy="659.5" r="0.8" fill="#9490b8"/><circle cx="65.5" cy="658.1" r="0.9" fill="#9490b8"/><circle cx="134.6" cy="641.0" r="0.6" fill="#8a86b2"/><circle cx="118.2" cy="641.0" r="0.7" fill="#aeaaca"/><circle cx="70.0" cy="668.2" r="0.9" fill="#aeaaca"/><circle cx="66.5" cy="666.6" r="0.8" fill="#8a86b2"/><circle cx="152.0" cy="643.0" r="0.9" fill="#a29ec4"/><circle cx="78.8" cy="658.3" r="0.6" fill="#aeaaca"/><circle cx="111.4" cy="656.2" r="0.8" fill="#aeaaca"/><circle cx="80.9" cy="653.2" r="0.9" fill="#8a86b2"/><circle cx="127.1" cy="646.9" r="0.9" fill="#aeaaca"/><circle cx="65.8" cy="658.9" r="0.7" fill="#8a86b2"/><circle cx="45.2" cy="662.1" r="0.8" fill="#9490b8"/><circle cx="150.0" cy="642.1" r="0.9" fill="#a29ec4"/><circle cx="136.9" cy="638.0" r="0.9" fill="#8a86b2"/><circle cx="109.6" cy="654.2" r="0.7" fill="#9490b8"/><circle cx="120.7" cy="640.4" r="0.9" fill="#aeaaca"/><circle cx="98.5" cy="658.1" r="0.7" fill="#8a86b2"/><circle cx="58.1" cy="656.1" r="0.8" fill="#aeaaca"/><circle cx="152.3" cy="635.7" r="0.8" fill="#aeaaca"/><circle cx="80.6" cy="660.1" r="0.6" fill="#aeaaca"/><circle cx="107.9" cy="658.6" r="0.9" fill="#a29ec4"/><circle cx="144.1" cy="635.5" r="0.7" fill="#a29ec4"/><circle cx="90.3" cy="663.2" r="0.6" fill="#9490b8"/><circle cx="110.0" cy="645.1" r="0.7" fill="#aeaaca"/><circle cx="114.0" cy="642.6" r="0.8" fill="#aeaaca"/><circle cx="52.7" cy="665.8" r="0.7" fill="#a29ec4"/><circle cx="151.1" cy="642.0" r="0.6" fill="#a29ec4"/><circle cx="63.9" cy="659.2" r="0.8" fill="#9490b8"/><circle cx="115.3" cy="647.4" r="0.7" fill="#8a86b2"/><circle cx="140.7" cy="649.2" r="0.7" fill="#9490b8"/><circle cx="65.7" cy="653.6" r="0.9" fill="#9490b8"/><circle cx="99.8" cy="659.0" r="0.6" fill="#8a86b2"/><circle cx="82.3" cy="664.8" r="0.8" fill="#8a86b2"/><circle cx="89.8" cy="651.5" r="0.8" fill="#a29ec4"/><circle cx="44.2" cy="663.8" r="0.7" fill="#a29ec4"/><circle cx="120.2" cy="640.1" r="0.8" fill="#a29ec4"/><circle cx="103.9" cy="657.7" r="0.8" fill="#8a86b2"/><circle cx="146.7" cy="639.9" r="0.9" fill="#8a86b2"/><circle cx="136.1" cy="647.2" r="0.9" fill="#9490b8"/><circle cx="48.2" cy="659.7" r="0.7" fill="#8a86b2"/><circle cx="112.8" cy="657.1" r="0.6" fill="#aeaaca"/><circle cx="117.4" cy="656.7" r="0.8" fill="#8a86b2"/><circle cx="121.6" cy="646.6" r="0.7" fill="#8a86b2"/><circle cx="51.4" cy="672.7" r="0.8" fill="#aeaaca"/><circle cx="83.7" cy="662.0" r="0.8" fill="#aeaaca"/><circle cx="121.2" cy="654.5" r="0.8" fill="#a29ec4"/><circle cx="85.4" cy="650.6" r="0.8" fill="#9490b8"/><circle cx="48.4" cy="664.0" r="0.6" fill="#8a86b2"/><circle cx="97.8" cy="647.5" r="0.9" fill="#8a86b2"/><circle cx="56.9" cy="662.0" r="0.7" fill="#8a86b2"/><circle cx="49.3" cy="662.9" r="0.9" fill="#9490b8"/><circle cx="73.2" cy="663.8" r="0.6" fill="#aeaaca"/><circle cx="145.3" cy="633.2" r="0.9" fill="#aeaaca"/><circle cx="122.0" cy="648.5" r="0.9" fill="#a29ec4"/><circle cx="57.3" cy="656.0" r="0.9" fill="#9490b8"/><circle cx="55.3" cy="664.6" r="0.9" fill="#8a86b2"/><circle cx="109.0" cy="649.4" r="0.8" fill="#a29ec4"/><circle cx="59.5" cy="655.6" r="0.8" fill="#8a86b2"/><circle cx="82.5" cy="662.8" r="0.7" fill="#aeaaca"/><circle cx="123.9" cy="640.4" r="0.7" fill="#9490b8"/><circle cx="45.9" cy="660.2" r="0.8" fill="#8a86b2"/><circle cx="49.8" cy="659.9" r="0.9" fill="#8a86b2"/><circle cx="103.6" cy="652.3" r="0.9" fill="#8a86b2"/><circle cx="104.8" cy="646.2" r="0.7" fill="#a29ec4"/><circle cx="120.8" cy="647.2" r="0.9" fill="#aeaaca"/><circle cx="72.5" cy="663.5" r="0.9" fill="#a29ec4"/><circle cx="151.1" cy="639.8" r="0.8" fill="#aeaaca"/><circle cx="99.3" cy="662.8" r="0.9" fill="#9490b8"/><circle cx="64.5" cy="662.7" r="0.8" fill="#8a86b2"/><circle cx="151.9" cy="642.3" r="0.7" fill="#9490b8"/><circle cx="103.3" cy="656.2" r="0.8" fill="#a29ec4"/><circle cx="90.1" cy="655.8" r="0.7" fill="#8a86b2"/><circle cx="103.1" cy="658.9" r="0.9" fill="#a29ec4"/><circle cx="152.4" cy="643.0" r="0.9" fill="#a29ec4"/><circle cx="74.7" cy="653.6" r="0.8" fill="#8a86b2"/><circle cx="89.2" cy="663.0" r="0.9" fill="#aeaaca"/><circle cx="93.0" cy="651.9" r="0.9" fill="#aeaaca"/><circle cx="44.1" cy="667.8" r="0.8" fill="#9490b8"/><circle cx="45.6" cy="667.0" r="0.8" fill="#8a86b2"/><circle cx="142.7" cy="646.3" r="0.6" fill="#a29ec4"/><circle cx="98.4" cy="653.9" r="0.8" fill="#a29ec4"/><circle cx="103.8" cy="645.5" r="0.8" fill="#9490b8"/><circle cx="111.2" cy="652.7" r="0.8" fill="#aeaaca"/><circle cx="127.3" cy="648.0" r="0.9" fill="#9490b8"/><circle cx="73.5" cy="651.9" r="0.8" fill="#8a86b2"/><circle cx="92.0" cy="651.4" r="0.9" fill="#a29ec4"/></g>
<g opacity="0.75" filter="url(#fb)"><ellipse cx="93.4" cy="654.0" rx="1.7" ry="0.8" fill="#a09ac8" transform="rotate(165 93.4 654.0)"/><ellipse cx="49.2" cy="666.5" rx="0.9" ry="0.5" fill="#8e8ac0" transform="rotate(162 49.2 666.5)"/><ellipse cx="109.3" cy="649.9" rx="1.0" ry="0.7" fill="#a09ac8" transform="rotate(163 109.3 649.9)"/><ellipse cx="59.0" cy="646.5" rx="1.0" ry="0.7" fill="#a09ac8" transform="rotate(142 59.0 646.5)"/><ellipse cx="130.2" cy="634.1" rx="0.9" ry="0.4" fill="#a09ac8" transform="rotate(125 130.2 634.1)"/><ellipse cx="133.8" cy="651.8" rx="1.4" ry="0.6" fill="#8e8ac0" transform="rotate(150 133.8 651.8)"/><ellipse cx="152.6" cy="640.3" rx="0.5" ry="0.5" fill="#8e8ac0" transform="rotate(72 152.6 640.3)"/><ellipse cx="113.8" cy="686.9" rx="0.9" ry="0.6" fill="#8e8ac0" transform="rotate(84 113.8 686.9)"/><ellipse cx="123.6" cy="638.5" rx="1.1" ry="0.6" fill="#8e8ac0" transform="rotate(104 123.6 638.5)"/><ellipse cx="104.2" cy="648.5" rx="1.3" ry="0.8" fill="#a09ac8" transform="rotate(83 104.2 648.5)"/><ellipse cx="146.0" cy="703.6" rx="1.4" ry="0.6" fill="#8e8ac0" transform="rotate(132 146.0 703.6)"/><ellipse cx="84.7" cy="656.5" rx="0.9" ry="0.8" fill="#a09ac8" transform="rotate(160 84.7 656.5)"/><ellipse cx="75.8" cy="690.0" rx="0.7" ry="0.5" fill="#a09ac8" transform="rotate(77 75.8 690.0)"/><ellipse cx="121.9" cy="662.1" rx="1.2" ry="0.6" fill="#a09ac8" transform="rotate(66 121.9 662.1)"/><ellipse cx="121.0" cy="692.7" rx="1.3" ry="0.5" fill="#a09ac8" transform="rotate(101 121.0 692.7)"/><ellipse cx="66.1" cy="702.6" rx="1.3" ry="0.5" fill="#8e8ac0" transform="rotate(135 66.1 702.6)"/><ellipse cx="47.9" cy="676.0" rx="1.1" ry="0.7" fill="#8e8ac0" transform="rotate(153 47.9 676.0)"/><ellipse cx="125.8" cy="685.4" rx="1.1" ry="0.6" fill="#a09ac8" transform="rotate(93 125.8 685.4)"/><ellipse cx="133.7" cy="660.6" rx="1.1" ry="0.7" fill="#a09ac8" transform="rotate(87 133.7 660.6)"/><ellipse cx="44.2" cy="701.5" rx="1.2" ry="0.6" fill="#a09ac8" transform="rotate(154 44.2 701.5)"/><ellipse cx="93.7" cy="644.8" rx="0.7" ry="0.4" fill="#a09ac8" transform="rotate(69 93.7 644.8)"/><ellipse cx="73.6" cy="705.3" rx="1.7" ry="0.8" fill="#8e8ac0" transform="rotate(155 73.6 705.3)"/><ellipse cx="139.8" cy="666.4" rx="1.0" ry="0.6" fill="#8e8ac0" transform="rotate(36 139.8 666.4)"/><ellipse cx="130.6" cy="703.2" rx="1.1" ry="0.7" fill="#a09ac8" transform="rotate(175 130.6 703.2)"/><ellipse cx="113.3" cy="678.9" rx="1.0" ry="0.4" fill="#8e8ac0" transform="rotate(89 113.3 678.9)"/><ellipse cx="62.3" cy="665.3" rx="0.7" ry="0.5" fill="#a09ac8" transform="rotate(110 62.3 665.3)"/><ellipse cx="125.3" cy="641.8" rx="0.9" ry="0.4" fill="#8e8ac0" transform="rotate(153 125.3 641.8)"/><ellipse cx="91.1" cy="700.8" rx="0.8" ry="0.4" fill="#8e8ac0" transform="rotate(114 91.1 700.8)"/><ellipse cx="85.4" cy="686.9" rx="1.5" ry="0.8" fill="#8e8ac0" transform="rotate(145 85.4 686.9)"/><ellipse cx="77.7" cy="672.7" rx="1.0" ry="0.6" fill="#a09ac8" transform="rotate(58 77.7 672.7)"/><ellipse cx="115.6" cy="694.3" rx="1.4" ry="0.5" fill="#8e8ac0" transform="rotate(36 115.6 694.3)"/><ellipse cx="69.5" cy="670.5" rx="0.7" ry="0.7" fill="#8e8ac0" transform="rotate(157 69.5 670.5)"/><ellipse cx="62.0" cy="668.4" rx="1.4" ry="0.7" fill="#a09ac8" transform="rotate(163 62.0 668.4)"/><ellipse cx="59.3" cy="688.8" rx="1.1" ry="0.7" fill="#8e8ac0" transform="rotate(139 59.3 688.8)"/><ellipse cx="151.4" cy="695.6" rx="1.4" ry="0.5" fill="#8e8ac0" transform="rotate(55 151.4 695.6)"/><ellipse cx="100.1" cy="631.9" rx="1.0" ry="0.6" fill="#8e8ac0" transform="rotate(23 100.1 631.9)"/><ellipse cx="44.9" cy="649.7" rx="0.9" ry="0.5" fill="#8e8ac0" transform="rotate(54 44.9 649.7)"/><ellipse cx="117.6" cy="661.3" rx="1.3" ry="0.5" fill="#8e8ac0" transform="rotate(123 117.6 661.3)"/><ellipse cx="138.7" cy="672.2" rx="1.2" ry="0.7" fill="#8e8ac0" transform="rotate(31 138.7 672.2)"/><ellipse cx="76.0" cy="690.5" rx="1.0" ry="0.5" fill="#8e8ac0" transform="rotate(179 76.0 690.5)"/><ellipse cx="71.4" cy="656.8" rx="0.8" ry="0.5" fill="#8e8ac0" transform="rotate(16 71.4 656.8)"/><ellipse cx="145.2" cy="637.6" rx="1.0" ry="0.7" fill="#a09ac8" transform="rotate(5 145.2 637.6)"/><ellipse cx="74.4" cy="678.4" rx="1.6" ry="0.8" fill="#8e8ac0" transform="rotate(43 74.4 678.4)"/><ellipse cx="86.8" cy="647.1" rx="1.3" ry="0.6" fill="#a09ac8" transform="rotate(94 86.8 647.1)"/><ellipse cx="97.7" cy="691.2" rx="0.8" ry="0.4" fill="#a09ac8" transform="rotate(33 97.7 691.2)"/></g>
</g>
<g clip-path="url(#c11)">
<rect x="158.0" y="630.6" width="111.8" height="81.8" fill="#efe3d5"/>
<rect x="158.0" y="630.6" width="111.8" height="81.8" filter="url(#fd)" opacity="0.2"/>
<rect x="158.0" y="630.6" width="111.8" height="81.8" filter="url(#fl)" opacity="0.35"/>
<path d="M158.0 668.6 C188.0 660.6 238.0 660.6 269.0 668.6 L269.0 688.6 C238.0 685.6 188.0 683.6 158.0 686.6 Z" fill="#f0ecf2"/>
<g opacity="0.7" filter="url(#fb)"><circle cx="213.1" cy="681.6" r="0.9" fill="#8a86b2"/><circle cx="246.7" cy="684.1" r="0.9" fill="#9490b8"/><circle cx="187.9" cy="668.7" r="0.7" fill="#aeaaca"/><circle cx="159.7" cy="685.7" r="0.7" fill="#9490b8"/><circle cx="198.5" cy="682.8" r="0.7" fill="#aeaaca"/><circle cx="254.4" cy="667.1" r="0.8" fill="#a29ec4"/><circle cx="210.7" cy="672.6" r="0.6" fill="#9490b8"/><circle cx="185.7" cy="665.3" r="0.9" fill="#a29ec4"/><circle cx="248.6" cy="671.1" r="0.9" fill="#a29ec4"/><circle cx="163.8" cy="682.3" r="0.6" fill="#a29ec4"/><circle cx="173.9" cy="667.9" r="0.7" fill="#8a86b2"/><circle cx="247.7" cy="676.2" r="0.7" fill="#9490b8"/><circle cx="160.8" cy="677.8" r="0.8" fill="#a29ec4"/><circle cx="161.9" cy="669.1" r="0.8" fill="#8a86b2"/><circle cx="178.1" cy="685.0" r="0.9" fill="#8a86b2"/><circle cx="179.7" cy="682.5" r="0.9" fill="#aeaaca"/><circle cx="184.5" cy="674.7" r="0.8" fill="#9490b8"/><circle cx="194.8" cy="676.1" r="0.8" fill="#9490b8"/><circle cx="224.8" cy="684.7" r="0.9" fill="#9490b8"/><circle cx="227.9" cy="677.0" r="0.8" fill="#a29ec4"/><circle cx="208.1" cy="672.8" r="0.9" fill="#9490b8"/><circle cx="217.3" cy="669.3" r="0.9" fill="#a29ec4"/><circle cx="257.9" cy="667.7" r="0.6" fill="#a29ec4"/><circle cx="231.9" cy="684.1" r="0.8" fill="#8a86b2"/><circle cx="172.9" cy="671.3" r="0.8" fill="#a29ec4"/><circle cx="195.7" cy="680.4" r="0.8" fill="#8a86b2"/><circle cx="183.5" cy="678.9" r="0.7" fill="#a29ec4"/><circle cx="244.5" cy="667.4" r="0.8" fill="#8a86b2"/><circle cx="160.2" cy="669.4" r="0.9" fill="#a29ec4"/><circle cx="243.9" cy="671.5" r="0.7" fill="#a29ec4"/><circle cx="212.8" cy="665.0" r="0.8" fill="#aeaaca"/><circle cx="252.4" cy="678.4" r="0.9" fill="#a29ec4"/><circle cx="216.7" cy="673.2" r="0.7" fill="#aeaaca"/><circle cx="251.9" cy="680.6" r="0.7" fill="#a29ec4"/><circle cx="207.1" cy="662.5" r="0.6" fill="#9490b8"/><circle cx="169.3" cy="686.6" r="0.7" fill="#a29ec4"/><circle cx="199.6" cy="671.9" r="0.7" fill="#9490b8"/><circle cx="165.3" cy="667.7" r="0.8" fill="#9490b8"/><circle cx="179.3" cy="668.5" r="0.7" fill="#a29ec4"/><circle cx="176.0" cy="684.4" r="0.9" fill="#8a86b2"/><circle cx="229.9" cy="684.0" r="0.7" fill="#a29ec4"/><circle cx="251.4" cy="673.6" r="0.9" fill="#a29ec4"/><circle cx="183.0" cy="665.2" r="0.9" fill="#9490b8"/><circle cx="236.1" cy="671.1" r="0.8" fill="#8a86b2"/><circle cx="195.6" cy="684.9" r="0.9" fill="#9490b8"/><circle cx="204.1" cy="677.0" r="0.8" fill="#aeaaca"/><circle cx="209.6" cy="678.4" r="0.9" fill="#a29ec4"/><circle cx="261.8" cy="674.4" r="0.7" fill="#9490b8"/><circle cx="239.3" cy="678.0" r="0.6" fill="#9490b8"/><circle cx="257.3" cy="668.3" r="0.7" fill="#a29ec4"/><circle cx="261.5" cy="685.8" r="0.7" fill="#aeaaca"/><circle cx="227.2" cy="684.7" r="0.9" fill="#a29ec4"/><circle cx="190.9" cy="684.2" r="0.7" fill="#aeaaca"/><circle cx="207.7" cy="676.6" r="0.8" fill="#aeaaca"/><circle cx="235.9" cy="681.5" r="0.9" fill="#aeaaca"/><circle cx="257.2" cy="670.2" r="0.6" fill="#8a86b2"/><circle cx="200.9" cy="663.5" r="0.7" fill="#aeaaca"/><circle cx="185.5" cy="674.7" r="0.6" fill="#aeaaca"/><circle cx="211.3" cy="668.0" r="0.7" fill="#9490b8"/><circle cx="261.6" cy="673.5" r="0.6" fill="#aeaaca"/><circle cx="162.8" cy="668.7" r="0.7" fill="#a29ec4"/><circle cx="201.7" cy="671.8" r="0.7" fill="#8a86b2"/><circle cx="198.1" cy="668.1" r="0.6" fill="#8a86b2"/><circle cx="251.6" cy="676.6" r="0.7" fill="#8a86b2"/><circle cx="202.8" cy="668.3" r="0.9" fill="#a29ec4"/><circle cx="190.7" cy="666.9" r="0.9" fill="#8a86b2"/><circle cx="200.8" cy="663.5" r="0.6" fill="#a29ec4"/><circle cx="259.7" cy="676.8" r="0.8" fill="#8a86b2"/><circle cx="204.2" cy="678.4" r="0.8" fill="#aeaaca"/><circle cx="227.7" cy="679.4" r="0.7" fill="#8a86b2"/><circle cx="204.4" cy="670.4" r="0.6" fill="#a29ec4"/><circle cx="164.9" cy="677.5" r="0.7" fill="#aeaaca"/><circle cx="182.5" cy="685.3" r="0.7" fill="#9490b8"/><circle cx="231.0" cy="679.6" r="0.9" fill="#a29ec4"/><circle cx="213.8" cy="683.4" r="0.9" fill="#aeaaca"/><circle cx="257.0" cy="681.1" r="0.7" fill="#a29ec4"/><circle cx="169.8" cy="678.1" r="0.8" fill="#aeaaca"/><circle cx="181.6" cy="678.3" r="0.9" fill="#a29ec4"/><circle cx="214.5" cy="679.0" r="0.6" fill="#8a86b2"/><circle cx="181.9" cy="679.0" r="0.9" fill="#9490b8"/><circle cx="198.2" cy="662.6" r="0.7" fill="#aeaaca"/><circle cx="235.9" cy="679.6" r="0.6" fill="#9490b8"/><circle cx="239.0" cy="663.4" r="0.7" fill="#a29ec4"/><circle cx="268.2" cy="669.0" r="0.6" fill="#aeaaca"/><circle cx="268.5" cy="685.2" r="0.7" fill="#9490b8"/><circle cx="201.7" cy="672.8" r="0.6" fill="#a29ec4"/><circle cx="160.2" cy="682.2" r="0.9" fill="#a29ec4"/><circle cx="261.8" cy="686.3" r="0.9" fill="#9490b8"/><circle cx="178.1" cy="682.9" r="0.9" fill="#9490b8"/><circle cx="226.4" cy="683.4" r="0.7" fill="#aeaaca"/><circle cx="197.2" cy="676.3" r="0.9" fill="#9490b8"/><circle cx="198.3" cy="679.6" r="0.7" fill="#aeaaca"/><circle cx="165.1" cy="667.4" r="0.8" fill="#aeaaca"/><circle cx="163.9" cy="681.0" r="0.9" fill="#9490b8"/><circle cx="171.3" cy="667.1" r="0.6" fill="#a29ec4"/><circle cx="255.1" cy="667.9" r="0.7" fill="#8a86b2"/><circle cx="207.2" cy="684.4" r="0.8" fill="#9490b8"/><circle cx="188.3" cy="666.3" r="0.9" fill="#9490b8"/><circle cx="187.7" cy="671.7" r="0.9" fill="#aeaaca"/><circle cx="204.8" cy="667.2" r="0.7" fill="#8a86b2"/><circle cx="176.0" cy="671.9" r="0.7" fill="#8a86b2"/><circle cx="199.3" cy="670.0" r="0.9" fill="#8a86b2"/><circle cx="196.9" cy="682.5" r="0.9" fill="#a29ec4"/><circle cx="195.0" cy="662.6" r="0.9" fill="#aeaaca"/><circle cx="209.1" cy="671.2" r="0.7" fill="#a29ec4"/><circle cx="211.1" cy="662.9" r="0.9" fill="#aeaaca"/><circle cx="173.5" cy="677.8" r="0.7" fill="#a29ec4"/><circle cx="167.2" cy="671.9" r="0.9" fill="#8a86b2"/><circle cx="187.1" cy="675.7" r="0.9" fill="#aeaaca"/><circle cx="259.9" cy="681.0" r="0.8" fill="#aeaaca"/><circle cx="158.1" cy="675.7" r="0.9" fill="#a29ec4"/><circle cx="200.1" cy="663.2" r="0.7" fill="#aeaaca"/><circle cx="261.7" cy="667.3" r="0.9" fill="#aeaaca"/><circle cx="224.0" cy="682.2" r="0.6" fill="#8a86b2"/><circle cx="209.8" cy="668.5" r="0.7" fill="#aeaaca"/><circle cx="239.2" cy="672.3" r="0.9" fill="#a29ec4"/><circle cx="265.8" cy="670.0" r="0.8" fill="#aeaaca"/><circle cx="170.8" cy="672.8" r="0.8" fill="#aeaaca"/><circle cx="233.0" cy="669.2" r="0.8" fill="#aeaaca"/><circle cx="218.2" cy="684.1" r="0.7" fill="#9490b8"/><circle cx="205.5" cy="664.6" r="0.9" fill="#8a86b2"/><circle cx="199.0" cy="670.8" r="0.9" fill="#8a86b2"/><circle cx="264.6" cy="670.5" r="0.7" fill="#9490b8"/><circle cx="207.1" cy="662.1" r="0.9" fill="#aeaaca"/><circle cx="222.1" cy="684.2" r="0.8" fill="#a29ec4"/><circle cx="213.6" cy="677.6" r="0.6" fill="#9490b8"/><circle cx="231.4" cy="679.7" r="0.8" fill="#aeaaca"/><circle cx="163.6" cy="668.7" r="0.9" fill="#aeaaca"/><circle cx="228.4" cy="668.1" r="0.6" fill="#a29ec4"/><circle cx="220.6" cy="663.9" r="0.6" fill="#aeaaca"/><circle cx="232.1" cy="678.9" r="0.7" fill="#8a86b2"/><circle cx="185.8" cy="664.4" r="0.9" fill="#8a86b2"/><circle cx="170.7" cy="672.0" r="0.6" fill="#9490b8"/><circle cx="262.0" cy="684.1" r="0.8" fill="#9490b8"/><circle cx="246.9" cy="675.0" r="0.7" fill="#9490b8"/><circle cx="203.9" cy="682.4" r="0.7" fill="#8a86b2"/><circle cx="168.7" cy="674.6" r="0.6" fill="#a29ec4"/><circle cx="265.2" cy="671.6" r="0.6" fill="#8a86b2"/><circle cx="211.7" cy="669.7" r="0.7" fill="#a29ec4"/><circle cx="269.4" cy="680.2" r="0.6" fill="#a29ec4"/><circle cx="219.5" cy="662.4" r="0.7" fill="#9490b8"/><circle cx="261.8" cy="680.8" r="0.9" fill="#9490b8"/><circle cx="171.4" cy="673.4" r="0.7" fill="#aeaaca"/><circle cx="165.4" cy="669.8" r="0.8" fill="#aeaaca"/><circle cx="160.6" cy="672.5" r="0.9" fill="#aeaaca"/><circle cx="211.8" cy="671.1" r="0.7" fill="#a29ec4"/><circle cx="186.2" cy="670.7" r="0.8" fill="#aeaaca"/><circle cx="223.5" cy="662.7" r="0.7" fill="#aeaaca"/><circle cx="216.0" cy="676.7" r="0.8" fill="#9490b8"/><circle cx="258.4" cy="674.3" r="0.6" fill="#9490b8"/><circle cx="207.3" cy="668.5" r="0.6" fill="#8a86b2"/><circle cx="262.1" cy="686.2" r="0.9" fill="#a29ec4"/><circle cx="180.5" cy="676.3" r="0.9" fill="#9490b8"/><circle cx="172.9" cy="676.7" r="0.9" fill="#8a86b2"/><circle cx="211.9" cy="665.1" r="0.7" fill="#8a86b2"/><circle cx="229.3" cy="669.8" r="0.9" fill="#8a86b2"/><circle cx="210.3" cy="682.8" r="0.9" fill="#8a86b2"/><circle cx="159.1" cy="683.5" r="0.9" fill="#aeaaca"/><circle cx="252.0" cy="679.4" r="0.8" fill="#9490b8"/><circle cx="174.0" cy="672.0" r="0.8" fill="#aeaaca"/><circle cx="189.1" cy="684.3" r="0.6" fill="#8a86b2"/><circle cx="204.2" cy="670.2" r="0.9" fill="#8a86b2"/><circle cx="228.7" cy="663.9" r="0.9" fill="#9490b8"/><circle cx="174.6" cy="671.3" r="0.6" fill="#9490b8"/><circle cx="266.0" cy="680.7" r="0.9" fill="#a29ec4"/><circle cx="257.5" cy="673.8" r="0.9" fill="#8a86b2"/><circle cx="177.6" cy="684.6" r="0.6" fill="#8a86b2"/><circle cx="267.3" cy="686.3" r="0.6" fill="#a29ec4"/><circle cx="186.6" cy="683.2" r="0.7" fill="#aeaaca"/><circle cx="259.4" cy="683.2" r="0.7" fill="#8a86b2"/><circle cx="215.1" cy="669.8" r="0.7" fill="#8a86b2"/><circle cx="248.1" cy="671.5" r="0.6" fill="#a29ec4"/><circle cx="247.0" cy="681.0" r="0.7" fill="#8a86b2"/><circle cx="192.9" cy="672.0" r="0.7" fill="#8a86b2"/><circle cx="248.5" cy="683.0" r="0.8" fill="#8a86b2"/><circle cx="209.6" cy="675.3" r="0.8" fill="#8a86b2"/><circle cx="176.5" cy="669.0" r="0.9" fill="#8a86b2"/><circle cx="179.8" cy="669.2" r="0.7" fill="#aeaaca"/><circle cx="239.0" cy="667.1" r="0.9" fill="#a29ec4"/><circle cx="246.1" cy="671.6" r="0.8" fill="#aeaaca"/><circle cx="216.3" cy="677.4" r="0.8" fill="#8a86b2"/><circle cx="185.2" cy="682.6" r="0.9" fill="#aeaaca"/><circle cx="160.3" cy="679.9" r="0.9" fill="#aeaaca"/><circle cx="269.1" cy="676.1" r="0.7" fill="#8a86b2"/><circle cx="185.1" cy="681.2" r="0.7" fill="#aeaaca"/><circle cx="253.9" cy="670.5" r="0.7" fill="#8a86b2"/><circle cx="255.6" cy="671.6" r="0.8" fill="#9490b8"/><circle cx="181.9" cy="667.2" r="0.8" fill="#aeaaca"/><circle cx="159.0" cy="677.7" r="0.6" fill="#a29ec4"/><circle cx="245.7" cy="668.3" r="0.8" fill="#8a86b2"/><circle cx="212.5" cy="673.7" r="0.7" fill="#a29ec4"/><circle cx="215.2" cy="667.1" r="0.7" fill="#aeaaca"/><circle cx="247.5" cy="683.6" r="0.9" fill="#a29ec4"/><circle cx="244.2" cy="671.9" r="0.9" fill="#8a86b2"/><circle cx="207.8" cy="665.9" r="0.8" fill="#9490b8"/><circle cx="220.5" cy="665.2" r="0.9" fill="#9490b8"/><circle cx="262.4" cy="668.7" r="0.6" fill="#a29ec4"/><circle cx="253.8" cy="684.0" r="0.8" fill="#8a86b2"/><circle cx="223.9" cy="662.4" r="0.7" fill="#9490b8"/><circle cx="267.2" cy="687.3" r="0.8" fill="#8a86b2"/><circle cx="243.7" cy="680.2" r="0.7" fill="#aeaaca"/><circle cx="223.7" cy="671.4" r="0.6" fill="#9490b8"/><circle cx="214.0" cy="676.0" r="0.9" fill="#9490b8"/><circle cx="185.4" cy="677.1" r="0.9" fill="#9490b8"/><circle cx="174.9" cy="667.0" r="0.9" fill="#9490b8"/><circle cx="259.3" cy="671.6" r="0.9" fill="#aeaaca"/><circle cx="199.4" cy="678.3" r="0.6" fill="#9490b8"/><circle cx="200.8" cy="681.1" r="0.7" fill="#aeaaca"/><circle cx="192.2" cy="674.6" r="0.9" fill="#aeaaca"/><circle cx="253.9" cy="668.1" r="0.7" fill="#aeaaca"/><circle cx="191.4" cy="679.3" r="0.7" fill="#a29ec4"/><circle cx="262.9" cy="669.3" r="0.8" fill="#a29ec4"/><circle cx="182.2" cy="685.6" r="0.7" fill="#9490b8"/><circle cx="201.2" cy="681.1" r="0.7" fill="#9490b8"/><circle cx="174.4" cy="685.7" r="0.7" fill="#a29ec4"/><circle cx="264.2" cy="680.7" r="0.8" fill="#a29ec4"/><circle cx="198.3" cy="664.8" r="0.8" fill="#a29ec4"/><circle cx="226.1" cy="673.0" r="0.9" fill="#9490b8"/><circle cx="201.7" cy="684.6" r="0.6" fill="#aeaaca"/><circle cx="244.5" cy="672.3" r="0.8" fill="#8a86b2"/><circle cx="219.3" cy="675.6" r="0.9" fill="#a29ec4"/><circle cx="263.2" cy="680.5" r="0.9" fill="#9490b8"/><circle cx="189.3" cy="682.1" r="0.9" fill="#8a86b2"/><circle cx="257.9" cy="680.5" r="0.9" fill="#9490b8"/><circle cx="230.4" cy="679.7" r="0.9" fill="#aeaaca"/><circle cx="243.5" cy="677.9" r="0.8" fill="#9490b8"/><circle cx="264.1" cy="670.9" r="0.7" fill="#8a86b2"/><circle cx="232.7" cy="673.7" r="0.9" fill="#a29ec4"/><circle cx="228.2" cy="676.1" r="0.8" fill="#a29ec4"/><circle cx="202.1" cy="670.0" r="0.7" fill="#8a86b2"/><circle cx="266.2" cy="683.0" r="0.9" fill="#aeaaca"/><circle cx="191.7" cy="679.4" r="0.8" fill="#8a86b2"/><circle cx="234.4" cy="682.4" r="0.7" fill="#9490b8"/><circle cx="192.9" cy="665.8" r="0.9" fill="#9490b8"/><circle cx="254.9" cy="667.8" r="0.6" fill="#a29ec4"/><circle cx="170.9" cy="676.7" r="0.7" fill="#9490b8"/><circle cx="259.3" cy="682.8" r="0.9" fill="#8a86b2"/><circle cx="177.7" cy="668.3" r="0.7" fill="#a29ec4"/><circle cx="176.9" cy="686.0" r="0.9" fill="#8a86b2"/><circle cx="244.8" cy="667.9" r="0.8" fill="#9490b8"/><circle cx="222.4" cy="679.3" r="0.7" fill="#aeaaca"/><circle cx="187.3" cy="683.4" r="0.9" fill="#a29ec4"/><circle cx="171.0" cy="679.2" r="0.9" fill="#aeaaca"/><circle cx="216.5" cy="675.0" r="0.7" fill="#a29ec4"/><circle cx="258.3" cy="677.7" r="0.7" fill="#a29ec4"/><circle cx="162.9" cy="670.0" r="0.9" fill="#aeaaca"/><circle cx="197.1" cy="671.2" r="0.8" fill="#aeaaca"/><circle cx="178.6" cy="680.3" r="0.7" fill="#aeaaca"/><circle cx="226.9" cy="668.8" r="0.7" fill="#a29ec4"/><circle cx="238.2" cy="671.4" r="0.9" fill="#a29ec4"/><circle cx="182.8" cy="683.4" r="0.6" fill="#aeaaca"/><circle cx="250.3" cy="685.9" r="0.8" fill="#aeaaca"/><circle cx="187.7" cy="672.4" r="0.7" fill="#8a86b2"/><circle cx="222.6" cy="672.8" r="0.8" fill="#9490b8"/><circle cx="217.4" cy="675.6" r="0.9" fill="#a29ec4"/><circle cx="195.4" cy="681.6" r="0.8" fill="#a29ec4"/><circle cx="230.1" cy="677.5" r="0.7" fill="#9490b8"/><circle cx="258.5" cy="685.3" r="0.9" fill="#aeaaca"/><circle cx="267.6" cy="683.9" r="0.7" fill="#a29ec4"/><circle cx="231.7" cy="678.2" r="0.8" fill="#aeaaca"/><circle cx="253.4" cy="665.6" r="0.7" fill="#a29ec4"/><circle cx="230.2" cy="675.2" r="0.9" fill="#a29ec4"/><circle cx="254.2" cy="670.0" r="0.8" fill="#aeaaca"/><circle cx="169.3" cy="666.8" r="0.6" fill="#8a86b2"/><circle cx="179.4" cy="679.1" r="0.9" fill="#9490b8"/><circle cx="208.3" cy="680.0" r="0.9" fill="#aeaaca"/><circle cx="233.4" cy="681.7" r="0.8" fill="#a29ec4"/><circle cx="217.5" cy="667.3" r="0.9" fill="#9490b8"/><circle cx="237.0" cy="672.9" r="0.6" fill="#9490b8"/><circle cx="215.9" cy="675.5" r="0.9" fill="#8a86b2"/><circle cx="191.9" cy="665.9" r="0.8" fill="#aeaaca"/><circle cx="208.9" cy="676.7" r="0.7" fill="#a29ec4"/><circle cx="255.5" cy="673.5" r="0.7" fill="#aeaaca"/><circle cx="237.0" cy="669.5" r="0.6" fill="#aeaaca"/><circle cx="206.7" cy="669.9" r="0.7" fill="#a29ec4"/><circle cx="264.9" cy="686.0" r="0.9" fill="#aeaaca"/><circle cx="258.3" cy="669.5" r="0.7" fill="#8a86b2"/><circle cx="210.8" cy="671.1" r="0.6" fill="#aeaaca"/><circle cx="196.5" cy="684.6" r="0.9" fill="#9490b8"/><circle cx="218.0" cy="681.1" r="0.7" fill="#a29ec4"/><circle cx="173.9" cy="675.2" r="0.8" fill="#aeaaca"/><circle cx="164.8" cy="669.8" r="0.8" fill="#9490b8"/><circle cx="213.1" cy="670.7" r="0.8" fill="#a29ec4"/><circle cx="252.0" cy="668.7" r="0.8" fill="#8a86b2"/><circle cx="235.6" cy="685.0" r="0.9" fill="#9490b8"/><circle cx="218.3" cy="680.5" r="0.9" fill="#9490b8"/><circle cx="211.7" cy="674.9" r="0.7" fill="#8a86b2"/><circle cx="260.0" cy="669.9" r="0.9" fill="#8a86b2"/><circle cx="169.9" cy="679.7" r="0.8" fill="#aeaaca"/><circle cx="158.1" cy="678.1" r="0.9" fill="#a29ec4"/><circle cx="234.4" cy="684.1" r="0.7" fill="#9490b8"/><circle cx="205.1" cy="678.3" r="0.8" fill="#9490b8"/><circle cx="215.1" cy="664.6" r="0.8" fill="#a29ec4"/><circle cx="256.4" cy="672.6" r="0.8" fill="#aeaaca"/><circle cx="263.7" cy="669.9" r="0.8" fill="#a29ec4"/><circle cx="259.6" cy="676.6" r="0.9" fill="#8a86b2"/><circle cx="202.6" cy="663.1" r="0.7" fill="#a29ec4"/><circle cx="243.7" cy="671.9" r="0.9" fill="#a29ec4"/><circle cx="245.1" cy="671.2" r="0.6" fill="#aeaaca"/><circle cx="267.8" cy="686.3" r="0.7" fill="#8a86b2"/></g>
<g opacity="0.75" filter="url(#fb)"><ellipse cx="196.9" cy="631.6" rx="1.0" ry="0.7" fill="#8e8ac0" transform="rotate(145 196.9 631.6)"/><ellipse cx="232.6" cy="683.0" rx="1.0" ry="0.6" fill="#8e8ac0" transform="rotate(130 232.6 683.0)"/><ellipse cx="189.9" cy="644.5" rx="0.6" ry="0.5" fill="#a09ac8" transform="rotate(64 189.9 644.5)"/><ellipse cx="253.3" cy="648.2" rx="1.0" ry="0.5" fill="#8e8ac0" transform="rotate(140 253.3 648.2)"/><ellipse cx="212.0" cy="671.4" rx="1.3" ry="0.6" fill="#a09ac8" transform="rotate(162 212.0 671.4)"/><ellipse cx="182.5" cy="656.7" rx="1.1" ry="0.5" fill="#a09ac8" transform="rotate(99 182.5 656.7)"/><ellipse cx="161.9" cy="701.1" rx="1.0" ry="0.7" fill="#8e8ac0" transform="rotate(120 161.9 701.1)"/><ellipse cx="181.1" cy="702.3" rx="0.8" ry="0.6" fill="#a09ac8" transform="rotate(30 181.1 702.3)"/><ellipse cx="216.4" cy="694.0" rx="0.7" ry="0.5" fill="#8e8ac0" transform="rotate(100 216.4 694.0)"/><ellipse cx="266.9" cy="682.0" rx="1.0" ry="0.5" fill="#8e8ac0" transform="rotate(29 266.9 682.0)"/><ellipse cx="233.4" cy="658.4" rx="1.0" ry="0.6" fill="#a09ac8" transform="rotate(121 233.4 658.4)"/><ellipse cx="244.5" cy="653.9" rx="1.1" ry="0.4" fill="#a09ac8" transform="rotate(79 244.5 653.9)"/><ellipse cx="269.7" cy="664.6" rx="1.3" ry="0.7" fill="#a09ac8" transform="rotate(53 269.7 664.6)"/><ellipse cx="231.6" cy="687.5" rx="1.0" ry="0.7" fill="#8e8ac0" transform="rotate(96 231.6 687.5)"/><ellipse cx="205.8" cy="672.7" rx="1.2" ry="0.5" fill="#8e8ac0" transform="rotate(65 205.8 672.7)"/><ellipse cx="182.4" cy="646.8" rx="0.6" ry="0.4" fill="#8e8ac0" transform="rotate(126 182.4 646.8)"/><ellipse cx="173.0" cy="633.1" rx="0.9" ry="0.5" fill="#a09ac8" transform="rotate(127 173.0 633.1)"/><ellipse cx="166.5" cy="655.9" rx="1.1" ry="0.4" fill="#a09ac8" transform="rotate(165 166.5 655.9)"/><ellipse cx="173.2" cy="642.1" rx="1.5" ry="0.6" fill="#8e8ac0" transform="rotate(53 173.2 642.1)"/><ellipse cx="194.9" cy="671.8" rx="1.7" ry="0.6" fill="#8e8ac0" transform="rotate(10 194.9 671.8)"/><ellipse cx="239.0" cy="689.8" rx="1.0" ry="0.7" fill="#a09ac8" transform="rotate(84 239.0 689.8)"/><ellipse cx="164.8" cy="638.2" rx="1.4" ry="0.5" fill="#a09ac8" transform="rotate(162 164.8 638.2)"/><ellipse cx="182.5" cy="703.1" rx="1.3" ry="0.7" fill="#a09ac8" transform="rotate(154 182.5 703.1)"/><ellipse cx="260.5" cy="701.8" rx="1.2" ry="0.6" fill="#8e8ac0" transform="rotate(57 260.5 701.8)"/><ellipse cx="213.3" cy="681.1" rx="1.1" ry="0.6" fill="#8e8ac0" transform="rotate(24 213.3 681.1)"/><ellipse cx="235.2" cy="637.9" rx="1.1" ry="0.5" fill="#8e8ac0" transform="rotate(127 235.2 637.9)"/><ellipse cx="184.6" cy="697.6" rx="1.0" ry="0.4" fill="#8e8ac0" transform="rotate(71 184.6 697.6)"/><ellipse cx="248.6" cy="673.1" rx="0.8" ry="0.4" fill="#a09ac8" transform="rotate(133 248.6 673.1)"/><ellipse cx="232.6" cy="702.4" rx="0.9" ry="0.3" fill="#a09ac8" transform="rotate(81 232.6 702.4)"/><ellipse cx="251.2" cy="635.7" rx="1.2" ry="0.9" fill="#8e8ac0" transform="rotate(138 251.2 635.7)"/><ellipse cx="226.1" cy="686.9" rx="1.0" ry="0.9" fill="#8e8ac0" transform="rotate(162 226.1 686.9)"/><ellipse cx="248.7" cy="652.2" rx="0.6" ry="0.3" fill="#a09ac8" transform="rotate(70 248.7 652.2)"/><ellipse cx="227.6" cy="690.1" rx="1.1" ry="0.7" fill="#8e8ac0" transform="rotate(59 227.6 690.1)"/><ellipse cx="261.5" cy="669.4" rx="0.9" ry="0.5" fill="#a09ac8" transform="rotate(50 261.5 669.4)"/><ellipse cx="197.5" cy="642.0" rx="0.7" ry="0.5" fill="#a09ac8" transform="rotate(106 197.5 642.0)"/></g>
</g>
<g clip-path="url(#c12)">
<rect x="273.7" y="630.6" width="111.2" height="81.8" fill="#f0e5d8"/>
<rect x="273.7" y="630.6" width="111.2" height="81.8" filter="url(#fd)" opacity="0.2"/>
<rect x="273.7" y="630.6" width="111.2" height="81.8" filter="url(#fl)" opacity="0.35"/>
<polygon points="273.7,642.1 277.7,643.5 281.7,644.9 285.7,646.3 289.7,647.7 293.7,649.1 297.7,650.5 301.7,651.9 305.7,653.3 309.7,654.7 313.7,656.1 317.7,657.5 321.7,658.9 325.7,660.3 329.7,661.5 333.7,662.2 337.7,663.0 341.7,663.7 345.7,664.4 349.7,665.2 353.7,665.9 357.7,666.6 361.7,667.4 365.7,668.1 369.7,668.8 373.7,669.6 377.7,670.3 381.7,671.1 385.7,671.8 385.7,684.8 381.7,684.1 377.7,683.3 373.7,682.6 369.7,681.8 365.7,681.1 361.7,680.4 357.7,679.6 353.7,678.9 349.7,678.2 345.7,677.4 341.7,676.7 337.7,676.0 333.7,675.2 329.7,674.5 325.7,673.3 321.7,671.9 317.7,670.5 313.7,669.1 309.7,667.7 305.7,666.3 301.7,664.9 297.7,663.5 293.7,662.1 289.7,660.7 285.7,659.3 281.7,657.9 277.7,656.5 273.7,655.1" fill="#e2dee8" opacity="0.65"/>
<g opacity="0.62" filter="url(#fb)"><circle cx="367.5" cy="678.8" r="0.7" fill="#aeaaca"/><circle cx="329.2" cy="665.6" r="0.8" fill="#8a86b2"/><circle cx="308.6" cy="654.5" r="0.6" fill="#9490b8"/><circle cx="381.7" cy="680.7" r="0.9" fill="#a29ec4"/><circle cx="309.8" cy="663.5" r="0.7" fill="#a29ec4"/><circle cx="335.1" cy="670.7" r="0.7" fill="#8a86b2"/><circle cx="306.6" cy="664.7" r="0.8" fill="#a29ec4"/><circle cx="369.7" cy="675.4" r="0.7" fill="#8a86b2"/><circle cx="295.6" cy="658.8" r="0.7" fill="#a29ec4"/><circle cx="362.4" cy="669.4" r="0.7" fill="#a29ec4"/><circle cx="286.5" cy="648.9" r="0.9" fill="#8a86b2"/><circle cx="332.1" cy="665.4" r="0.6" fill="#9490b8"/><circle cx="378.3" cy="678.2" r="0.7" fill="#aeaaca"/><circle cx="378.2" cy="678.5" r="0.9" fill="#a29ec4"/><circle cx="344.7" cy="667.5" r="0.7" fill="#a29ec4"/><circle cx="278.9" cy="645.1" r="0.7" fill="#aeaaca"/><circle cx="318.2" cy="666.3" r="0.8" fill="#8a86b2"/><circle cx="375.9" cy="671.7" r="0.9" fill="#aeaaca"/><circle cx="275.9" cy="643.9" r="0.9" fill="#9490b8"/><circle cx="346.4" cy="670.7" r="0.7" fill="#a29ec4"/><circle cx="336.0" cy="664.1" r="0.9" fill="#aeaaca"/><circle cx="339.0" cy="663.5" r="0.8" fill="#aeaaca"/><circle cx="287.5" cy="651.0" r="0.9" fill="#a29ec4"/><circle cx="347.8" cy="676.5" r="0.7" fill="#aeaaca"/><circle cx="318.5" cy="670.8" r="0.8" fill="#9490b8"/><circle cx="337.8" cy="666.6" r="0.9" fill="#aeaaca"/><circle cx="294.2" cy="661.1" r="0.8" fill="#a29ec4"/><circle cx="329.4" cy="662.5" r="0.8" fill="#8a86b2"/><circle cx="286.8" cy="659.1" r="0.6" fill="#a29ec4"/><circle cx="348.1" cy="669.4" r="0.7" fill="#9490b8"/><circle cx="344.8" cy="666.7" r="0.7" fill="#aeaaca"/><circle cx="296.7" cy="662.6" r="0.6" fill="#aeaaca"/><circle cx="302.2" cy="661.8" r="0.6" fill="#8a86b2"/><circle cx="328.8" cy="671.7" r="0.8" fill="#aeaaca"/><circle cx="324.1" cy="662.7" r="0.6" fill="#a29ec4"/><circle cx="329.9" cy="668.6" r="0.8" fill="#8a86b2"/><circle cx="282.9" cy="648.9" r="0.9" fill="#aeaaca"/><circle cx="315.9" cy="666.9" r="0.7" fill="#8a86b2"/><circle cx="325.7" cy="664.1" r="0.7" fill="#9490b8"/><circle cx="371.0" cy="672.4" r="0.8" fill="#8a86b2"/><circle cx="318.8" cy="667.8" r="0.8" fill="#a29ec4"/><circle cx="384.5" cy="675.0" r="0.6" fill="#aeaaca"/><circle cx="324.6" cy="663.1" r="0.9" fill="#8a86b2"/><circle cx="304.7" cy="662.8" r="0.6" fill="#8a86b2"/><circle cx="342.5" cy="669.9" r="0.7" fill="#8a86b2"/><circle cx="333.0" cy="674.4" r="0.8" fill="#8a86b2"/><circle cx="292.0" cy="655.7" r="0.9" fill="#aeaaca"/><circle cx="325.9" cy="661.5" r="0.9" fill="#aeaaca"/><circle cx="330.2" cy="662.5" r="0.6" fill="#8a86b2"/><circle cx="363.3" cy="671.1" r="0.9" fill="#aeaaca"/><circle cx="360.4" cy="675.3" r="0.8" fill="#aeaaca"/><circle cx="368.6" cy="671.9" r="0.9" fill="#9490b8"/><circle cx="275.8" cy="652.2" r="0.7" fill="#9490b8"/><circle cx="315.6" cy="669.1" r="0.8" fill="#aeaaca"/><circle cx="377.8" cy="672.5" r="0.7" fill="#a29ec4"/><circle cx="366.4" cy="671.1" r="0.6" fill="#9490b8"/><circle cx="337.1" cy="671.1" r="0.9" fill="#8a86b2"/><circle cx="380.2" cy="679.0" r="0.7" fill="#9490b8"/><circle cx="382.6" cy="680.5" r="0.8" fill="#8a86b2"/><circle cx="309.0" cy="657.0" r="0.8" fill="#9490b8"/><circle cx="317.9" cy="659.0" r="0.8" fill="#8a86b2"/><circle cx="307.5" cy="656.7" r="0.7" fill="#a29ec4"/><circle cx="369.1" cy="679.3" r="0.6" fill="#8a86b2"/><circle cx="354.4" cy="677.9" r="0.6" fill="#aeaaca"/><circle cx="288.0" cy="651.7" r="0.8" fill="#aeaaca"/><circle cx="368.2" cy="681.5" r="0.9" fill="#9490b8"/><circle cx="322.8" cy="665.5" r="0.8" fill="#aeaaca"/><circle cx="354.6" cy="666.7" r="0.7" fill="#8a86b2"/><circle cx="348.4" cy="676.9" r="0.7" fill="#9490b8"/><circle cx="280.4" cy="648.0" r="0.9" fill="#8a86b2"/><circle cx="281.3" cy="645.2" r="0.9" fill="#9490b8"/><circle cx="284.8" cy="647.6" r="0.8" fill="#aeaaca"/><circle cx="285.0" cy="647.3" r="0.9" fill="#aeaaca"/><circle cx="331.4" cy="662.2" r="0.9" fill="#a29ec4"/><circle cx="287.2" cy="652.2" r="0.7" fill="#9490b8"/><circle cx="374.8" cy="672.7" r="0.9" fill="#aeaaca"/><circle cx="326.2" cy="662.1" r="0.8" fill="#8a86b2"/><circle cx="375.9" cy="677.0" r="0.9" fill="#9490b8"/><circle cx="281.3" cy="647.9" r="0.7" fill="#aeaaca"/><circle cx="372.1" cy="676.9" r="0.8" fill="#aeaaca"/><circle cx="339.9" cy="668.0" r="0.8" fill="#aeaaca"/><circle cx="315.0" cy="663.9" r="0.9" fill="#a29ec4"/><circle cx="285.6" cy="655.3" r="0.9" fill="#a29ec4"/><circle cx="384.0" cy="673.2" r="0.8" fill="#9490b8"/><circle cx="356.2" cy="667.1" r="0.6" fill="#9490b8"/><circle cx="288.2" cy="651.6" r="0.9" fill="#9490b8"/><circle cx="367.4" cy="669.9" r="0.9" fill="#aeaaca"/><circle cx="314.4" cy="667.6" r="0.7" fill="#aeaaca"/><circle cx="366.4" cy="669.1" r="0.9" fill="#aeaaca"/><circle cx="326.9" cy="664.1" r="0.7" fill="#aeaaca"/><circle cx="368.6" cy="669.3" r="0.7" fill="#8a86b2"/><circle cx="334.2" cy="668.9" r="0.8" fill="#aeaaca"/><circle cx="280.3" cy="644.7" r="0.8" fill="#8a86b2"/><circle cx="375.7" cy="672.5" r="0.7" fill="#9490b8"/><circle cx="327.6" cy="666.5" r="0.7" fill="#9490b8"/><circle cx="367.3" cy="677.9" r="0.7" fill="#8a86b2"/><circle cx="279.3" cy="648.1" r="0.6" fill="#9490b8"/><circle cx="376.2" cy="682.7" r="0.7" fill="#aeaaca"/><circle cx="325.6" cy="670.8" r="0.9" fill="#8a86b2"/><circle cx="282.7" cy="653.0" r="0.9" fill="#aeaaca"/><circle cx="278.6" cy="655.1" r="0.9" fill="#aeaaca"/><circle cx="369.6" cy="676.0" r="0.7" fill="#9490b8"/><circle cx="280.1" cy="649.5" r="0.7" fill="#9490b8"/><circle cx="276.6" cy="654.1" r="0.9" fill="#aeaaca"/><circle cx="344.3" cy="675.7" r="0.7" fill="#a29ec4"/><circle cx="354.9" cy="668.1" r="0.7" fill="#8a86b2"/><circle cx="353.6" cy="667.9" r="0.7" fill="#aeaaca"/><circle cx="294.2" cy="650.3" r="0.7" fill="#a29ec4"/><circle cx="281.4" cy="655.7" r="0.7" fill="#8a86b2"/><circle cx="365.7" cy="674.1" r="0.6" fill="#8a86b2"/><circle cx="321.3" cy="661.8" r="0.9" fill="#aeaaca"/><circle cx="349.8" cy="671.1" r="0.6" fill="#a29ec4"/><circle cx="354.7" cy="670.5" r="0.8" fill="#9490b8"/><circle cx="285.7" cy="648.2" r="0.8" fill="#a29ec4"/><circle cx="281.6" cy="648.7" r="0.6" fill="#aeaaca"/><circle cx="360.0" cy="672.4" r="0.7" fill="#8a86b2"/><circle cx="280.4" cy="649.4" r="0.9" fill="#9490b8"/><circle cx="380.6" cy="676.3" r="0.8" fill="#8a86b2"/><circle cx="307.3" cy="660.2" r="0.6" fill="#8a86b2"/><circle cx="329.2" cy="670.5" r="0.8" fill="#a29ec4"/><circle cx="285.9" cy="652.0" r="0.7" fill="#aeaaca"/><circle cx="343.1" cy="668.6" r="0.8" fill="#aeaaca"/><circle cx="313.7" cy="659.0" r="0.9" fill="#aeaaca"/><circle cx="293.1" cy="653.5" r="0.8" fill="#9490b8"/><circle cx="369.4" cy="673.0" r="0.8" fill="#aeaaca"/><circle cx="334.8" cy="666.5" r="0.9" fill="#9490b8"/><circle cx="370.1" cy="676.8" r="0.9" fill="#9490b8"/><circle cx="293.3" cy="653.5" r="0.9" fill="#8a86b2"/><circle cx="274.0" cy="652.1" r="0.7" fill="#aeaaca"/><circle cx="339.9" cy="668.5" r="0.6" fill="#a29ec4"/><circle cx="284.0" cy="648.6" r="0.9" fill="#9490b8"/><circle cx="314.5" cy="662.6" r="0.9" fill="#8a86b2"/><circle cx="375.1" cy="681.5" r="0.9" fill="#8a86b2"/><circle cx="367.2" cy="680.7" r="0.8" fill="#aeaaca"/><circle cx="333.7" cy="673.2" r="0.7" fill="#9490b8"/><circle cx="362.0" cy="671.3" r="0.7" fill="#8a86b2"/><circle cx="346.8" cy="674.5" r="0.9" fill="#8a86b2"/><circle cx="285.9" cy="650.2" r="0.9" fill="#a29ec4"/><circle cx="314.1" cy="659.1" r="0.9" fill="#8a86b2"/><circle cx="343.7" cy="670.7" r="0.9" fill="#9490b8"/><circle cx="342.6" cy="663.9" r="0.8" fill="#aeaaca"/><circle cx="362.6" cy="669.9" r="0.9" fill="#8a86b2"/><circle cx="367.4" cy="674.4" r="0.7" fill="#aeaaca"/><circle cx="299.4" cy="651.4" r="0.9" fill="#a29ec4"/><circle cx="282.0" cy="655.9" r="0.8" fill="#aeaaca"/><circle cx="357.9" cy="668.6" r="0.8" fill="#9490b8"/><circle cx="331.5" cy="668.7" r="0.7" fill="#aeaaca"/><circle cx="337.8" cy="665.6" r="0.6" fill="#a29ec4"/><circle cx="274.3" cy="643.6" r="0.8" fill="#a29ec4"/><circle cx="336.2" cy="673.0" r="0.9" fill="#9490b8"/><circle cx="304.6" cy="664.1" r="0.7" fill="#8a86b2"/><circle cx="330.5" cy="673.7" r="0.7" fill="#9490b8"/><circle cx="373.9" cy="679.0" r="0.8" fill="#9490b8"/><circle cx="299.5" cy="661.7" r="0.8" fill="#aeaaca"/><circle cx="380.2" cy="672.0" r="0.7" fill="#a29ec4"/><circle cx="323.7" cy="664.3" r="0.7" fill="#8a86b2"/><circle cx="281.5" cy="650.2" r="0.7" fill="#8a86b2"/><circle cx="293.0" cy="660.9" r="0.9" fill="#9490b8"/><circle cx="303.1" cy="664.4" r="0.8" fill="#9490b8"/><circle cx="300.9" cy="652.5" r="0.9" fill="#a29ec4"/><circle cx="308.2" cy="665.7" r="0.8" fill="#aeaaca"/><circle cx="285.0" cy="648.3" r="0.9" fill="#a29ec4"/><circle cx="280.3" cy="645.5" r="0.8" fill="#8a86b2"/><circle cx="273.7" cy="652.2" r="0.8" fill="#9490b8"/><circle cx="350.5" cy="669.1" r="0.8" fill="#9490b8"/><circle cx="383.1" cy="676.8" r="0.9" fill="#aeaaca"/><circle cx="366.0" cy="668.5" r="0.8" fill="#8a86b2"/><circle cx="306.1" cy="664.1" r="0.9" fill="#a29ec4"/><circle cx="321.7" cy="663.7" r="0.8" fill="#a29ec4"/><circle cx="368.8" cy="674.0" r="0.7" fill="#9490b8"/><circle cx="329.8" cy="665.5" r="0.8" fill="#aeaaca"/><circle cx="375.3" cy="670.0" r="0.6" fill="#8a86b2"/><circle cx="321.4" cy="669.3" r="0.8" fill="#a29ec4"/><circle cx="359.8" cy="679.1" r="0.9" fill="#8a86b2"/><circle cx="352.1" cy="671.8" r="0.6" fill="#9490b8"/><circle cx="312.9" cy="664.7" r="0.9" fill="#a29ec4"/><circle cx="355.7" cy="667.8" r="0.6" fill="#8a86b2"/><circle cx="374.2" cy="679.6" r="0.7" fill="#9490b8"/><circle cx="380.6" cy="680.0" r="0.7" fill="#8a86b2"/><circle cx="333.1" cy="672.8" r="0.8" fill="#8a86b2"/><circle cx="283.6" cy="657.9" r="0.9" fill="#aeaaca"/><circle cx="364.3" cy="671.8" r="0.9" fill="#9490b8"/><circle cx="356.5" cy="671.6" r="0.8" fill="#8a86b2"/><circle cx="306.5" cy="660.7" r="0.7" fill="#aeaaca"/><circle cx="295.6" cy="654.0" r="0.6" fill="#8a86b2"/><circle cx="344.8" cy="664.8" r="0.7" fill="#aeaaca"/><circle cx="295.6" cy="652.9" r="0.7" fill="#9490b8"/><circle cx="274.1" cy="649.8" r="0.6" fill="#8a86b2"/><circle cx="295.6" cy="660.2" r="0.9" fill="#8a86b2"/><circle cx="282.8" cy="651.0" r="0.9" fill="#a29ec4"/><circle cx="302.9" cy="654.8" r="0.6" fill="#a29ec4"/><circle cx="349.2" cy="674.9" r="0.8" fill="#aeaaca"/><circle cx="359.1" cy="677.3" r="0.9" fill="#9490b8"/><circle cx="330.9" cy="669.8" r="0.8" fill="#8a86b2"/><circle cx="274.6" cy="651.4" r="0.9" fill="#a29ec4"/><circle cx="299.4" cy="654.1" r="0.8" fill="#8a86b2"/><circle cx="336.5" cy="669.9" r="0.9" fill="#9490b8"/><circle cx="305.2" cy="663.4" r="0.9" fill="#9490b8"/><circle cx="300.1" cy="660.4" r="0.7" fill="#8a86b2"/><circle cx="325.9" cy="662.9" r="0.8" fill="#a29ec4"/><circle cx="316.4" cy="667.5" r="0.8" fill="#9490b8"/><circle cx="377.4" cy="679.2" r="0.8" fill="#aeaaca"/><circle cx="312.5" cy="659.6" r="0.7" fill="#8a86b2"/><circle cx="289.4" cy="652.8" r="0.8" fill="#a29ec4"/><circle cx="280.8" cy="656.4" r="0.6" fill="#8a86b2"/><circle cx="368.9" cy="676.5" r="0.9" fill="#9490b8"/><circle cx="347.7" cy="670.7" r="0.7" fill="#9490b8"/><circle cx="308.2" cy="659.6" r="0.6" fill="#9490b8"/><circle cx="351.4" cy="677.9" r="0.9" fill="#aeaaca"/><circle cx="367.3" cy="680.1" r="0.7" fill="#9490b8"/><circle cx="361.1" cy="668.9" r="0.9" fill="#9490b8"/><circle cx="345.6" cy="666.1" r="0.9" fill="#a29ec4"/><circle cx="274.2" cy="647.4" r="0.9" fill="#aeaaca"/><circle cx="378.2" cy="675.6" r="0.9" fill="#9490b8"/><circle cx="313.1" cy="663.4" r="0.7" fill="#9490b8"/><circle cx="309.2" cy="658.5" r="0.8" fill="#aeaaca"/><circle cx="381.4" cy="681.8" r="0.6" fill="#aeaaca"/><circle cx="310.1" cy="667.4" r="0.9" fill="#a29ec4"/><circle cx="280.5" cy="650.3" r="0.7" fill="#8a86b2"/><circle cx="320.4" cy="668.2" r="0.9" fill="#8a86b2"/><circle cx="279.2" cy="648.2" r="0.9" fill="#8a86b2"/><circle cx="314.6" cy="661.1" r="0.9" fill="#9490b8"/><circle cx="296.2" cy="660.9" r="0.9" fill="#8a86b2"/><circle cx="275.7" cy="650.3" r="0.8" fill="#a29ec4"/><circle cx="310.8" cy="659.9" r="0.8" fill="#8a86b2"/><circle cx="289.1" cy="653.4" r="0.7" fill="#aeaaca"/><circle cx="364.3" cy="668.9" r="0.9" fill="#8a86b2"/><circle cx="334.3" cy="663.9" r="0.9" fill="#8a86b2"/><circle cx="294.7" cy="650.8" r="0.6" fill="#8a86b2"/><circle cx="344.7" cy="672.5" r="0.7" fill="#a29ec4"/><circle cx="358.5" cy="672.3" r="0.6" fill="#aeaaca"/><circle cx="345.3" cy="676.3" r="0.7" fill="#8a86b2"/><circle cx="355.5" cy="673.7" r="0.8" fill="#8a86b2"/><circle cx="320.4" cy="667.9" r="0.9" fill="#8a86b2"/><circle cx="300.3" cy="655.8" r="0.7" fill="#9490b8"/><circle cx="374.7" cy="671.6" r="0.7" fill="#aeaaca"/><circle cx="303.4" cy="657.4" r="0.8" fill="#9490b8"/><circle cx="322.6" cy="661.4" r="0.8" fill="#8a86b2"/><circle cx="309.2" cy="660.5" r="0.8" fill="#a29ec4"/><circle cx="289.9" cy="658.7" r="0.8" fill="#a29ec4"/></g>
<g opacity="0.65" filter="url(#fb)"><circle cx="289.0" cy="693.7" r="1.0" fill="#b0acd4"/><circle cx="290.2" cy="691.0" r="0.7" fill="#a09ccc"/><circle cx="338.5" cy="694.4" r="0.6" fill="#b0acd4"/><circle cx="308.2" cy="701.3" r="0.8" fill="#a09ccc"/><circle cx="310.5" cy="691.3" r="0.8" fill="#b0acd4"/><circle cx="301.7" cy="707.3" r="0.9" fill="#a09ccc"/><circle cx="314.3" cy="688.6" r="0.7" fill="#b0acd4"/><circle cx="299.0" cy="707.9" r="0.7" fill="#b0acd4"/><circle cx="291.6" cy="693.3" r="0.6" fill="#a09ccc"/><circle cx="281.9" cy="700.7" r="0.8" fill="#a09ccc"/><circle cx="324.9" cy="710.2" r="0.7" fill="#b0acd4"/><circle cx="312.0" cy="687.0" r="0.8" fill="#a09ccc"/><circle cx="349.1" cy="682.9" r="0.9" fill="#b0acd4"/><circle cx="289.2" cy="694.1" r="0.8" fill="#a09ccc"/><circle cx="343.7" cy="684.9" r="1.0" fill="#a09ccc"/><circle cx="296.9" cy="680.8" r="0.9" fill="#b0acd4"/><circle cx="291.7" cy="701.3" r="1.0" fill="#a09ccc"/><circle cx="289.6" cy="709.1" r="0.6" fill="#b0acd4"/><circle cx="330.1" cy="684.8" r="0.6" fill="#b0acd4"/><circle cx="299.3" cy="696.2" r="0.6" fill="#b0acd4"/><circle cx="348.7" cy="691.4" r="0.8" fill="#a09ccc"/><circle cx="338.4" cy="712.3" r="1.0" fill="#b0acd4"/><circle cx="296.6" cy="688.5" r="0.6" fill="#b0acd4"/><circle cx="327.4" cy="686.7" r="0.7" fill="#a09ccc"/><circle cx="351.1" cy="682.1" r="0.7" fill="#b0acd4"/><circle cx="292.7" cy="683.8" r="0.7" fill="#a09ccc"/><circle cx="325.0" cy="683.9" r="0.9" fill="#a09ccc"/><circle cx="274.0" cy="698.2" r="0.7" fill="#a09ccc"/><circle cx="319.9" cy="683.3" r="1.0" fill="#a09ccc"/><circle cx="335.9" cy="685.9" r="0.9" fill="#a09ccc"/><circle cx="321.4" cy="695.4" r="0.9" fill="#a09ccc"/><circle cx="281.5" cy="681.4" r="0.8" fill="#b0acd4"/><circle cx="330.2" cy="686.0" r="0.9" fill="#b0acd4"/><circle cx="317.9" cy="704.4" r="0.7" fill="#a09ccc"/><circle cx="286.7" cy="699.5" r="0.7" fill="#a09ccc"/><circle cx="324.6" cy="684.3" r="0.6" fill="#b0acd4"/><circle cx="318.7" cy="706.7" r="0.7" fill="#a09ccc"/><circle cx="284.6" cy="705.2" r="0.9" fill="#b0acd4"/><circle cx="293.3" cy="697.6" r="0.7" fill="#b0acd4"/><circle cx="298.0" cy="684.8" r="0.9" fill="#a09ccc"/><circle cx="317.0" cy="697.9" r="0.8" fill="#b0acd4"/><circle cx="312.6" cy="694.9" r="0.9" fill="#a09ccc"/><circle cx="292.5" cy="682.5" r="0.8" fill="#a09ccc"/><circle cx="308.4" cy="691.2" r="0.9" fill="#a09ccc"/><circle cx="307.1" cy="698.4" r="0.6" fill="#a09ccc"/><circle cx="300.9" cy="688.9" r="0.7" fill="#b0acd4"/><circle cx="288.0" cy="711.6" r="0.8" fill="#a09ccc"/><circle cx="349.3" cy="702.5" r="0.6" fill="#b0acd4"/><circle cx="329.1" cy="697.1" r="0.7" fill="#b0acd4"/><circle cx="348.5" cy="688.5" r="0.7" fill="#a09ccc"/></g>
<g opacity="0.75" filter="url(#fb)"><ellipse cx="309.0" cy="657.0" rx="1.0" ry="0.4" fill="#a09ac8" transform="rotate(153 309.0 657.0)"/><ellipse cx="274.1" cy="688.4" rx="0.7" ry="0.4" fill="#8e8ac0" transform="rotate(155 274.1 688.4)"/><ellipse cx="313.2" cy="665.5" rx="0.8" ry="0.5" fill="#a09ac8" transform="rotate(0 313.2 665.5)"/><ellipse cx="362.4" cy="669.3" rx="1.3" ry="0.7" fill="#8e8ac0" transform="rotate(82 362.4 669.3)"/><ellipse cx="285.7" cy="687.6" rx="1.3" ry="0.5" fill="#a09ac8" transform="rotate(125 285.7 687.6)"/><ellipse cx="285.3" cy="704.3" rx="1.0" ry="0.7" fill="#a09ac8" transform="rotate(125 285.3 704.3)"/><ellipse cx="367.0" cy="673.4" rx="1.4" ry="0.8" fill="#a09ac8" transform="rotate(154 367.0 673.4)"/><ellipse cx="310.6" cy="680.7" rx="1.2" ry="0.7" fill="#8e8ac0" transform="rotate(153 310.6 680.7)"/><ellipse cx="343.8" cy="634.4" rx="0.9" ry="0.6" fill="#a09ac8" transform="rotate(53 343.8 634.4)"/><ellipse cx="343.8" cy="649.4" rx="0.9" ry="0.5" fill="#a09ac8" transform="rotate(178 343.8 649.4)"/><ellipse cx="294.3" cy="704.1" rx="1.0" ry="0.5" fill="#8e8ac0" transform="rotate(59 294.3 704.1)"/><ellipse cx="377.6" cy="667.6" rx="0.7" ry="0.5" fill="#8e8ac0" transform="rotate(135 377.6 667.6)"/><ellipse cx="373.5" cy="696.9" rx="1.0" ry="0.4" fill="#a09ac8" transform="rotate(48 373.5 696.9)"/><ellipse cx="368.4" cy="659.5" rx="1.1" ry="0.4" fill="#8e8ac0" transform="rotate(36 368.4 659.5)"/><ellipse cx="373.7" cy="675.9" rx="1.0" ry="0.8" fill="#8e8ac0" transform="rotate(14 373.7 675.9)"/><ellipse cx="331.3" cy="704.9" rx="0.9" ry="0.6" fill="#8e8ac0" transform="rotate(30 331.3 704.9)"/><ellipse cx="310.6" cy="679.2" rx="0.8" ry="0.4" fill="#a09ac8" transform="rotate(114 310.6 679.2)"/><ellipse cx="315.5" cy="697.5" rx="0.8" ry="0.5" fill="#a09ac8" transform="rotate(12 315.5 697.5)"/><ellipse cx="319.4" cy="703.8" rx="1.3" ry="0.6" fill="#a09ac8" transform="rotate(123 319.4 703.8)"/><ellipse cx="380.7" cy="665.4" rx="1.4" ry="0.6" fill="#8e8ac0" transform="rotate(149 380.7 665.4)"/><ellipse cx="303.7" cy="682.8" rx="1.2" ry="0.6" fill="#8e8ac0" transform="rotate(8 303.7 682.8)"/><ellipse cx="352.0" cy="662.1" rx="0.7" ry="0.5" fill="#a09ac8" transform="rotate(178 352.0 662.1)"/><ellipse cx="296.1" cy="642.6" rx="0.7" ry="0.4" fill="#a09ac8" transform="rotate(89 296.1 642.6)"/><ellipse cx="288.0" cy="649.8" rx="0.7" ry="0.5" fill="#8e8ac0" transform="rotate(85 288.0 649.8)"/><ellipse cx="356.4" cy="674.3" rx="1.1" ry="0.5" fill="#a09ac8" transform="rotate(107 356.4 674.3)"/><ellipse cx="324.0" cy="642.3" rx="0.8" ry="0.6" fill="#8e8ac0" transform="rotate(85 324.0 642.3)"/><ellipse cx="372.5" cy="631.1" rx="1.1" ry="0.4" fill="#8e8ac0" transform="rotate(150 372.5 631.1)"/><ellipse cx="354.9" cy="656.4" rx="0.8" ry="0.6" fill="#8e8ac0" transform="rotate(122 354.9 656.4)"/><ellipse cx="380.6" cy="710.7" rx="0.7" ry="0.4" fill="#a09ac8" transform="rotate(22 380.6 710.7)"/><ellipse cx="370.0" cy="671.3" rx="1.2" ry="0.7" fill="#a09ac8" transform="rotate(20 370.0 671.3)"/></g>
</g>
<g clip-path="url(#c20)">
<rect x="42.3" y="716.9" width="111.5" height="81.5" fill="#efeaee"/>
<rect x="42.3" y="716.9" width="111.5" height="81.5" filter="url(#fd)" opacity="0.06"/>
<rect x="42.3" y="716.9" width="111.5" height="81.5" filter="url(#fl)" opacity="0.4"/>
<g opacity="0.95" filter="url(#fb)"><ellipse cx="66.5" cy="795.9" rx="0.8" ry="0.6" fill="#3e3a94" transform="rotate(98 66.5 795.9)"/><ellipse cx="144.2" cy="752.0" rx="1.3" ry="0.7" fill="#3e3a94" transform="rotate(113 144.2 752.0)"/><ellipse cx="134.8" cy="777.5" rx="0.7" ry="0.6" fill="#3e3a94" transform="rotate(126 134.8 777.5)"/><ellipse cx="70.8" cy="725.4" rx="1.0" ry="0.9" fill="#5a56aa" transform="rotate(157 70.8 725.4)"/><ellipse cx="78.8" cy="785.8" rx="1.0" ry="0.6" fill="#5a56aa" transform="rotate(34 78.8 785.8)"/><ellipse cx="65.2" cy="786.2" rx="0.9" ry="0.8" fill="#4a44a0" transform="rotate(138 65.2 786.2)"/><ellipse cx="51.3" cy="721.0" rx="1.1" ry="0.8" fill="#4a44a0" transform="rotate(76 51.3 721.0)"/><ellipse cx="74.4" cy="782.0" rx="1.0" ry="0.9" fill="#5a56aa" transform="rotate(88 74.4 782.0)"/><ellipse cx="131.2" cy="757.5" rx="1.5" ry="0.9" fill="#5a56aa" transform="rotate(80 131.2 757.5)"/><ellipse cx="61.2" cy="725.0" rx="1.3" ry="0.8" fill="#3e3a94" transform="rotate(75 61.2 725.0)"/><ellipse cx="52.6" cy="752.1" rx="1.2" ry="0.9" fill="#4a44a0" transform="rotate(179 52.6 752.1)"/><ellipse cx="79.3" cy="759.3" rx="1.3" ry="0.7" fill="#3e3a94" transform="rotate(179 79.3 759.3)"/><ellipse cx="78.9" cy="724.4" rx="0.8" ry="0.7" fill="#3e3a94" transform="rotate(40 78.9 724.4)"/><ellipse cx="111.4" cy="774.1" rx="1.4" ry="0.9" fill="#4a44a0" transform="rotate(10 111.4 774.1)"/><ellipse cx="62.8" cy="717.6" rx="1.0" ry="0.7" fill="#5a56aa" transform="rotate(42 62.8 717.6)"/><ellipse cx="106.2" cy="746.1" rx="1.0" ry="0.9" fill="#3e3a94" transform="rotate(55 106.2 746.1)"/><ellipse cx="59.2" cy="739.0" rx="0.9" ry="0.8" fill="#6460b0" transform="rotate(92 59.2 739.0)"/><ellipse cx="105.2" cy="760.4" rx="1.0" ry="0.7" fill="#6460b0" transform="rotate(33 105.2 760.4)"/><ellipse cx="122.3" cy="794.6" rx="1.2" ry="0.7" fill="#6460b0" transform="rotate(91 122.3 794.6)"/><ellipse cx="112.1" cy="757.0" rx="1.1" ry="0.6" fill="#3e3a94" transform="rotate(101 112.1 757.0)"/><ellipse cx="83.7" cy="791.4" rx="0.8" ry="0.6" fill="#5a56aa" transform="rotate(144 83.7 791.4)"/><ellipse cx="113.2" cy="783.4" rx="0.9" ry="0.5" fill="#6460b0" transform="rotate(104 113.2 783.4)"/><ellipse cx="55.8" cy="763.7" rx="1.3" ry="0.8" fill="#6460b0" transform="rotate(92 55.8 763.7)"/><ellipse cx="92.5" cy="732.9" rx="1.0" ry="0.7" fill="#6460b0" transform="rotate(76 92.5 732.9)"/><ellipse cx="144.1" cy="777.0" rx="1.4" ry="0.9" fill="#5a56aa" transform="rotate(121 144.1 777.0)"/><ellipse cx="44.6" cy="724.0" rx="1.3" ry="0.7" fill="#3e3a94" transform="rotate(160 44.6 724.0)"/><ellipse cx="61.4" cy="770.0" rx="1.5" ry="0.9" fill="#3e3a94" transform="rotate(149 61.4 770.0)"/><ellipse cx="81.6" cy="767.6" rx="0.8" ry="0.5" fill="#5a56aa" transform="rotate(125 81.6 767.6)"/><ellipse cx="56.8" cy="787.4" rx="1.0" ry="0.7" fill="#3e3a94" transform="rotate(91 56.8 787.4)"/><ellipse cx="82.7" cy="728.3" rx="1.2" ry="0.7" fill="#4a44a0" transform="rotate(101 82.7 728.3)"/><ellipse cx="72.9" cy="782.9" rx="1.4" ry="0.8" fill="#5a56aa" transform="rotate(112 72.9 782.9)"/><ellipse cx="59.7" cy="753.5" rx="0.9" ry="0.6" fill="#3e3a94" transform="rotate(30 59.7 753.5)"/><ellipse cx="135.6" cy="733.0" rx="1.1" ry="0.6" fill="#4a44a0" transform="rotate(15 135.6 733.0)"/><ellipse cx="146.7" cy="761.9" rx="1.1" ry="0.7" fill="#3e3a94" transform="rotate(7 146.7 761.9)"/><ellipse cx="86.8" cy="767.6" rx="0.7" ry="0.6" fill="#3e3a94" transform="rotate(150 86.8 767.6)"/><ellipse cx="81.0" cy="797.3" rx="1.0" ry="0.7" fill="#5a56aa" transform="rotate(7 81.0 797.3)"/><ellipse cx="97.6" cy="729.7" rx="0.9" ry="0.9" fill="#5a56aa" transform="rotate(154 97.6 729.7)"/><ellipse cx="130.4" cy="737.5" rx="1.2" ry="0.8" fill="#4a44a0" transform="rotate(137 130.4 737.5)"/><ellipse cx="43.3" cy="766.8" rx="1.0" ry="0.6" fill="#5a56aa" transform="rotate(65 43.3 766.8)"/><ellipse cx="66.4" cy="779.0" rx="1.3" ry="0.7" fill="#3e3a94" transform="rotate(176 66.4 779.0)"/><ellipse cx="87.1" cy="777.4" rx="0.8" ry="0.7" fill="#3e3a94" transform="rotate(29 87.1 777.4)"/><ellipse cx="73.0" cy="764.3" rx="1.0" ry="0.8" fill="#3e3a94" transform="rotate(147 73.0 764.3)"/><ellipse cx="114.5" cy="748.0" rx="1.4" ry="0.8" fill="#5a56aa" transform="rotate(102 114.5 748.0)"/><ellipse cx="58.6" cy="763.6" rx="1.2" ry="0.9" fill="#4a44a0" transform="rotate(177 58.6 763.6)"/><ellipse cx="98.8" cy="798.3" rx="1.2" ry="0.7" fill="#6460b0" transform="rotate(93 98.8 798.3)"/><ellipse cx="108.0" cy="782.9" rx="1.1" ry="0.6" fill="#4a44a0" transform="rotate(1 108.0 782.9)"/><ellipse cx="49.7" cy="796.9" rx="0.9" ry="0.6" fill="#3e3a94" transform="rotate(167 49.7 796.9)"/><ellipse cx="64.3" cy="793.9" rx="1.1" ry="0.7" fill="#3e3a94" transform="rotate(82 64.3 793.9)"/><ellipse cx="116.2" cy="797.5" rx="0.8" ry="0.7" fill="#6460b0" transform="rotate(143 116.2 797.5)"/><ellipse cx="71.1" cy="724.3" rx="0.8" ry="0.5" fill="#4a44a0" transform="rotate(75 71.1 724.3)"/><ellipse cx="103.8" cy="776.0" rx="0.9" ry="0.7" fill="#6460b0" transform="rotate(50 103.8 776.0)"/><ellipse cx="78.8" cy="783.7" rx="1.1" ry="0.9" fill="#3e3a94" transform="rotate(113 78.8 783.7)"/><ellipse cx="122.2" cy="737.0" rx="1.0" ry="0.7" fill="#3e3a94" transform="rotate(81 122.2 737.0)"/><ellipse cx="141.8" cy="773.3" rx="1.1" ry="0.7" fill="#3e3a94" transform="rotate(96 141.8 773.3)"/><ellipse cx="143.5" cy="747.6" rx="1.3" ry="0.8" fill="#4a44a0" transform="rotate(108 143.5 747.6)"/><ellipse cx="129.3" cy="781.7" rx="1.1" ry="0.7" fill="#3e3a94" transform="rotate(66 129.3 781.7)"/><ellipse cx="101.9" cy="719.4" rx="1.3" ry="0.9" fill="#6460b0" transform="rotate(45 101.9 719.4)"/><ellipse cx="54.4" cy="777.7" rx="1.1" ry="0.6" fill="#4a44a0" transform="rotate(92 54.4 777.7)"/><ellipse cx="124.4" cy="723.5" rx="0.8" ry="0.6" fill="#6460b0" transform="rotate(75 124.4 723.5)"/><ellipse cx="106.3" cy="755.2" rx="0.9" ry="0.7" fill="#6460b0" transform="rotate(89 106.3 755.2)"/><ellipse cx="75.8" cy="797.6" rx="1.3" ry="0.8" fill="#4a44a0" transform="rotate(140 75.8 797.6)"/><ellipse cx="73.9" cy="757.2" rx="0.9" ry="0.8" fill="#5a56aa" transform="rotate(157 73.9 757.2)"/><ellipse cx="128.5" cy="734.0" rx="1.0" ry="0.7" fill="#3e3a94" transform="rotate(140 128.5 734.0)"/><ellipse cx="115.7" cy="787.5" rx="0.9" ry="0.6" fill="#6460b0" transform="rotate(60 115.7 787.5)"/><ellipse cx="78.3" cy="773.9" rx="1.1" ry="0.9" fill="#6460b0" transform="rotate(87 78.3 773.9)"/><ellipse cx="54.9" cy="790.1" rx="1.0" ry="0.8" fill="#3e3a94" transform="rotate(61 54.9 790.1)"/><ellipse cx="49.8" cy="770.7" rx="1.0" ry="0.7" fill="#3e3a94" transform="rotate(135 49.8 770.7)"/><ellipse cx="83.8" cy="766.7" rx="1.3" ry="0.7" fill="#3e3a94" transform="rotate(0 83.8 766.7)"/><ellipse cx="136.6" cy="794.4" rx="1.1" ry="0.8" fill="#5a56aa" transform="rotate(146 136.6 794.4)"/><ellipse cx="65.7" cy="721.3" rx="0.8" ry="0.6" fill="#6460b0" transform="rotate(47 65.7 721.3)"/><ellipse cx="54.5" cy="780.7" rx="1.0" ry="0.9" fill="#4a44a0" transform="rotate(43 54.5 780.7)"/><ellipse cx="148.0" cy="783.1" rx="1.2" ry="0.8" fill="#3e3a94" transform="rotate(120 148.0 783.1)"/><ellipse cx="92.7" cy="729.7" rx="0.9" ry="0.6" fill="#5a56aa" transform="rotate(28 92.7 729.7)"/><ellipse cx="116.1" cy="793.9" rx="1.0" ry="0.7" fill="#3e3a94" transform="rotate(26 116.1 793.9)"/><ellipse cx="123.1" cy="784.3" rx="1.3" ry="0.8" fill="#6460b0" transform="rotate(163 123.1 784.3)"/><ellipse cx="56.7" cy="760.7" rx="1.3" ry="0.9" fill="#3e3a94" transform="rotate(15 56.7 760.7)"/><ellipse cx="152.1" cy="779.5" rx="1.3" ry="0.8" fill="#4a44a0" transform="rotate(26 152.1 779.5)"/><ellipse cx="149.6" cy="718.1" rx="1.0" ry="0.9" fill="#5a56aa" transform="rotate(96 149.6 718.1)"/><ellipse cx="98.7" cy="729.5" rx="1.2" ry="0.7" fill="#4a44a0" transform="rotate(54 98.7 729.5)"/><ellipse cx="92.7" cy="775.1" rx="1.1" ry="0.7" fill="#4a44a0" transform="rotate(103 92.7 775.1)"/><ellipse cx="148.1" cy="797.4" rx="0.7" ry="0.7" fill="#3e3a94" transform="rotate(126 148.1 797.4)"/><ellipse cx="133.9" cy="771.7" rx="0.8" ry="0.6" fill="#4a44a0" transform="rotate(35 133.9 771.7)"/><ellipse cx="96.6" cy="781.1" rx="0.8" ry="0.7" fill="#4a44a0" transform="rotate(155 96.6 781.1)"/><ellipse cx="88.4" cy="788.6" rx="1.0" ry="0.9" fill="#3e3a94" transform="rotate(69 88.4 788.6)"/><ellipse cx="118.3" cy="783.6" rx="0.9" ry="0.7" fill="#4a44a0" transform="rotate(4 118.3 783.6)"/></g>
<g opacity="0.85" filter="url(#fb)"><ellipse cx="145.4" cy="777.7" rx="1.0" ry="0.6" fill="#b0703a" transform="rotate(88 145.4 777.7)"/><ellipse cx="100.2" cy="795.9" rx="1.2" ry="0.9" fill="#a87850" transform="rotate(124 100.2 795.9)"/><ellipse cx="127.8" cy="792.6" rx="1.2" ry="0.8" fill="#a87850" transform="rotate(172 127.8 792.6)"/><ellipse cx="94.6" cy="740.7" rx="1.0" ry="0.6" fill="#b0703a" transform="rotate(11 94.6 740.7)"/><ellipse cx="50.2" cy="790.3" rx="1.0" ry="0.7" fill="#b0703a" transform="rotate(27 50.2 790.3)"/><ellipse cx="140.5" cy="720.5" rx="0.9" ry="0.6" fill="#a87850" transform="rotate(161 140.5 720.5)"/><ellipse cx="83.5" cy="763.9" rx="0.9" ry="0.6" fill="#c08048" transform="rotate(70 83.5 763.9)"/><ellipse cx="63.9" cy="791.8" rx="0.8" ry="0.6" fill="#b0703a" transform="rotate(17 63.9 791.8)"/><ellipse cx="87.6" cy="797.2" rx="1.1" ry="0.8" fill="#a87850" transform="rotate(91 87.6 797.2)"/><ellipse cx="102.1" cy="789.6" rx="0.7" ry="0.6" fill="#b0703a" transform="rotate(76 102.1 789.6)"/><ellipse cx="149.5" cy="797.9" rx="1.0" ry="0.6" fill="#c08048" transform="rotate(165 149.5 797.9)"/><ellipse cx="78.0" cy="749.3" rx="1.3" ry="0.8" fill="#9a6034" transform="rotate(18 78.0 749.3)"/><ellipse cx="88.2" cy="740.5" rx="0.9" ry="0.6" fill="#a87850" transform="rotate(82 88.2 740.5)"/><ellipse cx="74.4" cy="770.3" rx="0.9" ry="0.6" fill="#a87850" transform="rotate(129 74.4 770.3)"/><ellipse cx="119.1" cy="774.1" rx="1.1" ry="0.7" fill="#a87850" transform="rotate(47 119.1 774.1)"/><ellipse cx="115.2" cy="780.8" rx="0.9" ry="0.8" fill="#c08048" transform="rotate(71 115.2 780.8)"/></g>
</g>
<g clip-path="url(#c21)">
<rect x="158.0" y="716.9" width="111.8" height="81.5" fill="#efe9ec"/>
<rect x="158.0" y="716.9" width="111.8" height="81.5" filter="url(#fd)" opacity="0.06"/>
<rect x="158.0" y="716.9" width="111.8" height="81.5" filter="url(#fl)" opacity="0.4"/>
<path d="M175.5 716.5L176.7 722.4L177.0 725.4L177.9 730.9L178.8 735.4L180.3 739.9L178.8 739.9L181.5 742.1L184.0 746.4L184.4 751.2L186.5 755.0L186.7 758.1L188.3 763.3L188.8 766.5L189.8 766.5L191.8 770.8L195.6 773.7L198.3 776.1L200.9 781.3L204.2 782.4L205.4 786.1L207.2 785.9L207.7 790.2L209.5 793.9L210.0 798.5" stroke="#fbf9fb" stroke-width="1.8" fill="none" stroke-linejoin="round"/>
<path d="M190.8 766.5L194.9 766.5L197.7 765.4L203.1 764.0L205.5 764.6L210.4 763.8L213.1 761.7L217.8 761.7L219.1 760.4L220.6 764.7L221.4 767.3L224.9 772.9L225.0 774.4L228.5 777.9" stroke="#fbf9fb" stroke-width="1.3" fill="none" stroke-linejoin="round"/>
<path d="M205.7 786.4L211.3 787.2L214.1 785.6L220.1 784.2L225.5 783.8L229.6 785.0L233.4 782.5L237.5 783.8" stroke="#fbf9fb" stroke-width="1.2" fill="none" stroke-linejoin="round"/>
<g opacity="0.95" filter="url(#fb)"><ellipse cx="206.6" cy="718.1" rx="0.9" ry="0.6" fill="#3e3a94" transform="rotate(155 206.6 718.1)"/><ellipse cx="258.8" cy="776.4" rx="1.0" ry="0.7" fill="#4a44a0" transform="rotate(144 258.8 776.4)"/><ellipse cx="182.4" cy="764.7" rx="1.1" ry="0.7" fill="#3e3a94" transform="rotate(48 182.4 764.7)"/><ellipse cx="246.6" cy="790.5" rx="1.3" ry="0.8" fill="#3e3a94" transform="rotate(175 246.6 790.5)"/><ellipse cx="178.4" cy="752.2" rx="1.0" ry="0.5" fill="#3e3a94" transform="rotate(99 178.4 752.2)"/><ellipse cx="252.0" cy="798.0" rx="1.1" ry="0.8" fill="#4a44a0" transform="rotate(55 252.0 798.0)"/><ellipse cx="205.4" cy="743.9" rx="1.0" ry="0.8" fill="#5a56aa" transform="rotate(172 205.4 743.9)"/><ellipse cx="266.8" cy="755.8" rx="0.9" ry="0.7" fill="#4a44a0" transform="rotate(139 266.8 755.8)"/><ellipse cx="167.8" cy="731.5" rx="1.4" ry="0.9" fill="#4a44a0" transform="rotate(111 167.8 731.5)"/><ellipse cx="257.4" cy="796.6" rx="1.0" ry="0.8" fill="#4a44a0" transform="rotate(57 257.4 796.6)"/><ellipse cx="220.9" cy="770.2" rx="1.1" ry="0.7" fill="#5a56aa" transform="rotate(23 220.9 770.2)"/><ellipse cx="269.3" cy="735.4" rx="1.4" ry="0.7" fill="#6460b0" transform="rotate(9 269.3 735.4)"/><ellipse cx="254.1" cy="726.6" rx="1.1" ry="0.7" fill="#4a44a0" transform="rotate(146 254.1 726.6)"/><ellipse cx="230.2" cy="727.2" rx="0.8" ry="0.6" fill="#6460b0" transform="rotate(177 230.2 727.2)"/><ellipse cx="188.5" cy="740.1" rx="1.0" ry="0.7" fill="#4a44a0" transform="rotate(33 188.5 740.1)"/><ellipse cx="250.1" cy="773.3" rx="0.9" ry="0.7" fill="#5a56aa" transform="rotate(110 250.1 773.3)"/><ellipse cx="192.9" cy="744.6" rx="0.9" ry="0.6" fill="#3e3a94" transform="rotate(174 192.9 744.6)"/><ellipse cx="176.1" cy="733.9" rx="1.2" ry="0.7" fill="#4a44a0" transform="rotate(83 176.1 733.9)"/><ellipse cx="199.7" cy="790.5" rx="0.9" ry="0.6" fill="#5a56aa" transform="rotate(85 199.7 790.5)"/><ellipse cx="264.5" cy="775.7" rx="1.0" ry="0.6" fill="#4a44a0" transform="rotate(159 264.5 775.7)"/><ellipse cx="220.8" cy="786.5" rx="0.9" ry="0.5" fill="#5a56aa" transform="rotate(64 220.8 786.5)"/><ellipse cx="211.2" cy="760.8" rx="1.0" ry="0.9" fill="#6460b0" transform="rotate(22 211.2 760.8)"/><ellipse cx="159.0" cy="761.3" rx="1.0" ry="0.6" fill="#6460b0" transform="rotate(123 159.0 761.3)"/><ellipse cx="254.5" cy="772.6" rx="0.8" ry="0.5" fill="#3e3a94" transform="rotate(71 254.5 772.6)"/><ellipse cx="223.6" cy="767.0" rx="1.1" ry="0.8" fill="#4a44a0" transform="rotate(82 223.6 767.0)"/><ellipse cx="230.6" cy="723.8" rx="0.9" ry="0.8" fill="#6460b0" transform="rotate(44 230.6 723.8)"/><ellipse cx="184.8" cy="771.3" rx="1.5" ry="0.8" fill="#3e3a94" transform="rotate(113 184.8 771.3)"/><ellipse cx="233.6" cy="734.9" rx="0.9" ry="0.7" fill="#5a56aa" transform="rotate(22 233.6 734.9)"/><ellipse cx="242.5" cy="763.2" rx="0.7" ry="0.6" fill="#5a56aa" transform="rotate(135 242.5 763.2)"/><ellipse cx="262.0" cy="787.4" rx="0.7" ry="0.5" fill="#4a44a0" transform="rotate(54 262.0 787.4)"/><ellipse cx="269.7" cy="748.3" rx="0.8" ry="0.6" fill="#5a56aa" transform="rotate(57 269.7 748.3)"/><ellipse cx="160.4" cy="770.2" rx="0.9" ry="0.8" fill="#5a56aa" transform="rotate(131 160.4 770.2)"/><ellipse cx="247.8" cy="789.0" rx="1.3" ry="0.8" fill="#3e3a94" transform="rotate(87 247.8 789.0)"/><ellipse cx="252.9" cy="735.8" rx="1.0" ry="0.7" fill="#6460b0" transform="rotate(72 252.9 735.8)"/><ellipse cx="233.2" cy="737.5" rx="1.2" ry="0.8" fill="#6460b0" transform="rotate(159 233.2 737.5)"/><ellipse cx="256.6" cy="777.3" rx="0.9" ry="0.7" fill="#6460b0" transform="rotate(135 256.6 777.3)"/><ellipse cx="211.8" cy="784.4" rx="1.4" ry="0.9" fill="#4a44a0" transform="rotate(1 211.8 784.4)"/><ellipse cx="211.5" cy="768.2" rx="1.0" ry="0.7" fill="#4a44a0" transform="rotate(96 211.5 768.2)"/><ellipse cx="205.3" cy="756.3" rx="1.5" ry="0.8" fill="#6460b0" transform="rotate(13 205.3 756.3)"/><ellipse cx="175.9" cy="792.2" rx="1.0" ry="0.9" fill="#3e3a94" transform="rotate(87 175.9 792.2)"/><ellipse cx="160.0" cy="746.3" rx="1.2" ry="0.7" fill="#6460b0" transform="rotate(51 160.0 746.3)"/><ellipse cx="175.4" cy="757.4" rx="0.9" ry="0.6" fill="#3e3a94" transform="rotate(29 175.4 757.4)"/><ellipse cx="176.2" cy="778.2" rx="1.2" ry="0.8" fill="#5a56aa" transform="rotate(147 176.2 778.2)"/><ellipse cx="163.2" cy="723.1" rx="1.3" ry="0.8" fill="#3e3a94" transform="rotate(108 163.2 723.1)"/><ellipse cx="215.7" cy="749.0" rx="1.1" ry="0.9" fill="#4a44a0" transform="rotate(123 215.7 749.0)"/><ellipse cx="248.5" cy="720.8" rx="1.1" ry="0.8" fill="#4a44a0" transform="rotate(91 248.5 720.8)"/><ellipse cx="218.6" cy="796.6" rx="0.7" ry="0.7" fill="#6460b0" transform="rotate(1 218.6 796.6)"/><ellipse cx="193.9" cy="791.9" rx="1.3" ry="0.8" fill="#6460b0" transform="rotate(158 193.9 791.9)"/><ellipse cx="223.8" cy="786.1" rx="0.9" ry="0.7" fill="#3e3a94" transform="rotate(100 223.8 786.1)"/><ellipse cx="233.5" cy="744.4" rx="1.1" ry="0.9" fill="#6460b0" transform="rotate(12 233.5 744.4)"/><ellipse cx="252.8" cy="772.4" rx="0.9" ry="0.6" fill="#6460b0" transform="rotate(162 252.8 772.4)"/><ellipse cx="258.4" cy="755.9" rx="1.2" ry="0.9" fill="#6460b0" transform="rotate(157 258.4 755.9)"/><ellipse cx="263.5" cy="778.9" rx="1.0" ry="0.7" fill="#4a44a0" transform="rotate(42 263.5 778.9)"/><ellipse cx="215.1" cy="769.2" rx="1.2" ry="0.7" fill="#6460b0" transform="rotate(66 215.1 769.2)"/><ellipse cx="176.2" cy="754.5" rx="0.7" ry="0.6" fill="#5a56aa" transform="rotate(67 176.2 754.5)"/><ellipse cx="268.3" cy="797.6" rx="1.0" ry="0.8" fill="#4a44a0" transform="rotate(31 268.3 797.6)"/><ellipse cx="185.9" cy="742.3" rx="1.1" ry="0.9" fill="#3e3a94" transform="rotate(130 185.9 742.3)"/><ellipse cx="209.1" cy="765.3" rx="1.1" ry="0.8" fill="#4a44a0" transform="rotate(25 209.1 765.3)"/><ellipse cx="185.0" cy="733.2" rx="1.1" ry="0.7" fill="#5a56aa" transform="rotate(78 185.0 733.2)"/><ellipse cx="195.0" cy="764.7" rx="1.5" ry="0.9" fill="#4a44a0" transform="rotate(150 195.0 764.7)"/></g>
<g opacity="0.9" filter="url(#fb)"><ellipse cx="198.8" cy="747.2" rx="0.8" ry="0.6" fill="#b0703a" transform="rotate(15 198.8 747.2)"/><ellipse cx="166.8" cy="721.1" rx="0.8" ry="0.6" fill="#9a6034" transform="rotate(69 166.8 721.1)"/><ellipse cx="222.7" cy="783.1" rx="1.2" ry="0.8" fill="#9a6034" transform="rotate(178 222.7 783.1)"/><ellipse cx="206.3" cy="718.2" rx="0.9" ry="0.7" fill="#9a6034" transform="rotate(121 206.3 718.2)"/><ellipse cx="264.4" cy="731.8" rx="1.4" ry="0.8" fill="#a87850" transform="rotate(57 264.4 731.8)"/><ellipse cx="244.2" cy="732.5" rx="1.0" ry="0.7" fill="#a87850" transform="rotate(172 244.2 732.5)"/><ellipse cx="194.0" cy="717.4" rx="0.9" ry="0.7" fill="#9a6034" transform="rotate(52 194.0 717.4)"/><ellipse cx="218.6" cy="756.9" rx="1.0" ry="0.6" fill="#b0703a" transform="rotate(91 218.6 756.9)"/><ellipse cx="245.0" cy="792.0" rx="0.8" ry="0.5" fill="#a87850" transform="rotate(138 245.0 792.0)"/><ellipse cx="233.3" cy="756.0" rx="0.9" ry="0.7" fill="#a87850" transform="rotate(79 233.3 756.0)"/><ellipse cx="206.8" cy="734.3" rx="0.9" ry="0.6" fill="#9a6034" transform="rotate(99 206.8 734.3)"/><ellipse cx="171.6" cy="760.7" rx="1.0" ry="0.8" fill="#a87850" transform="rotate(33 171.6 760.7)"/><ellipse cx="201.2" cy="734.9" rx="1.1" ry="0.5" fill="#b0703a" transform="rotate(123 201.2 734.9)"/><ellipse cx="219.2" cy="733.2" rx="1.0" ry="0.9" fill="#a87850" transform="rotate(130 219.2 733.2)"/><ellipse cx="183.4" cy="778.8" rx="1.0" ry="0.7" fill="#a87850" transform="rotate(138 183.4 778.8)"/><ellipse cx="187.9" cy="745.1" rx="1.1" ry="0.8" fill="#b0703a" transform="rotate(15 187.9 745.1)"/><ellipse cx="214.3" cy="780.4" rx="1.3" ry="0.7" fill="#c08048" transform="rotate(62 214.3 780.4)"/><ellipse cx="268.8" cy="760.2" rx="0.8" ry="0.5" fill="#c08048" transform="rotate(3 268.8 760.2)"/><ellipse cx="254.3" cy="766.7" rx="1.0" ry="0.7" fill="#a87850" transform="rotate(96 254.3 766.7)"/><ellipse cx="267.9" cy="750.8" rx="1.1" ry="0.9" fill="#c08048" transform="rotate(48 267.9 750.8)"/><ellipse cx="227.2" cy="762.1" rx="1.3" ry="0.9" fill="#b0703a" transform="rotate(29 227.2 762.1)"/><ellipse cx="200.3" cy="782.8" rx="1.1" ry="0.7" fill="#b0703a" transform="rotate(134 200.3 782.8)"/><ellipse cx="253.8" cy="783.2" rx="0.9" ry="0.7" fill="#a87850" transform="rotate(163 253.8 783.2)"/><ellipse cx="226.4" cy="742.8" rx="0.9" ry="0.6" fill="#b0703a" transform="rotate(12 226.4 742.8)"/><ellipse cx="205.2" cy="752.4" rx="1.1" ry="0.7" fill="#9a6034" transform="rotate(71 205.2 752.4)"/><ellipse cx="259.0" cy="770.6" rx="0.8" ry="0.5" fill="#c08048" transform="rotate(76 259.0 770.6)"/><ellipse cx="224.7" cy="790.4" rx="1.0" ry="0.5" fill="#9a6034" transform="rotate(169 224.7 790.4)"/><ellipse cx="260.4" cy="773.2" rx="0.8" ry="0.5" fill="#a87850" transform="rotate(62 260.4 773.2)"/><ellipse cx="227.4" cy="735.7" rx="0.8" ry="0.5" fill="#9a6034" transform="rotate(5 227.4 735.7)"/><ellipse cx="265.1" cy="757.9" rx="1.2" ry="0.6" fill="#9a6034" transform="rotate(85 265.1 757.9)"/><ellipse cx="178.2" cy="777.6" rx="0.9" ry="0.8" fill="#a87850" transform="rotate(17 178.2 777.6)"/><ellipse cx="244.1" cy="759.1" rx="0.7" ry="0.6" fill="#9a6034" transform="rotate(122 244.1 759.1)"/><ellipse cx="196.4" cy="731.9" rx="1.4" ry="0.7" fill="#b0703a" transform="rotate(137 196.4 731.9)"/><ellipse cx="242.6" cy="791.9" rx="0.6" ry="0.6" fill="#b0703a" transform="rotate(67 242.6 791.9)"/><ellipse cx="163.9" cy="769.8" rx="1.1" ry="0.8" fill="#c08048" transform="rotate(46 163.9 769.8)"/><ellipse cx="241.4" cy="772.3" rx="1.0" ry="0.8" fill="#9a6034" transform="rotate(144 241.4 772.3)"/><ellipse cx="218.9" cy="782.5" rx="1.3" ry="0.8" fill="#c08048" transform="rotate(58 218.9 782.5)"/><ellipse cx="205.5" cy="718.0" rx="1.2" ry="0.8" fill="#9a6034" transform="rotate(176 205.5 718.0)"/><ellipse cx="230.2" cy="743.4" rx="1.2" ry="0.7" fill="#b0703a" transform="rotate(135 230.2 743.4)"/><ellipse cx="174.6" cy="774.7" rx="0.7" ry="0.5" fill="#a87850" transform="rotate(150 174.6 774.7)"/><ellipse cx="246.8" cy="741.8" rx="0.9" ry="0.6" fill="#9a6034" transform="rotate(44 246.8 741.8)"/><ellipse cx="263.9" cy="798.3" rx="1.0" ry="0.9" fill="#9a6034" transform="rotate(54 263.9 798.3)"/><ellipse cx="247.9" cy="788.7" rx="1.1" ry="0.8" fill="#9a6034" transform="rotate(46 247.9 788.7)"/><ellipse cx="215.3" cy="734.1" rx="0.7" ry="0.6" fill="#9a6034" transform="rotate(83 215.3 734.1)"/><ellipse cx="222.2" cy="787.6" rx="1.0" ry="0.5" fill="#9a6034" transform="rotate(158 222.2 787.6)"/><ellipse cx="196.2" cy="792.1" rx="1.4" ry="0.8" fill="#c08048" transform="rotate(30 196.2 792.1)"/><ellipse cx="203.8" cy="745.8" rx="1.0" ry="0.6" fill="#a87850" transform="rotate(49 203.8 745.8)"/><ellipse cx="247.6" cy="748.7" rx="0.9" ry="0.7" fill="#9a6034" transform="rotate(13 247.6 748.7)"/><ellipse cx="195.7" cy="725.2" rx="1.0" ry="0.5" fill="#a87850" transform="rotate(129 195.7 725.2)"/><ellipse cx="205.5" cy="776.0" rx="1.1" ry="0.7" fill="#9a6034" transform="rotate(15 205.5 776.0)"/><ellipse cx="220.9" cy="725.7" rx="0.9" ry="0.7" fill="#a87850" transform="rotate(150 220.9 725.7)"/><ellipse cx="262.9" cy="784.5" rx="1.1" ry="0.6" fill="#b0703a" transform="rotate(103 262.9 784.5)"/><ellipse cx="252.4" cy="739.7" rx="1.1" ry="0.7" fill="#c08048" transform="rotate(42 252.4 739.7)"/><ellipse cx="234.6" cy="761.1" rx="1.0" ry="0.8" fill="#b0703a" transform="rotate(69 234.6 761.1)"/><ellipse cx="233.8" cy="747.0" rx="1.2" ry="0.8" fill="#c08048" transform="rotate(115 233.8 747.0)"/><ellipse cx="220.7" cy="757.1" rx="0.9" ry="0.8" fill="#9a6034" transform="rotate(115 220.7 757.1)"/><ellipse cx="211.4" cy="767.3" rx="1.2" ry="0.9" fill="#b0703a" transform="rotate(154 211.4 767.3)"/><ellipse cx="244.8" cy="721.2" rx="0.7" ry="0.6" fill="#b0703a" transform="rotate(3 244.8 721.2)"/><ellipse cx="179.7" cy="719.6" rx="1.0" ry="0.8" fill="#9a6034" transform="rotate(93 179.7 719.6)"/><ellipse cx="228.0" cy="725.2" rx="1.2" ry="0.8" fill="#c08048" transform="rotate(27 228.0 725.2)"/><ellipse cx="238.0" cy="718.8" rx="0.9" ry="0.8" fill="#9a6034" transform="rotate(82 238.0 718.8)"/><ellipse cx="178.5" cy="721.7" rx="1.0" ry="0.6" fill="#b0703a" transform="rotate(110 178.5 721.7)"/><ellipse cx="185.0" cy="792.5" rx="0.8" ry="0.7" fill="#9a6034" transform="rotate(30 185.0 792.5)"/><ellipse cx="224.8" cy="789.7" rx="1.3" ry="0.8" fill="#c08048" transform="rotate(150 224.8 789.7)"/><ellipse cx="174.4" cy="774.6" rx="0.9" ry="0.8" fill="#b0703a" transform="rotate(108 174.4 774.6)"/></g>
</g>
<g clip-path="url(#c22)">
<rect x="273.7" y="716.9" width="111.2" height="81.5" fill="#efeaee"/>
<rect x="273.7" y="716.9" width="111.2" height="81.5" filter="url(#fd)" opacity="0.06"/>
<rect x="273.7" y="716.9" width="111.2" height="81.5" filter="url(#fl)" opacity="0.4"/>
<path d="M327.9 766.3L332.2 768.1L335.4 769.7L339.2 774.1L343.1 775.0L345.7 777.4L348.5 779.6L349.3 779.0L350.1 782.7L353.6 787.7L353.7 790.7L356.6 795.5L358.5 798.3" stroke="#fbf9fb" stroke-width="1.4" fill="none" stroke-linejoin="round"/>
<path d="M272.8 783.7L276.8 784.0L282.0 784.2L286.9 782.6L290.2 782.1L295.1 781.7L299.8 779.6L304.2 780.1" stroke="#fbf9fb" stroke-width="1.1" fill="none" stroke-linejoin="round"/>
<g opacity="0.9" filter="url(#fb)"><ellipse cx="284.4" cy="763.8" rx="1.0" ry="0.7" fill="#4a44a0" transform="rotate(54 284.4 763.8)"/><ellipse cx="346.2" cy="747.3" rx="1.2" ry="0.7" fill="#5a56aa" transform="rotate(105 346.2 747.3)"/><ellipse cx="315.2" cy="797.0" rx="0.9" ry="0.6" fill="#5a56aa" transform="rotate(121 315.2 797.0)"/><ellipse cx="314.6" cy="751.5" rx="0.9" ry="0.7" fill="#6460b0" transform="rotate(105 314.6 751.5)"/><ellipse cx="282.0" cy="733.2" rx="1.2" ry="0.8" fill="#6460b0" transform="rotate(8 282.0 733.2)"/><ellipse cx="376.4" cy="745.4" rx="1.2" ry="0.7" fill="#4a44a0" transform="rotate(132 376.4 745.4)"/><ellipse cx="293.0" cy="720.2" rx="1.0" ry="0.6" fill="#6460b0" transform="rotate(54 293.0 720.2)"/><ellipse cx="339.1" cy="727.4" rx="0.7" ry="0.5" fill="#3e3a94" transform="rotate(74 339.1 727.4)"/><ellipse cx="354.6" cy="787.5" rx="1.0" ry="0.7" fill="#4a44a0" transform="rotate(58 354.6 787.5)"/><ellipse cx="334.6" cy="741.4" rx="0.9" ry="0.8" fill="#6460b0" transform="rotate(45 334.6 741.4)"/><ellipse cx="320.1" cy="731.9" rx="1.3" ry="0.7" fill="#6460b0" transform="rotate(144 320.1 731.9)"/><ellipse cx="278.0" cy="728.1" rx="0.8" ry="0.5" fill="#4a44a0" transform="rotate(43 278.0 728.1)"/><ellipse cx="366.7" cy="749.9" rx="1.1" ry="0.7" fill="#6460b0" transform="rotate(25 366.7 749.9)"/><ellipse cx="354.6" cy="764.4" rx="1.1" ry="0.7" fill="#5a56aa" transform="rotate(155 354.6 764.4)"/><ellipse cx="325.7" cy="780.1" rx="0.9" ry="0.6" fill="#4a44a0" transform="rotate(110 325.7 780.1)"/><ellipse cx="311.6" cy="781.6" rx="1.1" ry="0.7" fill="#6460b0" transform="rotate(124 311.6 781.6)"/><ellipse cx="335.7" cy="783.8" rx="1.1" ry="0.6" fill="#3e3a94" transform="rotate(131 335.7 783.8)"/><ellipse cx="356.6" cy="723.3" rx="0.9" ry="0.7" fill="#6460b0" transform="rotate(59 356.6 723.3)"/><ellipse cx="380.1" cy="766.8" rx="1.1" ry="0.7" fill="#6460b0" transform="rotate(14 380.1 766.8)"/><ellipse cx="291.6" cy="758.2" rx="1.0" ry="0.8" fill="#4a44a0" transform="rotate(68 291.6 758.2)"/><ellipse cx="372.6" cy="775.9" rx="1.0" ry="0.7" fill="#4a44a0" transform="rotate(10 372.6 775.9)"/><ellipse cx="314.0" cy="793.5" rx="1.2" ry="0.7" fill="#3e3a94" transform="rotate(27 314.0 793.5)"/><ellipse cx="354.6" cy="766.5" rx="1.1" ry="0.8" fill="#6460b0" transform="rotate(53 354.6 766.5)"/><ellipse cx="357.3" cy="770.8" rx="1.1" ry="0.7" fill="#6460b0" transform="rotate(55 357.3 770.8)"/><ellipse cx="329.4" cy="791.9" rx="1.2" ry="0.7" fill="#4a44a0" transform="rotate(10 329.4 791.9)"/><ellipse cx="339.0" cy="727.2" rx="1.3" ry="0.8" fill="#6460b0" transform="rotate(1 339.0 727.2)"/><ellipse cx="380.4" cy="791.6" rx="0.8" ry="0.5" fill="#6460b0" transform="rotate(153 380.4 791.6)"/><ellipse cx="384.6" cy="757.7" rx="1.3" ry="0.8" fill="#3e3a94" transform="rotate(96 384.6 757.7)"/><ellipse cx="276.8" cy="717.0" rx="1.1" ry="0.6" fill="#6460b0" transform="rotate(62 276.8 717.0)"/><ellipse cx="346.9" cy="738.3" rx="0.7" ry="0.6" fill="#5a56aa" transform="rotate(16 346.9 738.3)"/><ellipse cx="346.7" cy="730.1" rx="1.0" ry="0.6" fill="#3e3a94" transform="rotate(68 346.7 730.1)"/><ellipse cx="283.8" cy="790.6" rx="1.1" ry="0.8" fill="#6460b0" transform="rotate(156 283.8 790.6)"/><ellipse cx="334.7" cy="792.6" rx="1.0" ry="0.7" fill="#5a56aa" transform="rotate(32 334.7 792.6)"/><ellipse cx="354.1" cy="742.2" rx="1.3" ry="0.8" fill="#6460b0" transform="rotate(145 354.1 742.2)"/><ellipse cx="379.3" cy="760.8" rx="1.0" ry="0.9" fill="#4a44a0" transform="rotate(6 379.3 760.8)"/><ellipse cx="349.1" cy="746.3" rx="1.1" ry="0.6" fill="#3e3a94" transform="rotate(114 349.1 746.3)"/><ellipse cx="379.2" cy="772.6" rx="1.2" ry="0.8" fill="#4a44a0" transform="rotate(67 379.2 772.6)"/><ellipse cx="365.8" cy="763.9" rx="0.9" ry="0.6" fill="#4a44a0" transform="rotate(87 365.8 763.9)"/><ellipse cx="339.1" cy="791.9" rx="1.0" ry="0.5" fill="#4a44a0" transform="rotate(48 339.1 791.9)"/><ellipse cx="329.3" cy="773.7" rx="0.9" ry="0.7" fill="#4a44a0" transform="rotate(57 329.3 773.7)"/><ellipse cx="383.6" cy="739.9" rx="0.8" ry="0.7" fill="#3e3a94" transform="rotate(123 383.6 739.9)"/><ellipse cx="277.8" cy="784.5" rx="1.5" ry="0.8" fill="#4a44a0" transform="rotate(25 277.8 784.5)"/><ellipse cx="382.8" cy="781.8" rx="1.0" ry="0.5" fill="#6460b0" transform="rotate(101 382.8 781.8)"/><ellipse cx="323.7" cy="756.2" rx="1.1" ry="0.8" fill="#6460b0" transform="rotate(54 323.7 756.2)"/><ellipse cx="336.3" cy="764.8" rx="1.2" ry="0.7" fill="#6460b0" transform="rotate(28 336.3 764.8)"/><ellipse cx="379.2" cy="786.4" rx="1.0" ry="0.8" fill="#5a56aa" transform="rotate(7 379.2 786.4)"/><ellipse cx="310.1" cy="727.9" rx="1.1" ry="0.8" fill="#3e3a94" transform="rotate(79 310.1 727.9)"/><ellipse cx="347.9" cy="721.0" rx="0.7" ry="0.6" fill="#5a56aa" transform="rotate(113 347.9 721.0)"/><ellipse cx="340.0" cy="761.8" rx="1.5" ry="0.9" fill="#5a56aa" transform="rotate(71 340.0 761.8)"/><ellipse cx="376.9" cy="752.5" rx="1.1" ry="0.7" fill="#5a56aa" transform="rotate(170 376.9 752.5)"/><ellipse cx="373.1" cy="744.5" rx="1.0" ry="0.8" fill="#4a44a0" transform="rotate(68 373.1 744.5)"/><ellipse cx="382.2" cy="790.4" rx="1.0" ry="0.6" fill="#3e3a94" transform="rotate(165 382.2 790.4)"/><ellipse cx="367.0" cy="775.7" rx="0.9" ry="0.8" fill="#3e3a94" transform="rotate(121 367.0 775.7)"/><ellipse cx="313.7" cy="747.2" rx="0.9" ry="0.7" fill="#5a56aa" transform="rotate(179 313.7 747.2)"/><ellipse cx="289.1" cy="785.1" rx="1.0" ry="0.6" fill="#5a56aa" transform="rotate(20 289.1 785.1)"/><ellipse cx="303.6" cy="797.6" rx="0.9" ry="0.6" fill="#3e3a94" transform="rotate(174 303.6 797.6)"/><ellipse cx="326.6" cy="726.5" rx="0.9" ry="0.7" fill="#4a44a0" transform="rotate(133 326.6 726.5)"/><ellipse cx="298.0" cy="770.7" rx="0.9" ry="0.5" fill="#3e3a94" transform="rotate(4 298.0 770.7)"/><ellipse cx="318.1" cy="752.0" rx="1.2" ry="0.8" fill="#6460b0" transform="rotate(119 318.1 752.0)"/><ellipse cx="339.9" cy="747.5" rx="0.8" ry="0.8" fill="#4a44a0" transform="rotate(158 339.9 747.5)"/><ellipse cx="309.2" cy="780.4" rx="1.1" ry="0.7" fill="#3e3a94" transform="rotate(161 309.2 780.4)"/><ellipse cx="343.5" cy="752.5" rx="0.9" ry="0.8" fill="#3e3a94" transform="rotate(63 343.5 752.5)"/><ellipse cx="350.8" cy="738.2" rx="1.4" ry="0.8" fill="#4a44a0" transform="rotate(131 350.8 738.2)"/><ellipse cx="321.7" cy="727.2" rx="1.4" ry="0.8" fill="#3e3a94" transform="rotate(53 321.7 727.2)"/><ellipse cx="335.0" cy="788.0" rx="0.8" ry="0.6" fill="#3e3a94" transform="rotate(177 335.0 788.0)"/><ellipse cx="341.6" cy="772.9" rx="0.8" ry="0.6" fill="#3e3a94" transform="rotate(44 341.6 772.9)"/><ellipse cx="377.8" cy="797.9" rx="0.7" ry="0.6" fill="#6460b0" transform="rotate(129 377.8 797.9)"/><ellipse cx="337.3" cy="797.9" rx="0.9" ry="0.8" fill="#4a44a0" transform="rotate(117 337.3 797.9)"/><ellipse cx="274.0" cy="724.4" rx="0.9" ry="0.7" fill="#6460b0" transform="rotate(2 274.0 724.4)"/><ellipse cx="377.5" cy="782.3" rx="1.0" ry="0.6" fill="#6460b0" transform="rotate(164 377.5 782.3)"/><ellipse cx="323.5" cy="788.3" rx="1.1" ry="0.6" fill="#4a44a0" transform="rotate(24 323.5 788.3)"/><ellipse cx="359.6" cy="735.8" rx="1.1" ry="0.7" fill="#6460b0" transform="rotate(148 359.6 735.8)"/><ellipse cx="281.2" cy="747.6" rx="0.9" ry="0.6" fill="#3e3a94" transform="rotate(44 281.2 747.6)"/><ellipse cx="306.2" cy="739.0" rx="1.2" ry="0.8" fill="#6460b0" transform="rotate(117 306.2 739.0)"/><ellipse cx="331.8" cy="784.8" rx="0.9" ry="0.8" fill="#5a56aa" transform="rotate(121 331.8 784.8)"/></g>
<g opacity="0.85" filter="url(#fb)"><ellipse cx="274.2" cy="757.9" rx="1.1" ry="0.7" fill="#6a4028" transform="rotate(85 274.2 757.9)"/><ellipse cx="332.0" cy="744.2" rx="0.7" ry="0.6" fill="#a0683a" transform="rotate(5 332.0 744.2)"/><ellipse cx="326.4" cy="742.5" rx="1.5" ry="0.8" fill="#6a4028" transform="rotate(60 326.4 742.5)"/><ellipse cx="284.4" cy="797.5" rx="1.0" ry="0.8" fill="#8a5a30" transform="rotate(15 284.4 797.5)"/><ellipse cx="336.5" cy="764.3" rx="1.0" ry="0.6" fill="#a0683a" transform="rotate(10 336.5 764.3)"/><ellipse cx="324.5" cy="761.9" rx="1.0" ry="0.6" fill="#8a5a30" transform="rotate(94 324.5 761.9)"/><ellipse cx="301.1" cy="750.8" rx="1.5" ry="0.9" fill="#8a5a30" transform="rotate(38 301.1 750.8)"/><ellipse cx="282.7" cy="773.2" rx="1.2" ry="0.8" fill="#8a5a30" transform="rotate(149 282.7 773.2)"/><ellipse cx="281.4" cy="748.4" rx="1.1" ry="0.8" fill="#a0683a" transform="rotate(72 281.4 748.4)"/><ellipse cx="323.4" cy="754.8" rx="1.3" ry="0.8" fill="#8a5a30" transform="rotate(104 323.4 754.8)"/><ellipse cx="294.6" cy="757.7" rx="1.1" ry="0.7" fill="#8a5a30" transform="rotate(25 294.6 757.7)"/><ellipse cx="319.8" cy="763.9" rx="1.0" ry="0.6" fill="#6a4028" transform="rotate(70 319.8 763.9)"/><ellipse cx="307.2" cy="763.9" rx="0.8" ry="0.6" fill="#8a5a30" transform="rotate(36 307.2 763.9)"/><ellipse cx="302.6" cy="781.6" rx="1.0" ry="0.6" fill="#8a5a30" transform="rotate(149 302.6 781.6)"/><ellipse cx="278.7" cy="744.6" rx="0.7" ry="0.5" fill="#8a5a30" transform="rotate(30 278.7 744.6)"/><ellipse cx="329.0" cy="778.9" rx="1.0" ry="0.8" fill="#6a4028" transform="rotate(11 329.0 778.9)"/><ellipse cx="275.6" cy="777.2" rx="1.0" ry="0.5" fill="#a0683a" transform="rotate(91 275.6 777.2)"/><ellipse cx="286.4" cy="755.3" rx="0.8" ry="0.6" fill="#a0683a" transform="rotate(144 286.4 755.3)"/><ellipse cx="334.3" cy="769.9" rx="0.8" ry="0.6" fill="#6a4028" transform="rotate(2 334.3 769.9)"/><ellipse cx="319.3" cy="748.8" rx="1.0" ry="0.8" fill="#8a5a30" transform="rotate(118 319.3 748.8)"/><ellipse cx="322.4" cy="752.7" rx="0.9" ry="0.6" fill="#6a4028" transform="rotate(158 322.4 752.7)"/><ellipse cx="328.6" cy="742.4" rx="1.2" ry="0.7" fill="#8a5a30" transform="rotate(131 328.6 742.4)"/></g>
</g>
<rect x="41.6" y="542.4" width="343.7" height="84.2" fill="none" stroke="#f0902a" stroke-width="1.4"/>
<rect x="41.6" y="629.9" width="343.7" height="83.2" fill="none" stroke="#f0902a" stroke-width="1.4"/>
<rect x="41.6" y="716.2" width="343.7" height="82.9" fill="none" stroke="#f0902a" stroke-width="1.4"/>
<text x="375.20" y="621.80" font-size="6" text-anchor="middle" fill="#111">20 μm</text>
<line x1="371.00" y1="615.90" x2="377.80" y2="615.90" stroke="#000" stroke-width="1.1"/>
<text x="375.20" y="708.30" font-size="6" text-anchor="middle" fill="#111">20 μm</text>
<line x1="371.00" y1="702.40" x2="377.80" y2="702.40" stroke="#000" stroke-width="1.1"/>
<text x="375.20" y="794.30" font-size="6" text-anchor="middle" fill="#111">20 μm</text>
<line x1="371.00" y1="788.40" x2="377.80" y2="788.40" stroke="#000" stroke-width="1.1"/>
<text x="27.80" y="587.20" font-size="10" text-anchor="middle" transform="rotate(-90 27.80 587.20)">Cerebral cortex</text>
<text x="27.80" y="676.30" font-size="10" text-anchor="middle" transform="rotate(-90 27.80 676.30)">Hippocampus</text>
<text x="28.80" y="764.40" font-size="10.2" text-anchor="middle" transform="rotate(-90 28.80 764.40)">Cerebellum</text>
<path d="M432.6 615.2V725.0M427.2 725.0H604.9M427.2 725.0H432.6M427.2 703.1H432.6M427.2 681.2H432.6M427.2 659.3H432.6M427.2 637.4H432.6M427.2 615.5H432.6M459.2 725.0v4.5M517.9 725.0v4.5M576.6 725.0v4.5" stroke="#111" stroke-width="1.2" fill="none"/>
<text x="424.40" y="729.20" font-size="10.6" text-anchor="end">0</text>
<text x="424.40" y="707.30" font-size="10.6" text-anchor="end">5</text>
<text x="424.40" y="685.40" font-size="10.6" text-anchor="end">10</text>
<text x="424.40" y="663.50" font-size="10.6" text-anchor="end">15</text>
<text x="424.40" y="641.60" font-size="10.6" text-anchor="end">20</text>
<text x="424.40" y="619.70" font-size="10.6" text-anchor="end">25</text>
<text x="406.00" y="666.00" font-size="10.5" text-anchor="middle" transform="rotate(-90 406.00 666.00)">E2F2 positive cells (%)</text>
<path d="M443.2 704.2V702.2M440.2 702.2h6" stroke="#000" stroke-width="1.1" fill="none"/>
<rect x="438.1" y="704.2" width="10.3" height="20.8" fill="#000"/>
<path d="M459.2 645.3V641.3M456.2 641.3h6" stroke="#000" stroke-width="1.1" fill="none"/>
<rect x="454.7" y="645.8" width="9.2" height="79.2" fill="#9a9a9a" stroke="#000" stroke-width="1.1"/>
<path d="M475.2 690.0V687.3M472.2 687.3h6" stroke="#000" stroke-width="1.1" fill="none"/>
<rect x="470.1" y="690.0" width="10.3" height="35.0" fill="#d3d3d3"/>
<path d="M501.9 711.9V709.9M498.9 709.9h6" stroke="#000" stroke-width="1.1" fill="none"/>
<rect x="496.8" y="711.9" width="10.3" height="13.1" fill="#000"/>
<path d="M517.9 709.7V707.0M514.9 707.0h6" stroke="#000" stroke-width="1.1" fill="none"/>
<rect x="513.3" y="710.2" width="9.2" height="14.8" fill="#9a9a9a" stroke="#000" stroke-width="1.1"/>
<path d="M533.9 707.0V706.4M530.9 706.4h6" stroke="#000" stroke-width="1.1" fill="none"/>
<rect x="528.8" y="707.0" width="10.3" height="18.0" fill="#d3d3d3"/>
<path d="M560.6 705.0V702.9M557.6 702.9h6" stroke="#000" stroke-width="1.1" fill="none"/>
<rect x="555.5" y="705.0" width="10.3" height="20.0" fill="#000"/>
<path d="M576.6 691.4V688.4M573.6 688.4h6" stroke="#000" stroke-width="1.1" fill="none"/>
<rect x="572.0" y="692.0" width="9.2" height="33.0" fill="#9a9a9a" stroke="#000" stroke-width="1.1"/>
<path d="M592.6 696.1V695.0M589.6 695.0h6" stroke="#000" stroke-width="1.1" fill="none"/>
<rect x="587.5" y="696.1" width="10.3" height="28.9" fill="#d3d3d3"/>
<path d="M443.2 615.8V590.3H475.2V596.6M459.2 615.8V609.5H475.2V681.0M443.2 697.0V628.5H459.2V635.3" stroke="#111" stroke-width="1.15" fill="none"/>
<text x="459.50" y="585.90" font-size="5.5" text-anchor="middle">P = 0.0003</text>
<text x="467.30" y="604.70" font-size="5.5" text-anchor="middle">P &lt; 0.0001</text>
<text x="451.30" y="623.70" font-size="5.5" text-anchor="middle">P &lt; 0.0001</text>
<path d="M501.9 615.8V590.3H534.0V596.6M518.0 615.8V609.5H534.0V700.5M501.9 703.8V628.5H518.0V700.5" stroke="#111" stroke-width="1.15" fill="none"/>
<text x="518.20" y="585.90" font-size="5.5" text-anchor="middle">P = 0.3949</text>
<text x="526.00" y="604.70" font-size="5.5" text-anchor="middle">P = 0.8734</text>
<text x="510.00" y="623.70" font-size="5.5" text-anchor="middle">P = 0.6942</text>
<path d="M560.6 615.8V590.3H592.6V596.6M576.6 615.8V609.5H592.6V692.0M560.6 697.6V628.5H576.6V681.6" stroke="#111" stroke-width="1.15" fill="none"/>
<text x="576.90" y="585.90" font-size="5.5" text-anchor="middle">P = 0.0255</text>
<text x="584.70" y="604.70" font-size="5.5" text-anchor="middle">P = 0.2281</text>
<text x="568.70" y="623.70" font-size="5.5" text-anchor="middle">P = 0.0002</text>
<text x="461.00" y="735.50" font-size="10.6" text-anchor="end" transform="rotate(-44 461.00 735.50)">Cerebral cortex</text>
<text x="519.70" y="735.50" font-size="10.6" text-anchor="end" transform="rotate(-44 519.70 735.50)">Hippocampus</text>
<text x="578.40" y="735.50" font-size="10.6" text-anchor="end" transform="rotate(-44 578.40 735.50)">Cerebellum</text>
<rect x="611.7" y="671.3" width="11.3" height="5.1" fill="#000"/>
<rect x="612.3" y="686.3" width="10.1" height="4.3" fill="#9a9a9a" stroke="#000" stroke-width="1.1"/>
<rect x="611.7" y="700.3" width="11.3" height="4.8" fill="#d3d3d3"/>
<text x="626.80" y="676.60" font-size="10.4">Ctrl</text>
<text x="626.80" y="690.90" font-size="10.4">Dep</text>
<text x="626.80" y="705.30" font-size="10.4">Aged</text>
<line x1="651.10" y1="671.10" x2="651.10" y2="691.80" stroke="#111" stroke-width="1.3"/>
<text x="655.80" y="682.90" font-size="10.5">Young</text>
</svg>
</body></html>
